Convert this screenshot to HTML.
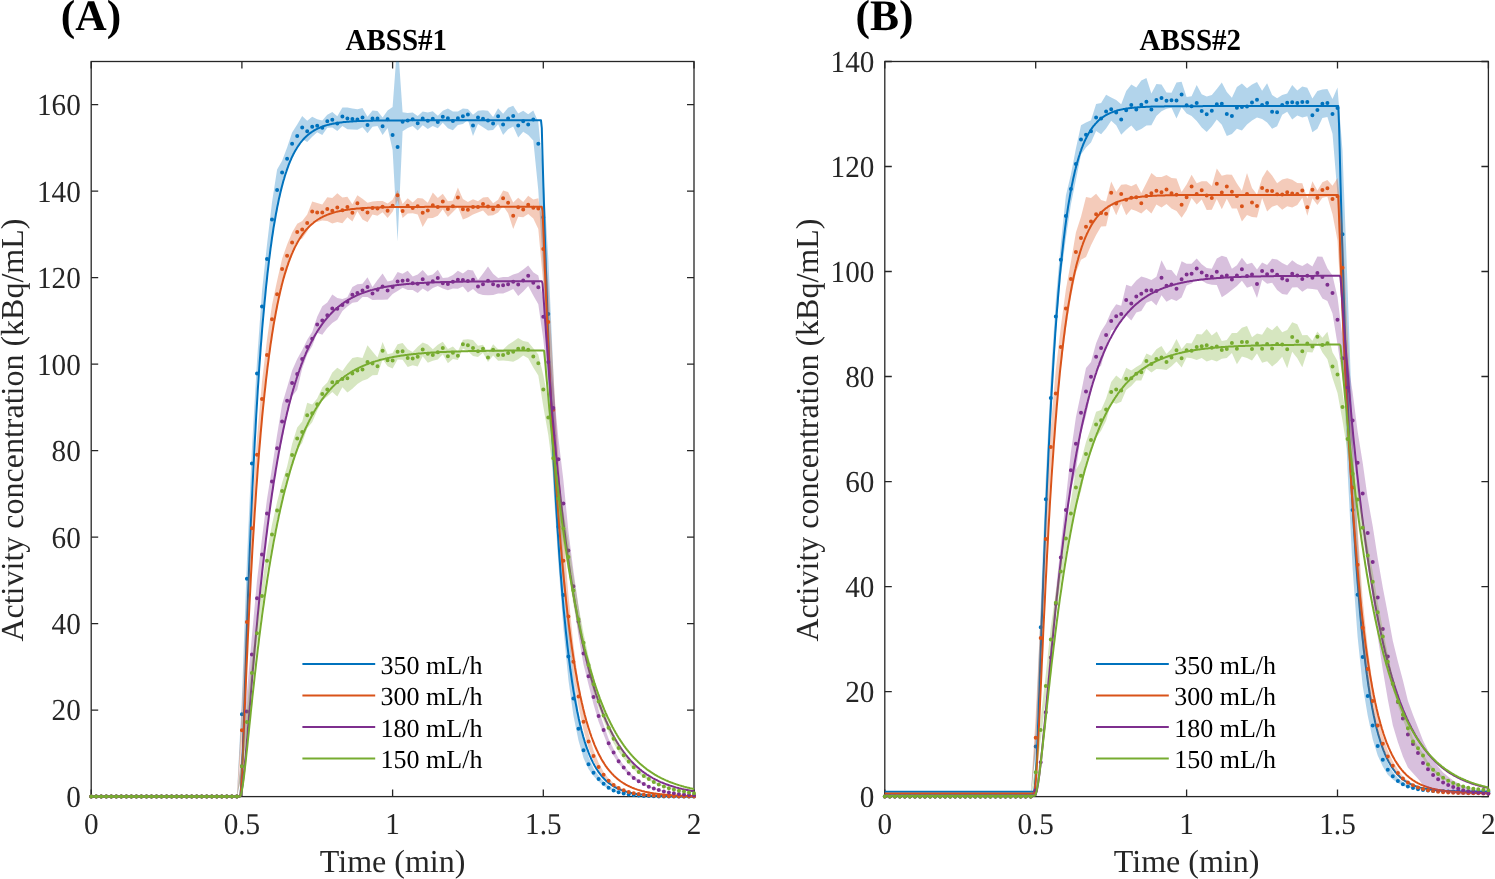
<!DOCTYPE html>
<html><head><meta charset="utf-8"><style>
html,body{margin:0;padding:0;background:#fff;overflow:hidden;width:1495px;height:879px;}
svg{display:block;}
text{font-family:"Liberation Serif","Times New Roman",serif;fill:#262626;text-rendering:geometricPrecision;}
.tk{font-size:29.2px;}
.lab{font-size:32px;}
.ttl{font-size:29px;font-weight:bold;fill:#000;}
.tag{font-size:43.5px;font-weight:bold;fill:#000;}
.lg{font-size:26px;fill:#000;}
</style></head><body>
<svg width="1495" height="879" viewBox="0 0 1495 879">
<rect width="1495" height="879" fill="#fff"/>
<clipPath id="clipA"><rect x="91.2" y="61.5" width="602.8" height="735.1"/></clipPath>
<rect x="91.2" y="61.5" width="602.8" height="735.1" fill="none" stroke="#262626" stroke-width="1.3"/>
<path d="M91.2 796.6v-7M91.2 61.5v7M241.9 796.6v-7M241.9 61.5v7M392.6 796.6v-7M392.6 61.5v7M543.3 796.6v-7M543.3 61.5v7M694.0 796.6v-7M694.0 61.5v7M91.2 796.6h7M694.0 796.6h-7M91.2 710.1h7M694.0 710.1h-7M91.2 623.6h7M694.0 623.6h-7M91.2 537.2h7M694.0 537.2h-7M91.2 450.7h7M694.0 450.7h-7M91.2 364.2h7M694.0 364.2h-7M91.2 277.7h7M694.0 277.7h-7M91.2 191.2h7M694.0 191.2h-7M91.2 104.7h7M694.0 104.7h-7" stroke="#262626" stroke-width="1.3" fill="none"/>
<path clip-path="url(#clipA)" d="M91.2 796.1 L96.2 796.1 L101.2 796.1 L106.3 796.1 L111.3 796.1 L116.3 796.1 L121.3 796.1 L126.4 796.1 L131.4 796.1 L136.4 796.1 L141.4 796.1 L146.5 796.1 L151.5 796.1 L156.5 796.1 L161.5 796.1 L166.6 796.1 L171.6 796.1 L176.6 796.1 L181.6 796.1 L186.6 796.1 L191.7 796.1 L196.7 796.1 L201.7 796.1 L206.7 796.1 L211.8 796.1 L216.8 796.1 L221.8 796.1 L226.8 796.1 L231.9 796.1 L236.9 796.1 L241.9 696.7 L246.9 561.3 L251.9 448.8 L257.0 361.1 L262.0 291.2 L267.0 244.6 L272.0 202.2 L277.1 169.6 L282.1 160.7 L287.1 147.4 L292.1 132.5 L297.2 124.4 L302.2 116.0 L307.2 120.7 L312.2 116.7 L317.2 119.3 L322.3 120.6 L327.3 114.7 L332.3 111.9 L337.3 116.3 L342.4 107.4 L347.4 107.5 L352.4 108.4 L357.4 109.3 L362.5 108.0 L367.5 116.8 L372.5 110.5 L377.5 111.1 L382.6 117.4 L387.6 110.6 L392.6 106.9 L397.6 39.9 L402.6 112.3 L407.7 112.9 L412.7 112.5 L417.7 115.9 L422.7 111.5 L427.8 112.4 L432.8 111.3 L437.8 115.8 L442.8 110.8 L447.9 108.5 L452.9 111.6 L457.9 111.5 L462.9 108.6 L467.9 108.9 L473.0 114.7 L478.0 110.8 L483.0 110.3 L488.0 110.8 L493.1 117.1 L498.1 108.2 L503.1 113.8 L508.1 107.7 L513.2 105.8 L518.2 113.6 L523.2 110.8 L528.2 114.2 L533.3 110.4 L538.3 122.0 L543.3 174.0 L548.3 258.6 L553.3 370.4 L558.4 478.6 L563.4 558.5 L568.4 623.2 L573.4 675.6 L578.5 712.6 L583.5 738.8 L588.5 756.8 L593.5 768.2 L598.6 775.6 L603.6 781.2 L608.6 785.6 L613.6 789.0 L618.6 791.3 L623.7 792.9 L628.7 794.0 L633.7 794.8 L638.7 795.4 L643.8 795.7 L648.8 796.0 L653.8 796.2 L658.8 796.3 L663.9 796.4 L668.9 796.5 L673.9 796.5 L678.9 796.5 L684.0 796.6 L689.0 796.6 L694.0 796.6 L694.0 796.6 L689.0 796.6 L684.0 796.6 L678.9 796.6 L673.9 796.5 L668.9 796.5 L663.9 796.5 L658.8 796.4 L653.8 796.3 L648.8 796.2 L643.8 796.0 L638.7 795.8 L633.7 795.4 L628.7 794.8 L623.7 794.1 L618.6 793.0 L613.6 791.4 L608.6 789.1 L603.6 785.8 L598.6 781.5 L593.5 776.1 L588.5 768.9 L583.5 758.0 L578.5 740.5 L573.4 715.5 L568.4 680.1 L563.4 628.2 L558.4 563.5 L553.3 485.5 L548.3 381.8 L543.3 272.1 L538.3 190.4 L533.3 140.4 L528.2 135.0 L523.2 131.8 L518.2 137.4 L513.2 126.4 L508.1 129.2 L503.1 135.0 L498.1 124.3 L493.1 130.0 L488.0 130.4 L483.0 127.3 L478.0 124.1 L473.0 136.1 L467.9 120.1 L462.9 123.9 L457.9 125.0 L452.9 130.2 L447.9 128.2 L442.8 122.7 L437.8 128.2 L432.8 126.1 L427.8 129.0 L422.7 125.3 L417.7 130.5 L412.7 126.0 L407.7 127.9 L402.6 131.3 L397.6 241.4 L392.6 150.1 L387.6 128.1 L382.6 135.0 L377.5 126.0 L372.5 126.7 L367.5 133.2 L362.5 127.3 L357.4 129.8 L352.4 129.4 L347.4 129.3 L342.4 125.9 L337.3 130.9 L332.3 127.5 L327.3 127.8 L322.3 135.0 L317.2 132.3 L312.2 136.8 L307.2 141.9 L302.2 139.1 L297.2 147.6 L292.1 155.5 L287.1 170.7 L282.1 185.0 L277.1 211.0 L272.0 237.8 L267.0 275.2 L262.0 323.6 L257.0 388.5 L251.9 481.6 L246.9 598.7 L241.9 724.7 L236.9 797.1 L231.9 797.1 L226.8 797.1 L221.8 797.1 L216.8 797.1 L211.8 797.1 L206.7 797.1 L201.7 797.1 L196.7 797.1 L191.7 797.1 L186.6 797.1 L181.6 797.1 L176.6 797.1 L171.6 797.1 L166.6 797.1 L161.5 797.1 L156.5 797.1 L151.5 797.1 L146.5 797.1 L141.4 797.1 L136.4 797.1 L131.4 797.1 L126.4 797.1 L121.3 797.1 L116.3 797.1 L111.3 797.1 L106.3 797.1 L101.2 797.1 L96.2 797.1 L91.2 797.1Z" fill="#0072bd" fill-opacity="0.3" stroke="none"/>
<path d="M91.2 796.6h0M96.2 796.6h0M101.2 796.6h0M106.3 796.6h0M111.3 796.6h0M116.3 796.6h0M121.3 796.6h0M126.4 796.6h0M131.4 796.6h0M136.4 796.6h0M141.4 796.6h0M146.5 796.6h0M151.5 796.6h0M156.5 796.6h0M161.5 796.6h0M166.6 796.6h0M171.6 796.6h0M176.6 796.6h0M181.6 796.6h0M186.6 796.6h0M191.7 796.6h0M196.7 796.6h0M201.7 796.6h0M206.7 796.6h0M211.8 796.6h0M216.8 796.6h0M221.8 796.6h0M226.8 796.6h0M231.9 796.6h0M236.9 796.6h0M241.9 714.3h0M246.9 578.8h0M251.9 463.5h0M257.0 373.5h0M262.0 306.4h0M267.0 259.1h0M272.0 219.5h0M277.1 189.9h0M282.1 172.5h0M287.1 158.8h0M292.1 143.8h0M297.2 135.9h0M302.2 127.4h0M307.2 131.2h0M312.2 126.7h0M317.2 125.8h0M322.3 127.8h0M327.3 121.2h0M332.3 119.7h0M337.3 123.6h0M342.4 116.6h0M347.4 118.4h0M352.4 118.9h0M357.4 119.5h0M362.5 117.6h0M367.5 125.0h0M372.5 118.6h0M377.5 118.6h0M382.6 126.2h0M387.6 119.3h0M392.6 135.0h0M397.6 147.1h0M402.6 121.8h0M407.7 120.4h0M412.7 119.2h0M417.7 123.2h0M422.7 118.4h0M427.8 120.7h0M432.8 118.7h0M437.8 122.0h0M442.8 116.8h0M447.9 118.3h0M452.9 120.9h0M457.9 118.3h0M462.9 116.2h0M467.9 114.5h0M473.0 125.4h0M478.0 117.4h0M483.0 118.8h0M488.0 120.6h0M493.1 123.6h0M498.1 116.2h0M503.1 124.4h0M508.1 118.5h0M513.2 116.1h0M518.2 125.5h0M523.2 121.3h0M528.2 124.6h0M533.3 119.6h0M538.3 143.7h0M543.3 217.2h0M548.3 314.0h0M553.3 435.5h0M558.4 526.8h0M563.4 595.1h0M568.4 656.5h0M573.4 698.4h0M578.5 728.7h0M583.5 750.3h0M588.5 764.2h0M593.5 772.8h0M598.6 778.9h0M603.6 783.7h0M608.6 787.7h0M613.6 790.4h0M618.6 792.3h0M623.7 793.6h0M628.7 794.5h0M633.7 795.1h0M638.7 795.6h0M643.8 795.9h0M648.8 796.1h0M653.8 796.3h0M658.8 796.4h0M663.9 796.4h0M668.9 796.5h0M673.9 796.5h0M678.9 796.5h0M684.0 796.6h0M689.0 796.6h0M694.0 796.6h0" stroke="#0072bd" stroke-width="4" stroke-linecap="round" fill="none"/>
<polyline points="91.2,796.6 92.0,796.6 92.7,796.6 93.5,796.6 94.2,796.6 95.0,796.6 95.7,796.6 96.5,796.6 97.2,796.6 98.0,796.6 98.7,796.6 99.5,796.6 100.2,796.6 101.0,796.6 101.7,796.6 102.5,796.6 103.3,796.6 104.0,796.6 104.8,796.6 105.5,796.6 106.3,796.6 107.0,796.6 107.8,796.6 108.5,796.6 109.3,796.6 110.0,796.6 110.8,796.6 111.5,796.6 112.3,796.6 113.1,796.6 113.8,796.6 114.6,796.6 115.3,796.6 116.1,796.6 116.8,796.6 117.6,796.6 118.3,796.6 119.1,796.6 119.8,796.6 120.6,796.6 121.3,796.6 122.1,796.6 122.8,796.6 123.6,796.6 124.4,796.6 125.1,796.6 125.9,796.6 126.6,796.6 127.4,796.6 128.1,796.6 128.9,796.6 129.6,796.6 130.4,796.6 131.1,796.6 131.9,796.6 132.6,796.6 133.4,796.6 134.1,796.6 134.9,796.6 135.7,796.6 136.4,796.6 137.2,796.6 137.9,796.6 138.7,796.6 139.4,796.6 140.2,796.6 140.9,796.6 141.7,796.6 142.4,796.6 143.2,796.6 143.9,796.6 144.7,796.6 145.5,796.6 146.2,796.6 147.0,796.6 147.7,796.6 148.5,796.6 149.2,796.6 150.0,796.6 150.7,796.6 151.5,796.6 152.2,796.6 153.0,796.6 153.7,796.6 154.5,796.6 155.2,796.6 156.0,796.6 156.8,796.6 157.5,796.6 158.3,796.6 159.0,796.6 159.8,796.6 160.5,796.6 161.3,796.6 162.0,796.6 162.8,796.6 163.5,796.6 164.3,796.6 165.0,796.6 165.8,796.6 166.6,796.6 167.3,796.6 168.1,796.6 168.8,796.6 169.6,796.6 170.3,796.6 171.1,796.6 171.8,796.6 172.6,796.6 173.3,796.6 174.1,796.6 174.8,796.6 175.6,796.6 176.3,796.6 177.1,796.6 177.9,796.6 178.6,796.6 179.4,796.6 180.1,796.6 180.9,796.6 181.6,796.6 182.4,796.6 183.1,796.6 183.9,796.6 184.6,796.6 185.4,796.6 186.1,796.6 186.9,796.6 187.6,796.6 188.4,796.6 189.2,796.6 189.9,796.6 190.7,796.6 191.4,796.6 192.2,796.6 192.9,796.6 193.7,796.6 194.4,796.6 195.2,796.6 195.9,796.6 196.7,796.6 197.4,796.6 198.2,796.6 199.0,796.6 199.7,796.6 200.5,796.6 201.2,796.6 202.0,796.6 202.7,796.6 203.5,796.6 204.2,796.6 205.0,796.6 205.7,796.6 206.5,796.6 207.2,796.6 208.0,796.6 208.7,796.6 209.5,796.6 210.3,796.6 211.0,796.6 211.8,796.6 212.5,796.6 213.3,796.6 214.0,796.6 214.8,796.6 215.5,796.6 216.3,796.6 217.0,796.6 217.8,796.6 218.5,796.6 219.3,796.6 220.0,796.6 220.8,796.6 221.6,796.6 222.3,796.6 223.1,796.6 223.8,796.6 224.6,796.6 225.3,796.6 226.1,796.6 226.8,796.6 227.6,796.6 228.3,796.6 229.1,796.6 229.8,796.6 230.6,796.6 231.4,796.6 232.1,796.6 232.9,796.6 233.6,796.6 234.4,796.6 235.1,796.6 235.9,796.6 236.6,796.6 237.4,796.6 238.1,796.6 238.9,796.6 239.6,796.6 240.4,795.7 241.1,786.7 241.9,771.4 242.7,752.2 243.4,730.8 244.2,708.4 244.9,685.6 245.7,663.0 246.4,640.8 247.2,619.2 247.9,598.3 248.7,578.1 249.4,558.6 250.2,540.0 250.9,522.0 251.7,504.9 252.4,488.4 253.2,472.6 254.0,457.5 254.7,443.1 255.5,429.2 256.2,416.0 257.0,403.3 257.7,391.1 258.5,379.5 259.2,368.4 260.0,357.8 260.7,347.6 261.5,337.8 262.2,328.5 263.0,319.5 263.8,311.0 264.5,302.8 265.3,295.0 266.0,287.5 266.8,280.3 267.5,273.4 268.3,266.9 269.0,260.6 269.8,254.6 270.5,248.8 271.3,243.3 272.0,238.0 272.8,233.0 273.5,228.1 274.3,223.5 275.1,219.1 275.8,214.8 276.6,210.8 277.3,206.9 278.1,203.2 278.8,199.6 279.6,196.2 280.3,193.0 281.1,189.8 281.8,186.9 282.6,184.0 283.3,181.3 284.1,178.7 284.8,176.2 285.6,173.8 286.4,171.5 287.1,169.3 287.9,167.2 288.6,165.2 289.4,163.2 290.1,161.4 290.9,159.6 291.6,157.9 292.4,156.3 293.1,154.8 293.9,153.3 294.6,151.9 295.4,150.5 296.2,149.2 296.9,148.0 297.7,146.8 298.4,145.7 299.2,144.6 299.9,143.5 300.7,142.5 301.4,141.6 302.2,140.7 302.9,139.8 303.7,139.0 304.4,138.2 305.2,137.4 305.9,136.7 306.7,136.0 307.5,135.3 308.2,134.6 309.0,134.0 309.7,133.4 310.5,132.9 311.2,132.3 312.0,131.8 312.7,131.3 313.5,130.9 314.2,130.4 315.0,130.0 315.7,129.6 316.5,129.2 317.2,128.8 318.0,128.4 318.8,128.1 319.5,127.7 320.3,127.4 321.0,127.1 321.8,126.8 322.5,126.5 323.3,126.3 324.0,126.0 324.8,125.8 325.5,125.5 326.3,125.3 327.0,125.1 327.8,124.9 328.6,124.7 329.3,124.5 330.1,124.3 330.8,124.2 331.6,124.0 332.3,123.8 333.1,123.7 333.8,123.5 334.6,123.4 335.3,123.3 336.1,123.1 336.8,123.0 337.6,122.9 338.3,122.8 339.1,122.7 339.9,122.6 340.6,122.5 341.4,122.4 342.1,122.3 342.9,122.2 343.6,122.1 344.4,122.1 345.1,122.0 345.9,121.9 346.6,121.8 347.4,121.8 348.1,121.7 348.9,121.7 349.7,121.6 350.4,121.5 351.2,121.5 351.9,121.4 352.7,121.4 353.4,121.3 354.2,121.3 354.9,121.3 355.7,121.2 356.4,121.2 357.2,121.1 357.9,121.1 358.7,121.1 359.4,121.0 360.2,121.0 361.0,121.0 361.7,120.9 362.5,120.9 363.2,120.9 364.0,120.9 364.7,120.8 365.5,120.8 366.2,120.8 367.0,120.8 367.7,120.8 368.5,120.7 369.2,120.7 370.0,120.7 370.7,120.7 371.5,120.7 372.3,120.7 373.0,120.6 373.8,120.6 374.5,120.6 375.3,120.6 376.0,120.6 376.8,120.6 377.5,120.6 378.3,120.6 379.0,120.5 379.8,120.5 380.5,120.5 381.3,120.5 382.1,120.5 382.8,120.5 383.6,120.5 384.3,120.5 385.1,120.5 385.8,120.5 386.6,120.5 387.3,120.5 388.1,120.4 388.8,120.4 389.6,120.4 390.3,120.4 391.1,120.4 391.8,120.4 392.6,120.4 393.4,120.4 394.1,120.4 394.9,120.4 395.6,120.4 396.4,120.4 397.1,120.4 397.9,120.4 398.6,120.4 399.4,120.4 400.1,120.4 400.9,120.4 401.6,120.4 402.4,120.4 403.1,120.4 403.9,120.4 404.7,120.4 405.4,120.4 406.2,120.4 406.9,120.4 407.7,120.4 408.4,120.3 409.2,120.3 409.9,120.3 410.7,120.3 411.4,120.3 412.2,120.3 412.9,120.3 413.7,120.3 414.5,120.3 415.2,120.3 416.0,120.3 416.7,120.3 417.5,120.3 418.2,120.3 419.0,120.3 419.7,120.3 420.5,120.3 421.2,120.3 422.0,120.3 422.7,120.3 423.5,120.3 424.2,120.3 425.0,120.3 425.8,120.3 426.5,120.3 427.3,120.3 428.0,120.3 428.8,120.3 429.5,120.3 430.3,120.3 431.0,120.3 431.8,120.3 432.5,120.3 433.3,120.3 434.0,120.3 434.8,120.3 435.5,120.3 436.3,120.3 437.1,120.3 437.8,120.3 438.6,120.3 439.3,120.3 440.1,120.3 440.8,120.3 441.6,120.3 442.3,120.3 443.1,120.3 443.8,120.3 444.6,120.3 445.3,120.3 446.1,120.3 446.9,120.3 447.6,120.3 448.4,120.3 449.1,120.3 449.9,120.3 450.6,120.3 451.4,120.3 452.1,120.3 452.9,120.3 453.6,120.3 454.4,120.3 455.1,120.3 455.9,120.3 456.6,120.3 457.4,120.3 458.2,120.3 458.9,120.3 459.7,120.3 460.4,120.3 461.2,120.3 461.9,120.3 462.7,120.3 463.4,120.3 464.2,120.3 464.9,120.3 465.7,120.3 466.4,120.3 467.2,120.3 467.9,120.3 468.7,120.3 469.5,120.3 470.2,120.3 471.0,120.3 471.7,120.3 472.5,120.3 473.2,120.3 474.0,120.3 474.7,120.3 475.5,120.3 476.2,120.3 477.0,120.3 477.7,120.3 478.5,120.3 479.3,120.3 480.0,120.3 480.8,120.3 481.5,120.3 482.3,120.3 483.0,120.3 483.8,120.3 484.5,120.3 485.3,120.3 486.0,120.3 486.8,120.3 487.5,120.3 488.3,120.3 489.0,120.3 489.8,120.3 490.6,120.3 491.3,120.3 492.1,120.3 492.8,120.3 493.6,120.3 494.3,120.3 495.1,120.3 495.8,120.3 496.6,120.3 497.3,120.3 498.1,120.3 498.8,120.3 499.6,120.3 500.4,120.3 501.1,120.3 501.9,120.3 502.6,120.3 503.4,120.3 504.1,120.3 504.9,120.3 505.6,120.3 506.4,120.3 507.1,120.3 507.9,120.3 508.6,120.3 509.4,120.3 510.1,120.3 510.9,120.3 511.7,120.3 512.4,120.3 513.2,120.3 513.9,120.3 514.7,120.3 515.4,120.3 516.2,120.3 516.9,120.3 517.7,120.3 518.4,120.3 519.2,120.3 519.9,120.3 520.7,120.3 521.4,120.3 522.2,120.3 523.0,120.3 523.7,120.3 524.5,120.3 525.2,120.3 526.0,120.3 526.7,120.3 527.5,120.3 528.2,120.3 529.0,120.3 529.7,120.3 530.5,120.3 531.2,120.3 532.0,120.3 532.8,120.3 533.5,120.3 534.3,120.3 535.0,120.3 535.8,120.3 536.5,120.3 537.3,120.3 538.0,120.3 538.8,120.3 539.5,120.3 540.3,120.3 541.0,120.3 541.8,128.0 542.5,155.0 543.3,182.5 544.1,208.8 544.8,234.0 545.6,258.2 546.3,281.3 547.1,303.4 547.8,324.6 548.6,344.8 549.3,364.2 550.1,382.8 550.8,400.5 551.6,417.5 552.3,433.8 553.1,449.3 553.8,464.2 554.6,478.5 555.4,492.2 556.1,505.2 556.9,517.7 557.6,529.7 558.4,541.1 559.1,552.1 559.9,562.6 560.6,572.6 561.4,582.3 562.1,591.4 562.9,600.3 563.6,608.7 564.4,616.7 565.2,624.5 565.9,631.8 566.7,638.9 567.4,645.7 568.2,652.2 568.9,658.4 569.7,664.3 570.4,670.0 571.2,675.4 571.9,680.6 572.7,685.6 573.4,690.3 574.2,694.9 574.9,699.3 575.7,703.4 576.5,707.4 577.2,711.3 578.0,714.9 578.7,718.4 579.5,721.8 580.2,725.0 581.0,728.1 581.7,731.0 582.5,733.8 583.2,736.5 584.0,739.1 584.7,741.6 585.5,743.9 586.2,746.2 587.0,748.4 587.8,750.4 588.5,752.4 589.3,754.3 590.0,756.1 590.8,757.9 591.5,759.5 592.3,761.1 593.0,762.6 593.8,764.1 594.5,765.5 595.3,766.8 596.0,768.1 596.8,769.3 597.6,770.5 598.3,771.6 599.1,772.7 599.8,773.7 600.6,774.7 601.3,775.6 602.1,776.5 602.8,777.4 603.6,778.2 604.3,779.0 605.1,779.8 605.8,780.5 606.6,781.2 607.3,781.8 608.1,782.5 608.9,783.1 609.6,783.7 610.4,784.2 611.1,784.7 611.9,785.3 612.6,785.7 613.4,786.2 614.1,786.7 614.9,787.1 615.6,787.5 616.4,787.9 617.1,788.3 617.9,788.6 618.6,789.0 619.4,789.3 620.2,789.6 620.9,789.9 621.7,790.2 622.4,790.5 623.2,790.7 623.9,791.0 624.7,791.2 625.4,791.4 626.2,791.7 626.9,791.9 627.7,792.1 628.4,792.3 629.2,792.5 630.0,792.6 630.7,792.8 631.5,793.0 632.2,793.1 633.0,793.3 633.7,793.4 634.5,793.6 635.2,793.7 636.0,793.8 636.7,793.9 637.5,794.0 638.2,794.2 639.0,794.3 639.7,794.4 640.5,794.5 641.3,794.5 642.0,794.6 642.8,794.7 643.5,794.8 644.3,794.9 645.0,795.0 645.8,795.0 646.5,795.1 647.3,795.2 648.0,795.2 648.8,795.3 649.5,795.3 650.3,795.4 651.1,795.4 651.8,795.5 652.6,795.5 653.3,795.6 654.1,795.6 654.8,795.7 655.6,795.7 656.3,795.7 657.1,795.8 657.8,795.8 658.6,795.9 659.3,795.9 660.1,795.9 660.8,795.9 661.6,796.0 662.4,796.0 663.1,796.0 663.9,796.0 664.6,796.1 665.4,796.1 666.1,796.1 666.9,796.1 667.6,796.2 668.4,796.2 669.1,796.2 669.9,796.2 670.6,796.2 671.4,796.2 672.1,796.3 672.9,796.3 673.7,796.3 674.4,796.3 675.2,796.3 675.9,796.3 676.7,796.3 677.4,796.4 678.2,796.4 678.9,796.4 679.7,796.4 680.4,796.4 681.2,796.4 681.9,796.4 682.7,796.4 683.5,796.4 684.2,796.4 685.0,796.4 685.7,796.4 686.5,796.5 687.2,796.5 688.0,796.5 688.7,796.5 689.5,796.5 690.2,796.5 691.0,796.5 691.7,796.5 692.5,796.5 693.2,796.5 694.0,796.5" fill="none" stroke="#0072bd" stroke-width="2" stroke-linejoin="round"/>
<path clip-path="url(#clipA)" d="M91.2 796.1 L96.2 796.1 L101.2 796.1 L106.3 796.1 L111.3 796.1 L116.3 796.1 L121.3 796.1 L126.4 796.1 L131.4 796.1 L136.4 796.1 L141.4 796.1 L146.5 796.1 L151.5 796.1 L156.5 796.1 L161.5 796.1 L166.6 796.1 L171.6 796.1 L176.6 796.1 L181.6 796.1 L186.6 796.1 L191.7 796.1 L196.7 796.1 L201.7 796.1 L206.7 796.1 L211.8 796.1 L216.8 796.1 L221.8 796.1 L226.8 796.1 L231.9 796.1 L236.9 796.1 L241.9 707.7 L246.9 600.9 L251.9 510.1 L257.0 438.2 L262.0 381.4 L267.0 339.4 L272.0 305.0 L277.1 280.8 L282.1 258.7 L287.1 244.4 L292.1 232.5 L297.2 223.7 L302.2 220.9 L307.2 214.5 L312.2 201.4 L317.2 203.1 L322.3 204.4 L327.3 197.2 L332.3 197.9 L337.3 193.3 L342.4 197.4 L347.4 196.7 L352.4 204.3 L357.4 195.3 L362.5 198.7 L367.5 202.7 L372.5 201.6 L377.5 201.0 L382.6 201.0 L387.6 203.5 L392.6 199.8 L397.6 190.0 L402.6 204.1 L407.7 198.2 L412.7 202.5 L417.7 198.0 L422.7 198.5 L427.8 202.8 L432.8 192.6 L437.8 198.1 L442.8 193.7 L447.9 201.2 L452.9 200.4 L457.9 187.6 L462.9 199.0 L467.9 201.9 L473.0 199.2 L478.0 201.3 L483.0 197.6 L488.0 197.0 L493.1 203.3 L498.1 199.7 L503.1 190.5 L508.1 192.1 L513.2 202.6 L518.2 197.7 L523.2 202.0 L528.2 195.7 L533.3 199.5 L538.3 198.2 L543.3 226.1 L548.3 284.9 L553.3 371.9 L558.4 458.1 L563.4 532.2 L568.4 594.9 L573.4 644.6 L578.5 683.5 L583.5 711.0 L588.5 733.6 L593.5 750.3 L598.6 762.8 L603.6 771.9 L608.6 778.4 L613.6 783.3 L618.6 786.8 L623.7 789.4 L628.7 791.3 L633.7 792.8 L638.7 793.8 L643.8 794.5 L648.8 795.1 L653.8 795.5 L658.8 795.8 L663.9 796.0 L668.9 796.2 L673.9 796.3 L678.9 796.4 L684.0 796.4 L689.0 796.5 L694.0 796.5 L694.0 796.5 L689.0 796.5 L684.0 796.5 L678.9 796.4 L673.9 796.4 L668.9 796.3 L663.9 796.1 L658.8 796.0 L653.8 795.8 L648.8 795.5 L643.8 795.0 L638.7 794.4 L633.7 793.6 L628.7 792.5 L623.7 791.0 L618.6 788.9 L613.6 786.4 L608.6 782.4 L603.6 777.1 L598.6 770.2 L593.5 760.6 L588.5 747.8 L583.5 730.1 L578.5 706.6 L573.4 675.4 L568.4 633.9 L563.4 584.8 L558.4 521.0 L553.3 446.1 L548.3 363.5 L543.3 284.1 L538.3 229.1 L533.3 218.4 L528.2 213.9 L523.2 217.2 L518.2 216.8 L513.2 229.1 L508.1 213.2 L503.1 206.0 L498.1 212.6 L493.1 215.2 L488.0 215.7 L483.0 210.5 L478.0 212.6 L473.0 214.6 L467.9 217.6 L462.9 219.6 L457.9 207.1 L452.9 212.0 L447.9 216.9 L442.8 209.3 L437.8 215.8 L432.8 218.1 L427.8 218.3 L422.7 227.0 L417.7 214.5 L412.7 213.3 L407.7 213.4 L402.6 218.1 L397.6 200.5 L392.6 211.7 L387.6 218.1 L382.6 212.3 L377.5 215.8 L372.5 214.5 L367.5 222.3 L362.5 219.6 L357.4 211.3 L352.4 221.4 L347.4 217.3 L342.4 223.3 L337.3 222.0 L332.3 223.6 L327.3 220.9 L322.3 220.6 L317.2 222.1 L312.2 222.1 L307.2 231.6 L302.2 238.5 L297.2 240.7 L292.1 253.1 L287.1 267.7 L282.1 280.5 L277.1 308.7 L272.0 335.1 L267.0 372.4 L262.0 418.9 L257.0 474.4 L251.9 550.2 L246.9 646.3 L241.9 743.3 L236.9 797.1 L231.9 797.1 L226.8 797.1 L221.8 797.1 L216.8 797.1 L211.8 797.1 L206.7 797.1 L201.7 797.1 L196.7 797.1 L191.7 797.1 L186.6 797.1 L181.6 797.1 L176.6 797.1 L171.6 797.1 L166.6 797.1 L161.5 797.1 L156.5 797.1 L151.5 797.1 L146.5 797.1 L141.4 797.1 L136.4 797.1 L131.4 797.1 L126.4 797.1 L121.3 797.1 L116.3 797.1 L111.3 797.1 L106.3 797.1 L101.2 797.1 L96.2 797.1 L91.2 797.1Z" fill="#d95319" fill-opacity="0.3" stroke="none"/>
<path d="M91.2 796.6h0M96.2 796.6h0M101.2 796.6h0M106.3 796.6h0M111.3 796.6h0M116.3 796.6h0M121.3 796.6h0M126.4 796.6h0M131.4 796.6h0M136.4 796.6h0M141.4 796.6h0M146.5 796.6h0M151.5 796.6h0M156.5 796.6h0M161.5 796.6h0M166.6 796.6h0M171.6 796.6h0M176.6 796.6h0M181.6 796.6h0M186.6 796.6h0M191.7 796.6h0M196.7 796.6h0M201.7 796.6h0M206.7 796.6h0M211.8 796.6h0M216.8 796.6h0M221.8 796.6h0M226.8 796.6h0M231.9 796.6h0M236.9 796.6h0M241.9 730.2h0M246.9 622.0h0M251.9 528.2h0M257.0 454.7h0M262.0 398.9h0M267.0 354.9h0M272.0 319.3h0M277.1 294.2h0M282.1 269.1h0M287.1 255.7h0M292.1 242.5h0M297.2 232.0h0M302.2 229.5h0M307.2 222.9h0M312.2 211.6h0M317.2 212.5h0M322.3 212.4h0M327.3 209.0h0M332.3 210.7h0M337.3 207.6h0M342.4 210.3h0M347.4 207.0h0M352.4 212.8h0M357.4 203.3h0M362.5 209.2h0M367.5 212.5h0M372.5 208.0h0M377.5 208.4h0M382.6 206.7h0M387.6 210.8h0M392.6 205.8h0M397.6 195.2h0M402.6 211.1h0M407.7 205.8h0M412.7 207.9h0M417.7 206.2h0M422.7 212.7h0M427.8 210.6h0M432.8 205.3h0M437.8 206.9h0M442.8 201.5h0M447.9 209.1h0M452.9 206.2h0M457.9 197.4h0M462.9 209.3h0M467.9 209.7h0M473.0 206.9h0M478.0 206.9h0M483.0 204.1h0M488.0 206.4h0M493.1 209.2h0M498.1 206.1h0M503.1 198.2h0M508.1 202.7h0M513.2 215.8h0M518.2 207.3h0M523.2 209.6h0M528.2 204.8h0M533.3 207.7h0M538.3 208.5h0M543.3 248.9h0M548.3 321.9h0M553.3 409.8h0M558.4 491.6h0M563.4 560.8h0M568.4 616.5h0M573.4 661.8h0M578.5 696.5h0M583.5 721.7h0M588.5 741.6h0M593.5 756.1h0M598.6 767.0h0M603.6 774.8h0M608.6 780.7h0M613.6 785.1h0M618.6 788.0h0M623.7 790.3h0M628.7 792.0h0M633.7 793.2h0M638.7 794.1h0M643.8 794.8h0M648.8 795.3h0M653.8 795.6h0M658.8 795.9h0M663.9 796.1h0M668.9 796.2h0M673.9 796.3h0M678.9 796.4h0M684.0 796.5h0M689.0 796.5h0M694.0 796.5h0" stroke="#d95319" stroke-width="4" stroke-linecap="round" fill="none"/>
<polyline points="91.2,796.6 92.0,796.6 92.7,796.6 93.5,796.6 94.2,796.6 95.0,796.6 95.7,796.6 96.5,796.6 97.2,796.6 98.0,796.6 98.7,796.6 99.5,796.6 100.2,796.6 101.0,796.6 101.7,796.6 102.5,796.6 103.3,796.6 104.0,796.6 104.8,796.6 105.5,796.6 106.3,796.6 107.0,796.6 107.8,796.6 108.5,796.6 109.3,796.6 110.0,796.6 110.8,796.6 111.5,796.6 112.3,796.6 113.1,796.6 113.8,796.6 114.6,796.6 115.3,796.6 116.1,796.6 116.8,796.6 117.6,796.6 118.3,796.6 119.1,796.6 119.8,796.6 120.6,796.6 121.3,796.6 122.1,796.6 122.8,796.6 123.6,796.6 124.4,796.6 125.1,796.6 125.9,796.6 126.6,796.6 127.4,796.6 128.1,796.6 128.9,796.6 129.6,796.6 130.4,796.6 131.1,796.6 131.9,796.6 132.6,796.6 133.4,796.6 134.1,796.6 134.9,796.6 135.7,796.6 136.4,796.6 137.2,796.6 137.9,796.6 138.7,796.6 139.4,796.6 140.2,796.6 140.9,796.6 141.7,796.6 142.4,796.6 143.2,796.6 143.9,796.6 144.7,796.6 145.5,796.6 146.2,796.6 147.0,796.6 147.7,796.6 148.5,796.6 149.2,796.6 150.0,796.6 150.7,796.6 151.5,796.6 152.2,796.6 153.0,796.6 153.7,796.6 154.5,796.6 155.2,796.6 156.0,796.6 156.8,796.6 157.5,796.6 158.3,796.6 159.0,796.6 159.8,796.6 160.5,796.6 161.3,796.6 162.0,796.6 162.8,796.6 163.5,796.6 164.3,796.6 165.0,796.6 165.8,796.6 166.6,796.6 167.3,796.6 168.1,796.6 168.8,796.6 169.6,796.6 170.3,796.6 171.1,796.6 171.8,796.6 172.6,796.6 173.3,796.6 174.1,796.6 174.8,796.6 175.6,796.6 176.3,796.6 177.1,796.6 177.9,796.6 178.6,796.6 179.4,796.6 180.1,796.6 180.9,796.6 181.6,796.6 182.4,796.6 183.1,796.6 183.9,796.6 184.6,796.6 185.4,796.6 186.1,796.6 186.9,796.6 187.6,796.6 188.4,796.6 189.2,796.6 189.9,796.6 190.7,796.6 191.4,796.6 192.2,796.6 192.9,796.6 193.7,796.6 194.4,796.6 195.2,796.6 195.9,796.6 196.7,796.6 197.4,796.6 198.2,796.6 199.0,796.6 199.7,796.6 200.5,796.6 201.2,796.6 202.0,796.6 202.7,796.6 203.5,796.6 204.2,796.6 205.0,796.6 205.7,796.6 206.5,796.6 207.2,796.6 208.0,796.6 208.7,796.6 209.5,796.6 210.3,796.6 211.0,796.6 211.8,796.6 212.5,796.6 213.3,796.6 214.0,796.6 214.8,796.6 215.5,796.6 216.3,796.6 217.0,796.6 217.8,796.6 218.5,796.6 219.3,796.6 220.0,796.6 220.8,796.6 221.6,796.6 222.3,796.6 223.1,796.6 223.8,796.6 224.6,796.6 225.3,796.6 226.1,796.6 226.8,796.6 227.6,796.6 228.3,796.6 229.1,796.6 229.8,796.6 230.6,796.6 231.4,796.6 232.1,796.6 232.9,796.6 233.6,796.6 234.4,796.6 235.1,796.6 235.9,796.6 236.6,796.6 237.4,796.6 238.1,796.6 238.9,796.6 239.6,796.6 240.4,795.8 241.1,788.0 241.9,774.9 242.7,759.0 243.4,741.6 244.2,723.6 244.9,705.6 245.7,687.8 246.4,670.3 247.2,653.3 247.9,636.9 248.7,621.0 249.4,605.7 250.2,590.9 250.9,576.6 251.7,562.9 252.4,549.7 253.2,536.9 254.0,524.6 254.7,512.8 255.5,501.5 256.2,490.5 257.0,480.0 257.7,469.8 258.5,460.0 259.2,450.6 260.0,441.6 260.7,432.8 261.5,424.4 262.2,416.3 263.0,408.5 263.8,401.0 264.5,393.8 265.3,386.9 266.0,380.2 266.8,373.7 267.5,367.5 268.3,361.6 269.0,355.8 269.8,350.3 270.5,344.9 271.3,339.8 272.0,334.9 272.8,330.1 273.5,325.5 274.3,321.1 275.1,316.8 275.8,312.8 276.6,308.8 277.3,305.0 278.1,301.4 278.8,297.9 279.6,294.5 280.3,291.2 281.1,288.1 281.8,285.1 282.6,282.1 283.3,279.3 284.1,276.6 284.8,274.1 285.6,271.6 286.4,269.1 287.1,266.8 287.9,264.6 288.6,262.4 289.4,260.4 290.1,258.4 290.9,256.5 291.6,254.6 292.4,252.8 293.1,251.1 293.9,249.5 294.6,247.9 295.4,246.4 296.2,244.9 296.9,243.5 297.7,242.1 298.4,240.8 299.2,239.5 299.9,238.3 300.7,237.2 301.4,236.0 302.2,234.9 302.9,233.9 303.7,232.9 304.4,231.9 305.2,231.0 305.9,230.1 306.7,229.2 307.5,228.4 308.2,227.6 309.0,226.8 309.7,226.1 310.5,225.3 311.2,224.7 312.0,224.0 312.7,223.4 313.5,222.7 314.2,222.1 315.0,221.6 315.7,221.0 316.5,220.5 317.2,220.0 318.0,219.5 318.8,219.0 319.5,218.6 320.3,218.1 321.0,217.7 321.8,217.3 322.5,216.9 323.3,216.5 324.0,216.2 324.8,215.8 325.5,215.5 326.3,215.2 327.0,214.9 327.8,214.6 328.6,214.3 329.3,214.0 330.1,213.7 330.8,213.5 331.6,213.2 332.3,213.0 333.1,212.7 333.8,212.5 334.6,212.3 335.3,212.1 336.1,211.9 336.8,211.7 337.6,211.5 338.3,211.4 339.1,211.2 339.9,211.0 340.6,210.9 341.4,210.7 342.1,210.6 342.9,210.4 343.6,210.3 344.4,210.2 345.1,210.0 345.9,209.9 346.6,209.8 347.4,209.7 348.1,209.6 348.9,209.5 349.7,209.4 350.4,209.3 351.2,209.2 351.9,209.1 352.7,209.0 353.4,208.9 354.2,208.9 354.9,208.8 355.7,208.7 356.4,208.6 357.2,208.6 357.9,208.5 358.7,208.4 359.4,208.4 360.2,208.3 361.0,208.3 361.7,208.2 362.5,208.1 363.2,208.1 364.0,208.1 364.7,208.0 365.5,208.0 366.2,207.9 367.0,207.9 367.7,207.8 368.5,207.8 369.2,207.8 370.0,207.7 370.7,207.7 371.5,207.7 372.3,207.6 373.0,207.6 373.8,207.6 374.5,207.5 375.3,207.5 376.0,207.5 376.8,207.5 377.5,207.4 378.3,207.4 379.0,207.4 379.8,207.4 380.5,207.3 381.3,207.3 382.1,207.3 382.8,207.3 383.6,207.3 384.3,207.2 385.1,207.2 385.8,207.2 386.6,207.2 387.3,207.2 388.1,207.2 388.8,207.2 389.6,207.1 390.3,207.1 391.1,207.1 391.8,207.1 392.6,207.1 393.4,207.1 394.1,207.1 394.9,207.1 395.6,207.0 396.4,207.0 397.1,207.0 397.9,207.0 398.6,207.0 399.4,207.0 400.1,207.0 400.9,207.0 401.6,207.0 402.4,207.0 403.1,207.0 403.9,207.0 404.7,207.0 405.4,206.9 406.2,206.9 406.9,206.9 407.7,206.9 408.4,206.9 409.2,206.9 409.9,206.9 410.7,206.9 411.4,206.9 412.2,206.9 412.9,206.9 413.7,206.9 414.5,206.9 415.2,206.9 416.0,206.9 416.7,206.9 417.5,206.9 418.2,206.9 419.0,206.9 419.7,206.9 420.5,206.9 421.2,206.9 422.0,206.9 422.7,206.9 423.5,206.9 424.2,206.9 425.0,206.8 425.8,206.8 426.5,206.8 427.3,206.8 428.0,206.8 428.8,206.8 429.5,206.8 430.3,206.8 431.0,206.8 431.8,206.8 432.5,206.8 433.3,206.8 434.0,206.8 434.8,206.8 435.5,206.8 436.3,206.8 437.1,206.8 437.8,206.8 438.6,206.8 439.3,206.8 440.1,206.8 440.8,206.8 441.6,206.8 442.3,206.8 443.1,206.8 443.8,206.8 444.6,206.8 445.3,206.8 446.1,206.8 446.9,206.8 447.6,206.8 448.4,206.8 449.1,206.8 449.9,206.8 450.6,206.8 451.4,206.8 452.1,206.8 452.9,206.8 453.6,206.8 454.4,206.8 455.1,206.8 455.9,206.8 456.6,206.8 457.4,206.8 458.2,206.8 458.9,206.8 459.7,206.8 460.4,206.8 461.2,206.8 461.9,206.8 462.7,206.8 463.4,206.8 464.2,206.8 464.9,206.8 465.7,206.8 466.4,206.8 467.2,206.8 467.9,206.8 468.7,206.8 469.5,206.8 470.2,206.8 471.0,206.8 471.7,206.8 472.5,206.8 473.2,206.8 474.0,206.8 474.7,206.8 475.5,206.8 476.2,206.8 477.0,206.8 477.7,206.8 478.5,206.8 479.3,206.8 480.0,206.8 480.8,206.8 481.5,206.8 482.3,206.8 483.0,206.8 483.8,206.8 484.5,206.8 485.3,206.8 486.0,206.8 486.8,206.8 487.5,206.8 488.3,206.8 489.0,206.8 489.8,206.8 490.6,206.8 491.3,206.8 492.1,206.8 492.8,206.8 493.6,206.8 494.3,206.8 495.1,206.8 495.8,206.8 496.6,206.8 497.3,206.8 498.1,206.8 498.8,206.8 499.6,206.8 500.4,206.8 501.1,206.8 501.9,206.8 502.6,206.8 503.4,206.8 504.1,206.8 504.9,206.8 505.6,206.8 506.4,206.8 507.1,206.8 507.9,206.8 508.6,206.8 509.4,206.8 510.1,206.8 510.9,206.8 511.7,206.8 512.4,206.8 513.2,206.8 513.9,206.8 514.7,206.8 515.4,206.8 516.2,206.8 516.9,206.8 517.7,206.8 518.4,206.8 519.2,206.8 519.9,206.8 520.7,206.8 521.4,206.8 522.2,206.8 523.0,206.8 523.7,206.8 524.5,206.8 525.2,206.8 526.0,206.8 526.7,206.8 527.5,206.8 528.2,206.8 529.0,206.8 529.7,206.8 530.5,206.8 531.2,206.8 532.0,206.8 532.8,206.8 533.5,206.8 534.3,206.8 535.0,206.8 535.8,206.8 536.5,206.8 537.3,206.8 538.0,206.8 538.8,206.8 539.5,206.8 540.3,206.8 541.0,206.8 541.8,206.8 542.5,210.9 543.3,229.0 544.1,248.4 544.8,267.4 545.6,285.7 546.3,303.3 547.1,320.4 547.8,336.9 548.6,352.8 549.3,368.1 550.1,383.0 550.8,397.3 551.6,411.1 552.3,424.4 553.1,437.3 553.8,449.7 554.6,461.7 555.4,473.3 556.1,484.5 556.9,495.3 557.6,505.7 558.4,515.8 559.1,525.5 559.9,534.9 560.6,543.9 561.4,552.7 562.1,561.1 562.9,569.3 563.6,577.1 564.4,584.7 565.2,592.1 565.9,599.1 566.7,606.0 567.4,612.6 568.2,618.9 568.9,625.1 569.7,631.0 570.4,636.7 571.2,642.3 571.9,647.6 572.7,652.8 573.4,657.7 574.2,662.6 574.9,667.2 575.7,671.7 576.5,676.0 577.2,680.2 578.0,684.2 578.7,688.1 579.5,691.8 580.2,695.5 581.0,699.0 581.7,702.3 582.5,705.6 583.2,708.7 584.0,711.8 584.7,714.7 585.5,717.6 586.2,720.3 587.0,722.9 587.8,725.5 588.5,727.9 589.3,730.3 590.0,732.6 590.8,734.8 591.5,737.0 592.3,739.0 593.0,741.0 593.8,742.9 594.5,744.8 595.3,746.6 596.0,748.3 596.8,750.0 597.6,751.6 598.3,753.2 599.1,754.7 599.8,756.1 600.6,757.5 601.3,758.9 602.1,760.2 602.8,761.4 603.6,762.6 604.3,763.8 605.1,765.0 605.8,766.1 606.6,767.1 607.3,768.1 608.1,769.1 608.9,770.1 609.6,771.0 610.4,771.9 611.1,772.7 611.9,773.6 612.6,774.3 613.4,775.1 614.1,775.9 614.9,776.6 615.6,777.3 616.4,777.9 617.1,778.6 617.9,779.2 618.6,779.8 619.4,780.4 620.2,781.0 620.9,781.5 621.7,782.0 622.4,782.5 623.2,783.0 623.9,783.5 624.7,783.9 625.4,784.4 626.2,784.8 626.9,785.2 627.7,785.6 628.4,786.0 629.2,786.3 630.0,786.7 630.7,787.0 631.5,787.4 632.2,787.7 633.0,788.0 633.7,788.3 634.5,788.6 635.2,788.9 636.0,789.1 636.7,789.4 637.5,789.6 638.2,789.9 639.0,790.1 639.7,790.3 640.5,790.6 641.3,790.8 642.0,791.0 642.8,791.2 643.5,791.3 644.3,791.5 645.0,791.7 645.8,791.9 646.5,792.0 647.3,792.2 648.0,792.3 648.8,792.5 649.5,792.6 650.3,792.8 651.1,792.9 651.8,793.0 652.6,793.2 653.3,793.3 654.1,793.4 654.8,793.5 655.6,793.6 656.3,793.7 657.1,793.8 657.8,793.9 658.6,794.0 659.3,794.1 660.1,794.2 660.8,794.3 661.6,794.3 662.4,794.4 663.1,794.5 663.9,794.6 664.6,794.6 665.4,794.7 666.1,794.8 666.9,794.8 667.6,794.9 668.4,795.0 669.1,795.0 669.9,795.1 670.6,795.1 671.4,795.2 672.1,795.2 672.9,795.3 673.7,795.3 674.4,795.4 675.2,795.4 675.9,795.4 676.7,795.5 677.4,795.5 678.2,795.6 678.9,795.6 679.7,795.6 680.4,795.7 681.2,795.7 681.9,795.7 682.7,795.8 683.5,795.8 684.2,795.8 685.0,795.8 685.7,795.9 686.5,795.9 687.2,795.9 688.0,795.9 688.7,796.0 689.5,796.0 690.2,796.0 691.0,796.0 691.7,796.0 692.5,796.1 693.2,796.1 694.0,796.1" fill="none" stroke="#d95319" stroke-width="2" stroke-linejoin="round"/>
<path clip-path="url(#clipA)" d="M91.2 796.1 L96.2 796.1 L101.2 796.1 L106.3 796.1 L111.3 796.1 L116.3 796.1 L121.3 796.1 L126.4 796.1 L131.4 796.1 L136.4 796.1 L141.4 796.1 L146.5 796.1 L151.5 796.1 L156.5 796.1 L161.5 796.1 L166.6 796.1 L171.6 796.1 L176.6 796.1 L181.6 796.1 L186.6 796.1 L191.7 796.1 L196.7 796.1 L201.7 796.1 L206.7 796.1 L211.8 796.1 L216.8 796.1 L221.8 796.1 L226.8 796.1 L231.9 796.1 L236.9 796.1 L241.9 749.5 L246.9 692.5 L251.9 636.3 L257.0 580.6 L262.0 538.3 L267.0 499.0 L272.0 467.9 L277.1 434.7 L282.1 404.2 L287.1 387.5 L292.1 370.4 L297.2 359.1 L302.2 350.0 L307.2 339.7 L312.2 331.9 L317.2 316.8 L322.3 306.3 L327.3 302.6 L332.3 294.5 L337.3 297.9 L342.4 299.1 L347.4 297.3 L352.4 287.0 L357.4 284.3 L362.5 283.8 L367.5 277.3 L372.5 287.0 L377.5 279.9 L382.6 273.4 L387.6 281.5 L392.6 280.3 L397.6 272.1 L402.6 273.7 L407.7 270.7 L412.7 276.4 L417.7 274.4 L422.7 270.1 L427.8 275.7 L432.8 274.5 L437.8 269.8 L442.8 277.9 L447.9 277.5 L452.9 275.1 L457.9 270.8 L462.9 273.5 L467.9 269.7 L473.0 270.5 L478.0 279.9 L483.0 273.5 L488.0 266.4 L493.1 273.7 L498.1 277.9 L503.1 277.0 L508.1 277.1 L513.2 274.6 L518.2 273.0 L523.2 269.5 L528.2 265.6 L533.3 272.3 L538.3 275.4 L543.3 298.7 L548.3 339.4 L553.3 386.5 L558.4 438.3 L563.4 480.2 L568.4 531.2 L573.4 570.4 L578.5 606.1 L583.5 641.5 L588.5 666.9 L593.5 688.9 L598.6 709.7 L603.6 724.7 L608.6 738.7 L613.6 748.9 L618.6 758.3 L623.7 765.2 L628.7 771.5 L633.7 776.3 L638.7 779.9 L643.8 783.0 L648.8 785.7 L653.8 787.8 L658.8 789.5 L663.9 790.9 L668.9 792.0 L673.9 792.9 L678.9 793.7 L684.0 794.2 L689.0 794.7 L694.0 795.1 L694.0 795.2 L689.0 795.0 L684.0 794.6 L678.9 794.1 L673.9 793.4 L668.9 792.7 L663.9 791.9 L658.8 790.7 L653.8 789.1 L648.8 787.5 L643.8 785.0 L638.7 782.4 L633.7 779.4 L628.7 775.1 L623.7 769.6 L618.6 763.8 L613.6 755.8 L608.6 747.2 L603.6 734.6 L598.6 721.7 L593.5 704.2 L588.5 684.4 L583.5 664.4 L578.5 635.7 L573.4 600.6 L568.4 568.6 L563.4 525.8 L558.4 479.7 L553.3 430.0 L548.3 386.8 L543.3 339.3 L538.3 304.2 L533.3 295.6 L528.2 286.1 L523.2 291.5 L518.2 296.1 L513.2 289.1 L508.1 291.4 L503.1 293.4 L498.1 293.4 L493.1 295.0 L488.0 295.2 L483.0 294.9 L478.0 293.4 L473.0 288.9 L467.9 292.4 L462.9 286.6 L457.9 288.8 L452.9 288.6 L447.9 290.2 L442.8 288.5 L437.8 286.0 L432.8 288.0 L427.8 291.8 L422.7 288.5 L417.7 293.1 L412.7 290.1 L407.7 289.9 L402.6 287.7 L397.6 291.0 L392.6 293.9 L387.6 299.4 L382.6 299.7 L377.5 299.7 L372.5 300.1 L367.5 297.1 L362.5 297.0 L357.4 301.9 L352.4 302.8 L347.4 306.4 L342.4 311.0 L337.3 319.8 L332.3 322.9 L327.3 328.0 L322.3 334.8 L317.2 332.8 L312.2 345.9 L307.2 354.5 L302.2 368.4 L297.2 389.7 L292.1 396.6 L287.1 414.9 L282.1 440.2 L277.1 463.1 L272.0 496.8 L267.0 529.5 L262.0 572.6 L257.0 617.8 L251.9 674.4 L246.9 729.3 L241.9 775.0 L236.9 797.1 L231.9 797.1 L226.8 797.1 L221.8 797.1 L216.8 797.1 L211.8 797.1 L206.7 797.1 L201.7 797.1 L196.7 797.1 L191.7 797.1 L186.6 797.1 L181.6 797.1 L176.6 797.1 L171.6 797.1 L166.6 797.1 L161.5 797.1 L156.5 797.1 L151.5 797.1 L146.5 797.1 L141.4 797.1 L136.4 797.1 L131.4 797.1 L126.4 797.1 L121.3 797.1 L116.3 797.1 L111.3 797.1 L106.3 797.1 L101.2 797.1 L96.2 797.1 L91.2 797.1Z" fill="#7e2f8e" fill-opacity="0.3" stroke="none"/>
<path d="M91.2 796.6h0M96.2 796.6h0M101.2 796.6h0M106.3 796.6h0M111.3 796.6h0M116.3 796.6h0M121.3 796.6h0M126.4 796.6h0M131.4 796.6h0M136.4 796.6h0M141.4 796.6h0M146.5 796.6h0M151.5 796.6h0M156.5 796.6h0M161.5 796.6h0M166.6 796.6h0M171.6 796.6h0M176.6 796.6h0M181.6 796.6h0M186.6 796.6h0M191.7 796.6h0M196.7 796.6h0M201.7 796.6h0M206.7 796.6h0M211.8 796.6h0M216.8 796.6h0M221.8 796.6h0M226.8 796.6h0M231.9 796.6h0M236.9 796.6h0M241.9 766.3h0M246.9 711.5h0M251.9 654.6h0M257.0 598.2h0M262.0 554.4h0M267.0 513.4h0M272.0 481.6h0M277.1 448.2h0M282.1 421.6h0M287.1 400.7h0M292.1 383.1h0M297.2 374.0h0M302.2 358.9h0M307.2 346.9h0M312.2 338.7h0M317.2 324.6h0M322.3 320.4h0M327.3 315.2h0M332.3 308.6h0M337.3 308.7h0M342.4 305.0h0M347.4 301.8h0M352.4 294.8h0M357.4 293.0h0M362.5 290.4h0M367.5 287.1h0M372.5 293.5h0M377.5 289.8h0M382.6 286.5h0M387.6 290.5h0M392.6 287.1h0M397.6 281.5h0M402.6 280.7h0M407.7 280.3h0M412.7 283.3h0M417.7 283.8h0M422.7 279.3h0M427.8 283.8h0M432.8 281.2h0M437.8 277.9h0M442.8 283.2h0M447.9 283.9h0M452.9 281.8h0M457.9 279.8h0M462.9 280.1h0M467.9 281.0h0M473.0 279.7h0M478.0 286.6h0M483.0 284.2h0M488.0 280.8h0M493.1 284.3h0M498.1 285.7h0M503.1 285.2h0M508.1 284.2h0M513.2 281.8h0M518.2 284.6h0M523.2 280.5h0M528.2 275.7h0M533.3 282.7h0M538.3 287.2h0M543.3 316.7h0M548.3 362.1h0M553.3 408.1h0M558.4 459.3h0M563.4 503.5h0M568.4 550.6h0M573.4 586.2h0M578.5 621.6h0M583.5 653.6h0M588.5 676.2h0M593.5 697.0h0M598.6 716.1h0M603.6 730.0h0M608.6 743.3h0M613.6 752.6h0M618.6 761.3h0M623.7 767.6h0M628.7 773.4h0M633.7 778.0h0M638.7 781.3h0M643.8 784.1h0M648.8 786.7h0M653.8 788.5h0M658.8 790.1h0M663.9 791.4h0M668.9 792.4h0M673.9 793.2h0M678.9 793.9h0M684.0 794.4h0M689.0 794.9h0M694.0 795.2h0" stroke="#7e2f8e" stroke-width="4" stroke-linecap="round" fill="none"/>
<polyline points="91.2,796.6 92.0,796.6 92.7,796.6 93.5,796.6 94.2,796.6 95.0,796.6 95.7,796.6 96.5,796.6 97.2,796.6 98.0,796.6 98.7,796.6 99.5,796.6 100.2,796.6 101.0,796.6 101.7,796.6 102.5,796.6 103.3,796.6 104.0,796.6 104.8,796.6 105.5,796.6 106.3,796.6 107.0,796.6 107.8,796.6 108.5,796.6 109.3,796.6 110.0,796.6 110.8,796.6 111.5,796.6 112.3,796.6 113.1,796.6 113.8,796.6 114.6,796.6 115.3,796.6 116.1,796.6 116.8,796.6 117.6,796.6 118.3,796.6 119.1,796.6 119.8,796.6 120.6,796.6 121.3,796.6 122.1,796.6 122.8,796.6 123.6,796.6 124.4,796.6 125.1,796.6 125.9,796.6 126.6,796.6 127.4,796.6 128.1,796.6 128.9,796.6 129.6,796.6 130.4,796.6 131.1,796.6 131.9,796.6 132.6,796.6 133.4,796.6 134.1,796.6 134.9,796.6 135.7,796.6 136.4,796.6 137.2,796.6 137.9,796.6 138.7,796.6 139.4,796.6 140.2,796.6 140.9,796.6 141.7,796.6 142.4,796.6 143.2,796.6 143.9,796.6 144.7,796.6 145.5,796.6 146.2,796.6 147.0,796.6 147.7,796.6 148.5,796.6 149.2,796.6 150.0,796.6 150.7,796.6 151.5,796.6 152.2,796.6 153.0,796.6 153.7,796.6 154.5,796.6 155.2,796.6 156.0,796.6 156.8,796.6 157.5,796.6 158.3,796.6 159.0,796.6 159.8,796.6 160.5,796.6 161.3,796.6 162.0,796.6 162.8,796.6 163.5,796.6 164.3,796.6 165.0,796.6 165.8,796.6 166.6,796.6 167.3,796.6 168.1,796.6 168.8,796.6 169.6,796.6 170.3,796.6 171.1,796.6 171.8,796.6 172.6,796.6 173.3,796.6 174.1,796.6 174.8,796.6 175.6,796.6 176.3,796.6 177.1,796.6 177.9,796.6 178.6,796.6 179.4,796.6 180.1,796.6 180.9,796.6 181.6,796.6 182.4,796.6 183.1,796.6 183.9,796.6 184.6,796.6 185.4,796.6 186.1,796.6 186.9,796.6 187.6,796.6 188.4,796.6 189.2,796.6 189.9,796.6 190.7,796.6 191.4,796.6 192.2,796.6 192.9,796.6 193.7,796.6 194.4,796.6 195.2,796.6 195.9,796.6 196.7,796.6 197.4,796.6 198.2,796.6 199.0,796.6 199.7,796.6 200.5,796.6 201.2,796.6 202.0,796.6 202.7,796.6 203.5,796.6 204.2,796.6 205.0,796.6 205.7,796.6 206.5,796.6 207.2,796.6 208.0,796.6 208.7,796.6 209.5,796.6 210.3,796.6 211.0,796.6 211.8,796.6 212.5,796.6 213.3,796.6 214.0,796.6 214.8,796.6 215.5,796.6 216.3,796.6 217.0,796.6 217.8,796.6 218.5,796.6 219.3,796.6 220.0,796.6 220.8,796.6 221.6,796.6 222.3,796.6 223.1,796.6 223.8,796.6 224.6,796.6 225.3,796.6 226.1,796.6 226.8,796.6 227.6,796.6 228.3,796.6 229.1,796.6 229.8,796.6 230.6,796.6 231.4,796.6 232.1,796.6 232.9,796.6 233.6,796.6 234.4,796.6 235.1,796.6 235.9,796.6 236.6,796.6 237.4,796.6 238.1,796.6 238.9,796.6 239.6,796.6 240.4,795.9 241.1,793.4 241.9,789.4 242.7,784.1 243.4,777.8 244.2,770.8 244.9,763.2 245.7,755.0 246.4,746.6 247.2,737.8 247.9,728.9 248.7,719.9 249.4,710.9 250.2,701.8 250.9,692.8 251.7,683.8 252.4,674.9 253.2,666.1 254.0,657.4 254.7,648.9 255.5,640.5 256.2,632.2 257.0,624.1 257.7,616.1 258.5,608.3 259.2,600.7 260.0,593.2 260.7,585.9 261.5,578.8 262.2,571.8 263.0,564.9 263.8,558.2 264.5,551.7 265.3,545.3 266.0,539.0 266.8,532.9 267.5,527.0 268.3,521.1 269.0,515.5 269.8,509.9 270.5,504.5 271.3,499.2 272.0,494.0 272.8,489.0 273.5,484.0 274.3,479.2 275.1,474.5 275.8,469.9 276.6,465.4 277.3,461.1 278.1,456.8 278.8,452.6 279.6,448.6 280.3,444.6 281.1,440.7 281.8,436.9 282.6,433.2 283.3,429.6 284.1,426.1 284.8,422.6 285.6,419.3 286.4,416.0 287.1,412.8 287.9,409.7 288.6,406.6 289.4,403.6 290.1,400.7 290.9,397.9 291.6,395.1 292.4,392.4 293.1,389.8 293.9,387.2 294.6,384.7 295.4,382.2 296.2,379.8 296.9,377.5 297.7,375.2 298.4,372.9 299.2,370.8 299.9,368.6 300.7,366.6 301.4,364.5 302.2,362.6 302.9,360.6 303.7,358.7 304.4,356.9 305.2,355.1 305.9,353.3 306.7,351.6 307.5,349.9 308.2,348.3 309.0,346.7 309.7,345.2 310.5,343.6 311.2,342.2 312.0,340.7 312.7,339.3 313.5,337.9 314.2,336.6 315.0,335.2 315.7,334.0 316.5,332.7 317.2,331.5 318.0,330.3 318.8,329.1 319.5,328.0 320.3,326.9 321.0,325.8 321.8,324.7 322.5,323.7 323.3,322.7 324.0,321.7 324.8,320.7 325.5,319.8 326.3,318.9 327.0,318.0 327.8,317.1 328.6,316.3 329.3,315.4 330.1,314.6 330.8,313.8 331.6,313.0 332.3,312.3 333.1,311.5 333.8,310.8 334.6,310.1 335.3,309.4 336.1,308.8 336.8,308.1 337.6,307.5 338.3,306.8 339.1,306.2 339.9,305.6 340.6,305.1 341.4,304.5 342.1,303.9 342.9,303.4 343.6,302.9 344.4,302.3 345.1,301.8 345.9,301.4 346.6,300.9 347.4,300.4 348.1,299.9 348.9,299.5 349.7,299.1 350.4,298.6 351.2,298.2 351.9,297.8 352.7,297.4 353.4,297.0 354.2,296.7 354.9,296.3 355.7,295.9 356.4,295.6 357.2,295.2 357.9,294.9 358.7,294.6 359.4,294.3 360.2,293.9 361.0,293.6 361.7,293.3 362.5,293.1 363.2,292.8 364.0,292.5 364.7,292.2 365.5,292.0 366.2,291.7 367.0,291.5 367.7,291.2 368.5,291.0 369.2,290.7 370.0,290.5 370.7,290.3 371.5,290.1 372.3,289.9 373.0,289.7 373.8,289.5 374.5,289.3 375.3,289.1 376.0,288.9 376.8,288.7 377.5,288.5 378.3,288.3 379.0,288.2 379.8,288.0 380.5,287.8 381.3,287.7 382.1,287.5 382.8,287.4 383.6,287.2 384.3,287.1 385.1,286.9 385.8,286.8 386.6,286.7 387.3,286.5 388.1,286.4 388.8,286.3 389.6,286.2 390.3,286.1 391.1,285.9 391.8,285.8 392.6,285.7 393.4,285.6 394.1,285.5 394.9,285.4 395.6,285.3 396.4,285.2 397.1,285.1 397.9,285.0 398.6,284.9 399.4,284.8 400.1,284.7 400.9,284.7 401.6,284.6 402.4,284.5 403.1,284.4 403.9,284.3 404.7,284.3 405.4,284.2 406.2,284.1 406.9,284.0 407.7,284.0 408.4,283.9 409.2,283.8 409.9,283.8 410.7,283.7 411.4,283.7 412.2,283.6 412.9,283.5 413.7,283.5 414.5,283.4 415.2,283.4 416.0,283.3 416.7,283.3 417.5,283.2 418.2,283.2 419.0,283.1 419.7,283.1 420.5,283.0 421.2,283.0 422.0,282.9 422.7,282.9 423.5,282.9 424.2,282.8 425.0,282.8 425.8,282.7 426.5,282.7 427.3,282.7 428.0,282.6 428.8,282.6 429.5,282.6 430.3,282.5 431.0,282.5 431.8,282.5 432.5,282.4 433.3,282.4 434.0,282.4 434.8,282.3 435.5,282.3 436.3,282.3 437.1,282.3 437.8,282.2 438.6,282.2 439.3,282.2 440.1,282.2 440.8,282.1 441.6,282.1 442.3,282.1 443.1,282.1 443.8,282.1 444.6,282.0 445.3,282.0 446.1,282.0 446.9,282.0 447.6,282.0 448.4,281.9 449.1,281.9 449.9,281.9 450.6,281.9 451.4,281.9 452.1,281.8 452.9,281.8 453.6,281.8 454.4,281.8 455.1,281.8 455.9,281.8 456.6,281.8 457.4,281.7 458.2,281.7 458.9,281.7 459.7,281.7 460.4,281.7 461.2,281.7 461.9,281.7 462.7,281.7 463.4,281.6 464.2,281.6 464.9,281.6 465.7,281.6 466.4,281.6 467.2,281.6 467.9,281.6 468.7,281.6 469.5,281.6 470.2,281.5 471.0,281.5 471.7,281.5 472.5,281.5 473.2,281.5 474.0,281.5 474.7,281.5 475.5,281.5 476.2,281.5 477.0,281.5 477.7,281.5 478.5,281.5 479.3,281.5 480.0,281.4 480.8,281.4 481.5,281.4 482.3,281.4 483.0,281.4 483.8,281.4 484.5,281.4 485.3,281.4 486.0,281.4 486.8,281.4 487.5,281.4 488.3,281.4 489.0,281.4 489.8,281.4 490.6,281.4 491.3,281.4 492.1,281.4 492.8,281.4 493.6,281.3 494.3,281.3 495.1,281.3 495.8,281.3 496.6,281.3 497.3,281.3 498.1,281.3 498.8,281.3 499.6,281.3 500.4,281.3 501.1,281.3 501.9,281.3 502.6,281.3 503.4,281.3 504.1,281.3 504.9,281.3 505.6,281.3 506.4,281.3 507.1,281.3 507.9,281.3 508.6,281.3 509.4,281.3 510.1,281.3 510.9,281.3 511.7,281.3 512.4,281.3 513.2,281.3 513.9,281.3 514.7,281.3 515.4,281.3 516.2,281.3 516.9,281.3 517.7,281.2 518.4,281.2 519.2,281.2 519.9,281.2 520.7,281.2 521.4,281.2 522.2,281.2 523.0,281.2 523.7,281.2 524.5,281.2 525.2,281.2 526.0,281.2 526.7,281.2 527.5,281.2 528.2,281.2 529.0,281.2 529.7,281.2 530.5,281.2 531.2,281.2 532.0,281.2 532.8,281.2 533.5,281.2 534.3,281.2 535.0,281.2 535.8,281.2 536.5,281.2 537.3,281.2 538.0,281.2 538.8,281.2 539.5,281.2 540.3,281.2 541.0,281.2 541.8,281.2 542.5,283.5 543.3,293.8 544.1,305.0 544.8,316.0 545.6,326.8 546.3,337.4 547.1,347.7 547.8,357.8 548.6,367.6 549.3,377.3 550.1,386.7 550.8,395.9 551.6,404.9 552.3,413.7 553.1,422.3 553.8,430.7 554.6,439.0 555.4,447.0 556.1,454.9 556.9,462.5 557.6,470.0 558.4,477.4 559.1,484.6 559.9,491.6 560.6,498.4 561.4,505.1 562.1,511.7 562.9,518.1 563.6,524.3 564.4,530.4 565.2,536.4 565.9,542.3 566.7,548.0 567.4,553.6 568.2,559.0 568.9,564.4 569.7,569.6 570.4,574.7 571.2,579.7 571.9,584.6 572.7,589.3 573.4,594.0 574.2,598.5 574.9,603.0 575.7,607.3 576.5,611.6 577.2,615.7 578.0,619.8 578.7,623.8 579.5,627.7 580.2,631.5 581.0,635.2 581.7,638.8 582.5,642.3 583.2,645.8 584.0,649.2 584.7,652.5 585.5,655.7 586.2,658.9 587.0,662.0 587.8,665.0 588.5,668.0 589.3,670.9 590.0,673.7 590.8,676.5 591.5,679.2 592.3,681.8 593.0,684.4 593.8,686.9 594.5,689.4 595.3,691.8 596.0,694.1 596.8,696.4 597.6,698.7 598.3,700.9 599.1,703.0 599.8,705.1 600.6,707.2 601.3,709.2 602.1,711.2 602.8,713.1 603.6,715.0 604.3,716.8 605.1,718.6 605.8,720.3 606.6,722.1 607.3,723.7 608.1,725.4 608.9,727.0 609.6,728.5 610.4,730.1 611.1,731.6 611.9,733.0 612.6,734.5 613.4,735.8 614.1,737.2 614.9,738.5 615.6,739.9 616.4,741.1 617.1,742.4 617.9,743.6 618.6,744.8 619.4,745.9 620.2,747.1 620.9,748.2 621.7,749.3 622.4,750.3 623.2,751.4 623.9,752.4 624.7,753.4 625.4,754.4 626.2,755.3 626.9,756.2 627.7,757.2 628.4,758.0 629.2,758.9 630.0,759.8 630.7,760.6 631.5,761.4 632.2,762.2 633.0,763.0 633.7,763.7 634.5,764.4 635.2,765.2 636.0,765.9 636.7,766.6 637.5,767.2 638.2,767.9 639.0,768.5 639.7,769.2 640.5,769.8 641.3,770.4 642.0,771.0 642.8,771.6 643.5,772.1 644.3,772.7 645.0,773.2 645.8,773.7 646.5,774.3 647.3,774.8 648.0,775.2 648.8,775.7 649.5,776.2 650.3,776.7 651.1,777.1 651.8,777.5 652.6,778.0 653.3,778.4 654.1,778.8 654.8,779.2 655.6,779.6 656.3,780.0 657.1,780.3 657.8,780.7 658.6,781.1 659.3,781.4 660.1,781.8 660.8,782.1 661.6,782.4 662.4,782.7 663.1,783.0 663.9,783.3 664.6,783.6 665.4,783.9 666.1,784.2 666.9,784.5 667.6,784.8 668.4,785.0 669.1,785.3 669.9,785.6 670.6,785.8 671.4,786.0 672.1,786.3 672.9,786.5 673.7,786.7 674.4,787.0 675.2,787.2 675.9,787.4 676.7,787.6 677.4,787.8 678.2,788.0 678.9,788.2 679.7,788.4 680.4,788.6 681.2,788.7 681.9,788.9 682.7,789.1 683.5,789.3 684.2,789.4 685.0,789.6 685.7,789.7 686.5,789.9 687.2,790.0 688.0,790.2 688.7,790.3 689.5,790.5 690.2,790.6 691.0,790.8 691.7,790.9 692.5,791.0 693.2,791.1 694.0,791.3" fill="none" stroke="#7e2f8e" stroke-width="2" stroke-linejoin="round"/>
<path clip-path="url(#clipA)" d="M91.2 796.1 L96.2 796.1 L101.2 796.1 L106.3 796.1 L111.3 796.1 L116.3 796.1 L121.3 796.1 L126.4 796.1 L131.4 796.1 L136.4 796.1 L141.4 796.1 L146.5 796.1 L151.5 796.1 L156.5 796.1 L161.5 796.1 L166.6 796.1 L171.6 796.1 L176.6 796.1 L181.6 796.1 L186.6 796.1 L191.7 796.1 L196.7 796.1 L201.7 796.1 L206.7 796.1 L211.8 796.1 L216.8 796.1 L221.8 796.1 L226.8 796.1 L231.9 796.1 L236.9 796.1 L241.9 754.3 L246.9 708.6 L251.9 659.4 L257.0 621.6 L262.0 584.8 L267.0 550.9 L272.0 524.5 L277.1 501.8 L282.1 482.7 L287.1 466.4 L292.1 443.9 L297.2 427.4 L302.2 421.4 L307.2 402.8 L312.2 404.5 L317.2 398.4 L322.3 387.5 L327.3 382.5 L332.3 372.4 L337.3 367.7 L342.4 371.0 L347.4 364.1 L352.4 358.0 L357.4 356.9 L362.5 358.0 L367.5 345.2 L372.5 351.6 L377.5 357.5 L382.6 342.1 L387.6 354.2 L392.6 352.9 L397.6 344.2 L402.6 342.9 L407.7 349.3 L412.7 352.1 L417.7 346.8 L422.7 342.5 L427.8 344.6 L432.8 349.2 L437.8 344.8 L442.8 341.7 L447.9 349.1 L452.9 346.4 L457.9 351.6 L462.9 339.8 L467.9 339.3 L473.0 340.0 L478.0 345.8 L483.0 344.8 L488.0 353.1 L493.1 344.2 L498.1 349.3 L503.1 349.4 L508.1 344.8 L513.2 341.6 L518.2 338.0 L523.2 341.0 L528.2 342.1 L533.3 348.3 L538.3 354.5 L543.3 375.0 L548.3 401.2 L553.3 442.3 L558.4 480.3 L563.4 511.3 L568.4 541.0 L573.4 575.6 L578.5 606.2 L583.5 632.8 L588.5 656.5 L593.5 676.1 L598.6 695.1 L603.6 709.8 L608.6 722.8 L613.6 734.1 L618.6 743.8 L623.7 751.8 L628.7 758.9 L633.7 764.9 L638.7 770.0 L643.8 774.4 L648.8 777.6 L653.8 781.0 L658.8 783.5 L663.9 785.5 L668.9 787.5 L673.9 789.0 L678.9 790.2 L684.0 791.3 L689.0 792.2 L694.0 792.9 L694.0 793.2 L689.0 792.8 L684.0 791.9 L678.9 791.0 L673.9 790.0 L668.9 788.7 L663.9 787.1 L658.8 785.2 L653.8 783.2 L648.8 780.3 L643.8 777.4 L638.7 773.7 L633.7 769.4 L628.7 764.0 L623.7 758.4 L618.6 751.7 L613.6 743.0 L608.6 732.3 L603.6 720.6 L598.6 707.4 L593.5 691.5 L588.5 672.7 L583.5 651.7 L578.5 631.3 L573.4 604.7 L568.4 572.2 L563.4 545.0 L558.4 516.1 L553.3 474.6 L548.3 435.0 L543.3 406.4 L538.3 375.6 L533.3 367.4 L528.2 358.3 L523.2 355.6 L518.2 359.3 L513.2 361.8 L508.1 361.0 L503.1 360.4 L498.1 360.7 L493.1 355.5 L488.0 362.1 L483.0 352.7 L478.0 356.9 L473.0 355.9 L467.9 351.2 L462.9 348.6 L457.9 360.0 L452.9 359.1 L447.9 363.3 L442.8 354.2 L437.8 359.6 L432.8 360.8 L427.8 362.8 L422.7 356.3 L417.7 366.5 L412.7 365.2 L407.7 367.1 L402.6 359.8 L397.6 359.5 L392.6 368.4 L387.6 366.2 L382.6 359.3 L377.5 374.9 L372.5 375.3 L367.5 378.9 L362.5 380.8 L357.4 384.0 L352.4 388.8 L347.4 392.6 L342.4 387.3 L337.3 396.6 L332.3 392.1 L327.3 396.5 L322.3 400.5 L317.2 410.4 L312.2 422.2 L307.2 428.2 L302.2 442.8 L297.2 449.9 L292.1 466.4 L287.1 484.1 L282.1 499.8 L277.1 520.3 L272.0 545.7 L267.0 571.7 L262.0 608.6 L257.0 646.1 L251.9 687.6 L246.9 734.9 L241.9 773.6 L236.9 797.1 L231.9 797.1 L226.8 797.1 L221.8 797.1 L216.8 797.1 L211.8 797.1 L206.7 797.1 L201.7 797.1 L196.7 797.1 L191.7 797.1 L186.6 797.1 L181.6 797.1 L176.6 797.1 L171.6 797.1 L166.6 797.1 L161.5 797.1 L156.5 797.1 L151.5 797.1 L146.5 797.1 L141.4 797.1 L136.4 797.1 L131.4 797.1 L126.4 797.1 L121.3 797.1 L116.3 797.1 L111.3 797.1 L106.3 797.1 L101.2 797.1 L96.2 797.1 L91.2 797.1Z" fill="#77ac30" fill-opacity="0.3" stroke="none"/>
<path d="M91.2 796.6h0M96.2 796.6h0M101.2 796.6h0M106.3 796.6h0M111.3 796.6h0M116.3 796.6h0M121.3 796.6h0M126.4 796.6h0M131.4 796.6h0M136.4 796.6h0M141.4 796.6h0M146.5 796.6h0M151.5 796.6h0M156.5 796.6h0M161.5 796.6h0M166.6 796.6h0M171.6 796.6h0M176.6 796.6h0M181.6 796.6h0M186.6 796.6h0M191.7 796.6h0M196.7 796.6h0M201.7 796.6h0M206.7 796.6h0M211.8 796.6h0M216.8 796.6h0M221.8 796.6h0M226.8 796.6h0M231.9 796.6h0M236.9 796.6h0M241.9 766.3h0M246.9 721.9h0M251.9 672.9h0M257.0 633.2h0M262.0 596.1h0M267.0 560.8h0M272.0 534.6h0M277.1 510.6h0M282.1 490.9h0M287.1 474.9h0M292.1 454.9h0M297.2 438.4h0M302.2 431.9h0M307.2 415.3h0M312.2 413.2h0M317.2 404.3h0M322.3 393.9h0M327.3 389.4h0M332.3 382.2h0M337.3 382.0h0M342.4 379.1h0M347.4 378.3h0M352.4 373.4h0M357.4 370.4h0M362.5 369.4h0M367.5 362.0h0M372.5 363.4h0M377.5 366.2h0M382.6 350.7h0M387.6 360.2h0M392.6 360.6h0M397.6 351.8h0M402.6 351.3h0M407.7 358.1h0M412.7 358.6h0M417.7 356.7h0M422.7 349.4h0M427.8 353.7h0M432.8 355.0h0M437.8 352.2h0M442.8 348.0h0M447.9 356.2h0M452.9 352.7h0M457.9 355.8h0M462.9 344.2h0M467.9 345.2h0M473.0 347.9h0M478.0 351.3h0M483.0 348.7h0M488.0 357.6h0M493.1 349.8h0M498.1 355.0h0M503.1 354.9h0M508.1 352.9h0M513.2 351.7h0M518.2 348.7h0M523.2 348.2h0M528.2 349.8h0M533.3 356.5h0M538.3 363.3h0M543.3 389.5h0M548.3 417.5h0M553.3 458.3h0M558.4 498.4h0M563.4 528.4h0M568.4 557.0h0M573.4 590.6h0M578.5 619.2h0M583.5 642.7h0M588.5 665.0h0M593.5 684.2h0M598.6 701.6h0M603.6 715.5h0M608.6 727.8h0M613.6 738.8h0M618.6 748.0h0M623.7 755.3h0M628.7 761.6h0M633.7 767.2h0M638.7 772.0h0M643.8 776.0h0M648.8 779.0h0M653.8 782.1h0M658.8 784.4h0M663.9 786.4h0M668.9 788.2h0M673.9 789.5h0M678.9 790.7h0M684.0 791.6h0M689.0 792.5h0M694.0 793.2h0" stroke="#77ac30" stroke-width="4" stroke-linecap="round" fill="none"/>
<polyline points="91.2,796.6 92.0,796.6 92.7,796.6 93.5,796.6 94.2,796.6 95.0,796.6 95.7,796.6 96.5,796.6 97.2,796.6 98.0,796.6 98.7,796.6 99.5,796.6 100.2,796.6 101.0,796.6 101.7,796.6 102.5,796.6 103.3,796.6 104.0,796.6 104.8,796.6 105.5,796.6 106.3,796.6 107.0,796.6 107.8,796.6 108.5,796.6 109.3,796.6 110.0,796.6 110.8,796.6 111.5,796.6 112.3,796.6 113.1,796.6 113.8,796.6 114.6,796.6 115.3,796.6 116.1,796.6 116.8,796.6 117.6,796.6 118.3,796.6 119.1,796.6 119.8,796.6 120.6,796.6 121.3,796.6 122.1,796.6 122.8,796.6 123.6,796.6 124.4,796.6 125.1,796.6 125.9,796.6 126.6,796.6 127.4,796.6 128.1,796.6 128.9,796.6 129.6,796.6 130.4,796.6 131.1,796.6 131.9,796.6 132.6,796.6 133.4,796.6 134.1,796.6 134.9,796.6 135.7,796.6 136.4,796.6 137.2,796.6 137.9,796.6 138.7,796.6 139.4,796.6 140.2,796.6 140.9,796.6 141.7,796.6 142.4,796.6 143.2,796.6 143.9,796.6 144.7,796.6 145.5,796.6 146.2,796.6 147.0,796.6 147.7,796.6 148.5,796.6 149.2,796.6 150.0,796.6 150.7,796.6 151.5,796.6 152.2,796.6 153.0,796.6 153.7,796.6 154.5,796.6 155.2,796.6 156.0,796.6 156.8,796.6 157.5,796.6 158.3,796.6 159.0,796.6 159.8,796.6 160.5,796.6 161.3,796.6 162.0,796.6 162.8,796.6 163.5,796.6 164.3,796.6 165.0,796.6 165.8,796.6 166.6,796.6 167.3,796.6 168.1,796.6 168.8,796.6 169.6,796.6 170.3,796.6 171.1,796.6 171.8,796.6 172.6,796.6 173.3,796.6 174.1,796.6 174.8,796.6 175.6,796.6 176.3,796.6 177.1,796.6 177.9,796.6 178.6,796.6 179.4,796.6 180.1,796.6 180.9,796.6 181.6,796.6 182.4,796.6 183.1,796.6 183.9,796.6 184.6,796.6 185.4,796.6 186.1,796.6 186.9,796.6 187.6,796.6 188.4,796.6 189.2,796.6 189.9,796.6 190.7,796.6 191.4,796.6 192.2,796.6 192.9,796.6 193.7,796.6 194.4,796.6 195.2,796.6 195.9,796.6 196.7,796.6 197.4,796.6 198.2,796.6 199.0,796.6 199.7,796.6 200.5,796.6 201.2,796.6 202.0,796.6 202.7,796.6 203.5,796.6 204.2,796.6 205.0,796.6 205.7,796.6 206.5,796.6 207.2,796.6 208.0,796.6 208.7,796.6 209.5,796.6 210.3,796.6 211.0,796.6 211.8,796.6 212.5,796.6 213.3,796.6 214.0,796.6 214.8,796.6 215.5,796.6 216.3,796.6 217.0,796.6 217.8,796.6 218.5,796.6 219.3,796.6 220.0,796.6 220.8,796.6 221.6,796.6 222.3,796.6 223.1,796.6 223.8,796.6 224.6,796.6 225.3,796.6 226.1,796.6 226.8,796.6 227.6,796.6 228.3,796.6 229.1,796.6 229.8,796.6 230.6,796.6 231.4,796.6 232.1,796.6 232.9,796.6 233.6,796.6 234.4,796.6 235.1,796.6 235.9,796.6 236.6,796.6 237.4,796.6 238.1,796.6 238.9,796.6 239.6,796.6 240.4,796.0 241.1,793.8 241.9,790.3 242.7,785.8 243.4,780.5 244.2,774.6 244.9,768.2 245.7,761.5 246.4,754.5 247.2,747.4 247.9,740.2 248.7,732.9 249.4,725.6 250.2,718.3 250.9,711.1 251.7,703.9 252.4,696.8 253.2,689.8 254.0,682.9 254.7,676.1 255.5,669.4 256.2,662.8 257.0,656.4 257.7,650.0 258.5,643.8 259.2,637.7 260.0,631.7 260.7,625.8 261.5,620.1 262.2,614.5 263.0,608.9 263.8,603.5 264.5,598.2 265.3,593.1 266.0,588.0 266.8,583.0 267.5,578.1 268.3,573.4 269.0,568.7 269.8,564.1 270.5,559.6 271.3,555.2 272.0,551.0 272.8,546.7 273.5,542.6 274.3,538.6 275.1,534.7 275.8,530.8 276.6,527.0 277.3,523.3 278.1,519.7 278.8,516.1 279.6,512.7 280.3,509.3 281.1,505.9 281.8,502.7 282.6,499.5 283.3,496.3 284.1,493.3 284.8,490.3 285.6,487.4 286.4,484.5 287.1,481.7 287.9,478.9 288.6,476.2 289.4,473.6 290.1,471.0 290.9,468.5 291.6,466.0 292.4,463.6 293.1,461.2 293.9,458.9 294.6,456.6 295.4,454.4 296.2,452.2 296.9,450.1 297.7,448.0 298.4,445.9 299.2,443.9 299.9,442.0 300.7,440.0 301.4,438.2 302.2,436.3 302.9,434.5 303.7,432.7 304.4,431.0 305.2,429.3 305.9,427.7 306.7,426.1 307.5,424.5 308.2,422.9 309.0,421.4 309.7,419.9 310.5,418.4 311.2,417.0 312.0,415.6 312.7,414.2 313.5,412.9 314.2,411.6 315.0,410.3 315.7,409.1 316.5,407.8 317.2,406.6 318.0,405.4 318.8,404.3 319.5,403.2 320.3,402.0 321.0,401.0 321.8,399.9 322.5,398.9 323.3,397.8 324.0,396.9 324.8,395.9 325.5,394.9 326.3,394.0 327.0,393.1 327.8,392.2 328.6,391.3 329.3,390.4 330.1,389.6 330.8,388.8 331.6,388.0 332.3,387.2 333.1,386.4 333.8,385.7 334.6,384.9 335.3,384.2 336.1,383.5 336.8,382.8 337.6,382.1 338.3,381.4 339.1,380.8 339.9,380.2 340.6,379.5 341.4,378.9 342.1,378.3 342.9,377.7 343.6,377.2 344.4,376.6 345.1,376.0 345.9,375.5 346.6,375.0 347.4,374.5 348.1,374.0 348.9,373.5 349.7,373.0 350.4,372.5 351.2,372.0 351.9,371.6 352.7,371.1 353.4,370.7 354.2,370.3 354.9,369.9 355.7,369.5 356.4,369.0 357.2,368.7 357.9,368.3 358.7,367.9 359.4,367.5 360.2,367.2 361.0,366.8 361.7,366.5 362.5,366.1 363.2,365.8 364.0,365.5 364.7,365.2 365.5,364.9 366.2,364.5 367.0,364.3 367.7,364.0 368.5,363.7 369.2,363.4 370.0,363.1 370.7,362.9 371.5,362.6 372.3,362.3 373.0,362.1 373.8,361.8 374.5,361.6 375.3,361.4 376.0,361.1 376.8,360.9 377.5,360.7 378.3,360.5 379.0,360.3 379.8,360.0 380.5,359.8 381.3,359.6 382.1,359.4 382.8,359.3 383.6,359.1 384.3,358.9 385.1,358.7 385.8,358.5 386.6,358.4 387.3,358.2 388.1,358.0 388.8,357.9 389.6,357.7 390.3,357.6 391.1,357.4 391.8,357.3 392.6,357.1 393.4,357.0 394.1,356.8 394.9,356.7 395.6,356.6 396.4,356.4 397.1,356.3 397.9,356.2 398.6,356.1 399.4,355.9 400.1,355.8 400.9,355.7 401.6,355.6 402.4,355.5 403.1,355.4 403.9,355.3 404.7,355.2 405.4,355.1 406.2,355.0 406.9,354.9 407.7,354.8 408.4,354.7 409.2,354.6 409.9,354.5 410.7,354.4 411.4,354.3 412.2,354.2 412.9,354.2 413.7,354.1 414.5,354.0 415.2,353.9 416.0,353.9 416.7,353.8 417.5,353.7 418.2,353.6 419.0,353.6 419.7,353.5 420.5,353.4 421.2,353.4 422.0,353.3 422.7,353.2 423.5,353.2 424.2,353.1 425.0,353.1 425.8,353.0 426.5,353.0 427.3,352.9 428.0,352.8 428.8,352.8 429.5,352.7 430.3,352.7 431.0,352.6 431.8,352.6 432.5,352.6 433.3,352.5 434.0,352.5 434.8,352.4 435.5,352.4 436.3,352.3 437.1,352.3 437.8,352.2 438.6,352.2 439.3,352.2 440.1,352.1 440.8,352.1 441.6,352.1 442.3,352.0 443.1,352.0 443.8,352.0 444.6,351.9 445.3,351.9 446.1,351.9 446.9,351.8 447.6,351.8 448.4,351.8 449.1,351.7 449.9,351.7 450.6,351.7 451.4,351.6 452.1,351.6 452.9,351.6 453.6,351.6 454.4,351.5 455.1,351.5 455.9,351.5 456.6,351.5 457.4,351.4 458.2,351.4 458.9,351.4 459.7,351.4 460.4,351.4 461.2,351.3 461.9,351.3 462.7,351.3 463.4,351.3 464.2,351.3 464.9,351.2 465.7,351.2 466.4,351.2 467.2,351.2 467.9,351.2 468.7,351.1 469.5,351.1 470.2,351.1 471.0,351.1 471.7,351.1 472.5,351.1 473.2,351.1 474.0,351.0 474.7,351.0 475.5,351.0 476.2,351.0 477.0,351.0 477.7,351.0 478.5,351.0 479.3,350.9 480.0,350.9 480.8,350.9 481.5,350.9 482.3,350.9 483.0,350.9 483.8,350.9 484.5,350.9 485.3,350.9 486.0,350.8 486.8,350.8 487.5,350.8 488.3,350.8 489.0,350.8 489.8,350.8 490.6,350.8 491.3,350.8 492.1,350.8 492.8,350.8 493.6,350.7 494.3,350.7 495.1,350.7 495.8,350.7 496.6,350.7 497.3,350.7 498.1,350.7 498.8,350.7 499.6,350.7 500.4,350.7 501.1,350.7 501.9,350.7 502.6,350.7 503.4,350.7 504.1,350.6 504.9,350.6 505.6,350.6 506.4,350.6 507.1,350.6 507.9,350.6 508.6,350.6 509.4,350.6 510.1,350.6 510.9,350.6 511.7,350.6 512.4,350.6 513.2,350.6 513.9,350.6 514.7,350.6 515.4,350.6 516.2,350.6 516.9,350.6 517.7,350.6 518.4,350.5 519.2,350.5 519.9,350.5 520.7,350.5 521.4,350.5 522.2,350.5 523.0,350.5 523.7,350.5 524.5,350.5 525.2,350.5 526.0,350.5 526.7,350.5 527.5,350.5 528.2,350.5 529.0,350.5 529.7,350.5 530.5,350.5 531.2,350.5 532.0,350.5 532.8,350.5 533.5,350.5 534.3,350.5 535.0,350.5 535.8,350.5 536.5,350.5 537.3,350.5 538.0,350.5 538.8,350.5 539.5,350.5 540.3,350.5 541.0,350.5 541.8,350.5 542.5,350.5 543.3,350.4 544.1,350.8 544.8,357.9 545.6,366.6 546.3,375.3 547.1,383.9 547.8,392.2 548.6,400.4 549.3,408.5 550.1,416.3 550.8,424.1 551.6,431.6 552.3,439.0 553.1,446.3 553.8,453.4 554.6,460.3 555.4,467.2 556.1,473.8 556.9,480.4 557.6,486.8 558.4,493.1 559.1,499.2 559.9,505.3 560.6,511.2 561.4,517.0 562.1,522.6 562.9,528.2 563.6,533.6 564.4,539.0 565.2,544.2 565.9,549.3 566.7,554.3 567.4,559.2 568.2,564.1 568.9,568.8 569.7,573.4 570.4,577.9 571.2,582.4 571.9,586.7 572.7,591.0 573.4,595.1 574.2,599.2 574.9,603.2 575.7,607.1 576.5,611.0 577.2,614.8 578.0,618.4 578.7,622.1 579.5,625.6 580.2,629.1 581.0,632.5 581.7,635.8 582.5,639.1 583.2,642.3 584.0,645.4 584.7,648.4 585.5,651.5 586.2,654.4 587.0,657.3 587.8,660.1 588.5,662.9 589.3,665.6 590.0,668.2 590.8,670.8 591.5,673.4 592.3,675.9 593.0,678.3 593.8,680.7 594.5,683.1 595.3,685.4 596.0,687.7 596.8,689.9 597.6,692.0 598.3,694.1 599.1,696.2 599.8,698.3 600.6,700.3 601.3,702.2 602.1,704.1 602.8,706.0 603.6,707.8 604.3,709.6 605.1,711.4 605.8,713.1 606.6,714.8 607.3,716.5 608.1,718.1 608.9,719.7 609.6,721.3 610.4,722.8 611.1,724.3 611.9,725.8 612.6,727.2 613.4,728.6 614.1,730.0 614.9,731.3 615.6,732.7 616.4,733.9 617.1,735.2 617.9,736.5 618.6,737.7 619.4,738.9 620.2,740.1 620.9,741.2 621.7,742.3 622.4,743.4 623.2,744.5 623.9,745.6 624.7,746.6 625.4,747.6 626.2,748.6 626.9,749.6 627.7,750.5 628.4,751.5 629.2,752.4 630.0,753.3 630.7,754.2 631.5,755.0 632.2,755.9 633.0,756.7 633.7,757.5 634.5,758.3 635.2,759.1 636.0,759.8 636.7,760.6 637.5,761.3 638.2,762.0 639.0,762.7 639.7,763.4 640.5,764.1 641.3,764.7 642.0,765.4 642.8,766.0 643.5,766.6 644.3,767.2 645.0,767.8 645.8,768.4 646.5,769.0 647.3,769.6 648.0,770.1 648.8,770.6 649.5,771.2 650.3,771.7 651.1,772.2 651.8,772.7 652.6,773.2 653.3,773.6 654.1,774.1 654.8,774.6 655.6,775.0 656.3,775.5 657.1,775.9 657.8,776.3 658.6,776.7 659.3,777.1 660.1,777.5 660.8,777.9 661.6,778.3 662.4,778.7 663.1,779.0 663.9,779.4 664.6,779.7 665.4,780.1 666.1,780.4 666.9,780.7 667.6,781.0 668.4,781.4 669.1,781.7 669.9,782.0 670.6,782.3 671.4,782.6 672.1,782.8 672.9,783.1 673.7,783.4 674.4,783.7 675.2,783.9 675.9,784.2 676.7,784.4 677.4,784.7 678.2,784.9 678.9,785.2 679.7,785.4 680.4,785.6 681.2,785.8 681.9,786.1 682.7,786.3 683.5,786.5 684.2,786.7 685.0,786.9 685.7,787.1 686.5,787.3 687.2,787.5 688.0,787.7 688.7,787.8 689.5,788.0 690.2,788.2 691.0,788.4 691.7,788.5 692.5,788.7 693.2,788.9 694.0,789.0" fill="none" stroke="#77ac30" stroke-width="2" stroke-linejoin="round"/>
<text transform="translate(91.2,834) scale(1,1.035)" text-anchor="middle" class="tk">0</text>
<text transform="translate(241.9,834) scale(1,1.035)" text-anchor="middle" class="tk">0.5</text>
<text transform="translate(392.6,834) scale(1,1.035)" text-anchor="middle" class="tk">1</text>
<text transform="translate(543.3,834) scale(1,1.035)" text-anchor="middle" class="tk">1.5</text>
<text transform="translate(694.0,834) scale(1,1.035)" text-anchor="middle" class="tk">2</text>
<text transform="translate(80.8,806.9) scale(1,1.045)" text-anchor="end" class="tk">0</text>
<text transform="translate(80.8,720.4) scale(1,1.045)" text-anchor="end" class="tk">20</text>
<text transform="translate(80.8,633.9) scale(1,1.045)" text-anchor="end" class="tk">40</text>
<text transform="translate(80.8,547.5) scale(1,1.045)" text-anchor="end" class="tk">60</text>
<text transform="translate(80.8,461.0) scale(1,1.045)" text-anchor="end" class="tk">80</text>
<text transform="translate(80.8,374.5) scale(1,1.045)" text-anchor="end" class="tk">100</text>
<text transform="translate(80.8,288.0) scale(1,1.045)" text-anchor="end" class="tk">120</text>
<text transform="translate(80.8,201.5) scale(1,1.045)" text-anchor="end" class="tk">140</text>
<text transform="translate(80.8,115.0) scale(1,1.045)" text-anchor="end" class="tk">160</text>
<text x="392.6" y="871.8" text-anchor="middle" class="lab">Time (min)</text>
<text transform="translate(22.9,430.1) rotate(-90)" text-anchor="middle" class="lab">Activity concentration (kBq/mL)</text>
<text transform="translate(396.3,49.8) scale(1,1.05)" text-anchor="middle" class="ttl">ABSS#1</text>
<text x="60.8" y="30.3" class="tag">(A)</text>
<line x1="302.4" y1="663.9" x2="375.2" y2="663.9" stroke="#0072bd" stroke-width="2"/>
<text x="380.6" y="673.5" class="lg">350 mL/h</text>
<line x1="302.4" y1="695.4" x2="375.2" y2="695.4" stroke="#d95319" stroke-width="2"/>
<text x="380.6" y="705.0" class="lg">300 mL/h</text>
<line x1="302.4" y1="726.9" x2="375.2" y2="726.9" stroke="#7e2f8e" stroke-width="2"/>
<text x="380.6" y="736.5" class="lg">180 mL/h</text>
<line x1="302.4" y1="758.4" x2="375.2" y2="758.4" stroke="#77ac30" stroke-width="2"/>
<text x="380.6" y="768.0" class="lg">150 mL/h</text>
<clipPath id="clipB"><rect x="884.8" y="61.5" width="603.6" height="735.1"/></clipPath>
<rect x="884.8" y="61.5" width="603.6" height="735.1" fill="none" stroke="#262626" stroke-width="1.3"/>
<path d="M884.8 796.6v-7M884.8 61.5v7M1035.7 796.6v-7M1035.7 61.5v7M1186.6 796.6v-7M1186.6 61.5v7M1337.5 796.6v-7M1337.5 61.5v7M1488.4 796.6v-7M1488.4 61.5v7M884.8 796.6h7M1488.4 796.6h-7M884.8 691.6h7M1488.4 691.6h-7M884.8 586.6h7M1488.4 586.6h-7M884.8 481.6h7M1488.4 481.6h-7M884.8 376.5h7M1488.4 376.5h-7M884.8 271.5h7M1488.4 271.5h-7M884.8 166.5h7M1488.4 166.5h-7M884.8 61.5h7M1488.4 61.5h-7" stroke="#262626" stroke-width="1.3" fill="none"/>
<path clip-path="url(#clipB)" d="M884.8 796.0 L889.8 796.0 L894.9 796.0 L899.9 796.0 L904.9 796.0 L909.9 796.0 L915.0 796.0 L920.0 796.0 L925.0 796.0 L930.1 796.0 L935.1 796.0 L940.1 796.0 L945.2 796.0 L950.2 796.0 L955.2 796.0 L960.2 796.0 L965.3 796.0 L970.3 796.0 L975.3 796.0 L980.4 796.0 L985.4 796.0 L990.4 796.0 L995.5 796.0 L1000.5 796.0 L1005.5 796.0 L1010.5 796.0 L1015.6 796.0 L1020.6 796.0 L1025.6 796.0 L1030.7 796.0 L1035.7 730.8 L1040.7 607.4 L1045.8 477.8 L1050.8 377.2 L1055.8 300.3 L1060.8 243.9 L1065.9 195.6 L1070.9 174.5 L1075.9 148.6 L1081.0 125.2 L1086.0 122.5 L1091.0 120.3 L1096.1 104.0 L1101.1 102.9 L1106.1 94.7 L1111.2 97.6 L1116.2 100.1 L1121.2 104.2 L1126.2 90.9 L1131.3 84.5 L1136.3 87.4 L1141.3 80.6 L1146.4 78.0 L1151.4 93.6 L1156.4 84.1 L1161.5 84.6 L1166.5 92.6 L1171.5 92.7 L1176.5 82.6 L1181.6 81.7 L1186.6 97.0 L1191.6 96.3 L1196.7 85.1 L1201.7 94.3 L1206.7 96.5 L1211.8 95.1 L1216.8 88.9 L1221.8 82.6 L1226.8 92.1 L1231.9 97.8 L1236.9 86.9 L1241.9 83.6 L1247.0 88.2 L1252.0 84.6 L1257.0 81.9 L1262.1 90.7 L1267.1 83.2 L1272.1 95.0 L1277.1 98.3 L1282.2 95.1 L1287.2 93.5 L1292.2 85.0 L1297.3 90.6 L1302.3 86.5 L1307.3 87.7 L1312.4 98.4 L1317.4 91.1 L1322.4 89.5 L1327.4 89.1 L1332.5 98.9 L1337.5 87.6 L1342.5 150.4 L1347.6 287.7 L1352.6 430.5 L1357.6 537.1 L1362.7 616.9 L1367.7 669.1 L1372.7 706.7 L1377.7 732.8 L1382.8 750.5 L1387.8 763.1 L1392.8 771.8 L1397.9 777.8 L1402.9 782.1 L1407.9 785.0 L1413.0 787.1 L1418.0 788.4 L1423.0 789.4 L1428.0 790.1 L1433.1 790.6 L1438.1 791.0 L1443.1 791.2 L1448.2 791.3 L1453.2 791.5 L1458.2 791.5 L1463.2 791.6 L1468.3 791.6 L1473.3 791.7 L1478.3 791.7 L1483.4 791.7 L1488.4 791.7 L1488.4 791.7 L1483.4 791.7 L1478.3 791.7 L1473.3 791.7 L1468.3 791.7 L1463.2 791.6 L1458.2 791.6 L1453.2 791.6 L1448.2 791.5 L1443.1 791.4 L1438.1 791.2 L1433.1 791.1 L1428.0 790.7 L1423.0 790.3 L1418.0 789.7 L1413.0 788.8 L1407.9 787.6 L1402.9 785.8 L1397.9 783.1 L1392.8 779.5 L1387.8 774.7 L1382.8 766.5 L1377.7 755.5 L1372.7 739.3 L1367.7 715.5 L1362.7 686.0 L1357.6 637.0 L1352.6 568.4 L1347.6 471.6 L1342.5 341.6 L1337.5 194.6 L1332.5 133.8 L1327.4 116.9 L1322.4 118.0 L1317.4 128.8 L1312.4 132.2 L1307.3 116.2 L1302.3 117.5 L1297.3 115.5 L1292.2 119.6 L1287.2 111.8 L1282.2 114.7 L1277.1 126.2 L1272.1 128.7 L1267.1 122.6 L1262.1 119.1 L1257.0 117.6 L1252.0 120.6 L1247.0 124.6 L1241.9 130.6 L1236.9 128.7 L1231.9 134.1 L1226.8 136.1 L1221.8 124.7 L1216.8 119.5 L1211.8 126.4 L1206.7 132.0 L1201.7 127.5 L1196.7 120.9 L1191.6 116.0 L1186.6 113.4 L1181.6 107.2 L1176.5 118.5 L1171.5 107.7 L1166.5 108.8 L1161.5 111.2 L1156.4 116.0 L1151.4 125.3 L1146.4 125.4 L1141.3 128.9 L1136.3 131.3 L1131.3 125.5 L1126.2 129.7 L1121.2 134.7 L1116.2 125.2 L1111.2 120.7 L1106.1 128.6 L1101.1 134.3 L1096.1 131.1 L1091.0 142.6 L1086.0 147.5 L1081.0 154.5 L1075.9 180.1 L1070.9 204.5 L1065.9 237.9 L1060.8 277.2 L1055.8 335.1 L1050.8 422.1 L1045.8 523.5 L1040.7 646.1 L1035.7 752.9 L1030.7 797.2 L1025.6 797.2 L1020.6 797.2 L1015.6 797.2 L1010.5 797.2 L1005.5 797.2 L1000.5 797.2 L995.5 797.2 L990.4 797.2 L985.4 797.2 L980.4 797.2 L975.3 797.2 L970.3 797.2 L965.3 797.2 L960.2 797.2 L955.2 797.2 L950.2 797.2 L945.2 797.2 L940.1 797.2 L935.1 797.2 L930.1 797.2 L925.0 797.2 L920.0 797.2 L915.0 797.2 L909.9 797.2 L904.9 797.2 L899.9 797.2 L894.9 797.2 L889.8 797.2 L884.8 797.2Z" fill="#0072bd" fill-opacity="0.3" stroke="none"/>
<path d="M884.8 796.6h0M889.8 796.6h0M894.9 796.6h0M899.9 796.6h0M904.9 796.6h0M909.9 796.6h0M915.0 796.6h0M920.0 796.6h0M925.0 796.6h0M930.1 796.6h0M935.1 796.6h0M940.1 796.6h0M945.2 796.6h0M950.2 796.6h0M955.2 796.6h0M960.2 796.6h0M965.3 796.6h0M970.3 796.6h0M975.3 796.6h0M980.4 796.6h0M985.4 796.6h0M990.4 796.6h0M995.5 796.6h0M1000.5 796.6h0M1005.5 796.6h0M1010.5 796.6h0M1015.6 796.6h0M1020.6 796.6h0M1025.6 796.6h0M1030.7 796.6h0M1035.7 746.5h0M1040.7 627.3h0M1045.8 499.2h0M1050.8 398.1h0M1055.8 316.5h0M1060.8 259.7h0M1065.9 216.0h0M1070.9 189.0h0M1075.9 164.0h0M1081.0 139.6h0M1086.0 134.8h0M1091.0 131.3h0M1096.1 117.5h0M1101.1 118.5h0M1106.1 111.6h0M1111.2 109.2h0M1116.2 112.6h0M1121.2 119.4h0M1126.2 110.3h0M1131.3 105.0h0M1136.3 109.4h0M1141.3 104.8h0M1146.4 101.7h0M1151.4 109.4h0M1156.4 100.1h0M1161.5 97.9h0M1166.5 100.7h0M1171.5 100.2h0M1176.5 100.5h0M1181.6 94.4h0M1186.6 105.2h0M1191.6 106.2h0M1196.7 103.0h0M1201.7 110.9h0M1206.7 114.2h0M1211.8 110.7h0M1216.8 104.2h0M1221.8 103.7h0M1226.8 114.1h0M1231.9 116.0h0M1236.9 107.8h0M1241.9 107.1h0M1247.0 106.4h0M1252.0 102.6h0M1257.0 99.7h0M1262.1 104.9h0M1267.1 102.9h0M1272.1 111.8h0M1277.1 112.3h0M1282.2 104.9h0M1287.2 102.7h0M1292.2 102.3h0M1297.3 103.0h0M1302.3 102.0h0M1307.3 101.9h0M1312.4 115.3h0M1317.4 110.0h0M1322.4 103.8h0M1327.4 103.0h0M1332.5 114.0h0M1337.5 107.9h0M1342.5 234.2h0M1347.6 390.8h0M1352.6 510.0h0M1357.6 594.7h0M1362.7 656.9h0M1367.7 696.1h0M1372.7 725.6h0M1377.7 746.0h0M1382.8 759.8h0M1387.8 769.8h0M1392.8 776.3h0M1397.9 780.9h0M1402.9 784.2h0M1407.9 786.5h0M1413.0 788.1h0M1418.0 789.2h0M1423.0 789.9h0M1428.0 790.5h0M1433.1 790.9h0M1438.1 791.1h0M1443.1 791.3h0M1448.2 791.4h0M1453.2 791.5h0M1458.2 791.6h0M1463.2 791.6h0M1468.3 791.6h0M1473.3 791.7h0M1478.3 791.7h0M1483.4 791.7h0M1488.4 791.7h0" stroke="#0072bd" stroke-width="4" stroke-linecap="round" fill="none"/>
<polyline points="884.8,791.7 885.6,791.7 886.3,791.7 887.1,791.7 887.8,791.7 888.6,791.7 889.3,791.7 890.1,791.7 890.8,791.7 891.6,791.7 892.3,791.7 893.1,791.7 893.9,791.7 894.6,791.7 895.4,791.7 896.1,791.7 896.9,791.7 897.6,791.7 898.4,791.7 899.1,791.7 899.9,791.7 900.6,791.7 901.4,791.7 902.2,791.7 902.9,791.7 903.7,791.7 904.4,791.7 905.2,791.7 905.9,791.7 906.7,791.7 907.4,791.7 908.2,791.7 908.9,791.7 909.7,791.7 910.5,791.7 911.2,791.7 912.0,791.7 912.7,791.7 913.5,791.7 914.2,791.7 915.0,791.7 915.7,791.7 916.5,791.7 917.2,791.7 918.0,791.7 918.8,791.7 919.5,791.7 920.3,791.7 921.0,791.7 921.8,791.7 922.5,791.7 923.3,791.7 924.0,791.7 924.8,791.7 925.5,791.7 926.3,791.7 927.1,791.7 927.8,791.7 928.6,791.7 929.3,791.7 930.1,791.7 930.8,791.7 931.6,791.7 932.3,791.7 933.1,791.7 933.8,791.7 934.6,791.7 935.4,791.7 936.1,791.7 936.9,791.7 937.6,791.7 938.4,791.7 939.1,791.7 939.9,791.7 940.6,791.7 941.4,791.7 942.1,791.7 942.9,791.7 943.7,791.7 944.4,791.7 945.2,791.7 945.9,791.7 946.7,791.7 947.4,791.7 948.2,791.7 948.9,791.7 949.7,791.7 950.4,791.7 951.2,791.7 952.0,791.7 952.7,791.7 953.5,791.7 954.2,791.7 955.0,791.7 955.7,791.7 956.5,791.7 957.2,791.7 958.0,791.7 958.7,791.7 959.5,791.7 960.2,791.7 961.0,791.7 961.8,791.7 962.5,791.7 963.3,791.7 964.0,791.7 964.8,791.7 965.5,791.7 966.3,791.7 967.0,791.7 967.8,791.7 968.5,791.7 969.3,791.7 970.1,791.7 970.8,791.7 971.6,791.7 972.3,791.7 973.1,791.7 973.8,791.7 974.6,791.7 975.3,791.7 976.1,791.7 976.8,791.7 977.6,791.7 978.4,791.7 979.1,791.7 979.9,791.7 980.6,791.7 981.4,791.7 982.1,791.7 982.9,791.7 983.6,791.7 984.4,791.7 985.1,791.7 985.9,791.7 986.7,791.7 987.4,791.7 988.2,791.7 988.9,791.7 989.7,791.7 990.4,791.7 991.2,791.7 991.9,791.7 992.7,791.7 993.4,791.7 994.2,791.7 995.0,791.7 995.7,791.7 996.5,791.7 997.2,791.7 998.0,791.7 998.7,791.7 999.5,791.7 1000.2,791.7 1001.0,791.7 1001.7,791.7 1002.5,791.7 1003.3,791.7 1004.0,791.7 1004.8,791.7 1005.5,791.7 1006.3,791.7 1007.0,791.7 1007.8,791.7 1008.5,791.7 1009.3,791.7 1010.0,791.7 1010.8,791.7 1011.6,791.7 1012.3,791.7 1013.1,791.7 1013.8,791.7 1014.6,791.7 1015.3,791.7 1016.1,791.7 1016.8,791.7 1017.6,791.7 1018.3,791.7 1019.1,791.7 1019.9,791.7 1020.6,791.7 1021.4,791.7 1022.1,791.7 1022.9,791.7 1023.6,791.7 1024.4,791.7 1025.1,791.7 1025.9,791.7 1026.6,791.7 1027.4,791.7 1028.2,791.7 1028.9,791.7 1029.7,791.7 1030.4,791.7 1031.2,791.7 1031.9,791.7 1032.7,791.7 1033.4,791.7 1034.2,791.2 1034.9,785.7 1035.7,775.5 1036.5,761.7 1037.2,745.2 1038.0,726.8 1038.7,707.1 1039.5,686.6 1040.2,665.5 1041.0,644.3 1041.7,623.1 1042.5,602.2 1043.2,581.6 1044.0,561.5 1044.8,541.9 1045.5,522.9 1046.3,504.5 1047.0,486.8 1047.8,469.7 1048.5,453.2 1049.3,437.4 1050.0,422.3 1050.8,407.8 1051.5,393.9 1052.3,380.6 1053.1,367.9 1053.8,355.8 1054.6,344.2 1055.3,333.1 1056.1,322.5 1056.8,312.4 1057.6,302.8 1058.3,293.6 1059.1,284.8 1059.8,276.5 1060.6,268.5 1061.4,260.9 1062.1,253.7 1062.9,246.7 1063.6,240.2 1064.4,233.9 1065.1,227.9 1065.9,222.2 1066.6,216.7 1067.4,211.5 1068.1,206.6 1068.9,201.9 1069.7,197.4 1070.4,193.1 1071.2,189.0 1071.9,185.1 1072.7,181.4 1073.4,177.9 1074.2,174.5 1074.9,171.3 1075.7,168.3 1076.4,165.3 1077.2,162.6 1078.0,159.9 1078.7,157.4 1079.5,155.0 1080.2,152.7 1081.0,150.5 1081.7,148.4 1082.5,146.4 1083.2,144.5 1084.0,142.7 1084.7,141.0 1085.5,139.4 1086.3,137.8 1087.0,136.3 1087.8,134.9 1088.5,133.6 1089.3,132.3 1090.0,131.1 1090.8,129.9 1091.5,128.8 1092.3,127.7 1093.0,126.7 1093.8,125.7 1094.6,124.8 1095.3,123.9 1096.1,123.1 1096.8,122.3 1097.6,121.5 1098.3,120.8 1099.1,120.1 1099.8,119.5 1100.6,118.8 1101.3,118.2 1102.1,117.7 1102.9,117.1 1103.6,116.6 1104.4,116.1 1105.1,115.7 1105.9,115.2 1106.6,114.8 1107.4,114.4 1108.1,114.0 1108.9,113.6 1109.6,113.3 1110.4,112.9 1111.2,112.6 1111.9,112.3 1112.7,112.0 1113.4,111.7 1114.2,111.5 1114.9,111.2 1115.7,111.0 1116.4,110.8 1117.2,110.5 1117.9,110.3 1118.7,110.1 1119.4,110.0 1120.2,109.8 1121.0,109.6 1121.7,109.4 1122.5,109.3 1123.2,109.1 1124.0,109.0 1124.7,108.9 1125.5,108.7 1126.2,108.6 1127.0,108.5 1127.7,108.4 1128.5,108.3 1129.3,108.2 1130.0,108.1 1130.8,108.0 1131.5,107.9 1132.3,107.8 1133.0,107.7 1133.8,107.7 1134.5,107.6 1135.3,107.5 1136.0,107.5 1136.8,107.4 1137.6,107.3 1138.3,107.3 1139.1,107.2 1139.8,107.2 1140.6,107.1 1141.3,107.1 1142.1,107.0 1142.8,107.0 1143.6,107.0 1144.3,106.9 1145.1,106.9 1145.9,106.8 1146.6,106.8 1147.4,106.8 1148.1,106.7 1148.9,106.7 1149.6,106.7 1150.4,106.7 1151.1,106.6 1151.9,106.6 1152.6,106.6 1153.4,106.6 1154.2,106.5 1154.9,106.5 1155.7,106.5 1156.4,106.5 1157.2,106.5 1157.9,106.5 1158.7,106.4 1159.4,106.4 1160.2,106.4 1160.9,106.4 1161.7,106.4 1162.5,106.4 1163.2,106.4 1164.0,106.4 1164.7,106.3 1165.5,106.3 1166.2,106.3 1167.0,106.3 1167.7,106.3 1168.5,106.3 1169.2,106.3 1170.0,106.3 1170.8,106.3 1171.5,106.3 1172.3,106.3 1173.0,106.3 1173.8,106.3 1174.5,106.2 1175.3,106.2 1176.0,106.2 1176.8,106.2 1177.5,106.2 1178.3,106.2 1179.1,106.2 1179.8,106.2 1180.6,106.2 1181.3,106.2 1182.1,106.2 1182.8,106.2 1183.6,106.2 1184.3,106.2 1185.1,106.2 1185.8,106.2 1186.6,106.2 1187.4,106.2 1188.1,106.2 1188.9,106.2 1189.6,106.2 1190.4,106.2 1191.1,106.2 1191.9,106.2 1192.6,106.2 1193.4,106.2 1194.1,106.2 1194.9,106.2 1195.7,106.2 1196.4,106.2 1197.2,106.2 1197.9,106.2 1198.7,106.2 1199.4,106.2 1200.2,106.2 1200.9,106.2 1201.7,106.2 1202.4,106.2 1203.2,106.1 1204.0,106.1 1204.7,106.1 1205.5,106.1 1206.2,106.1 1207.0,106.1 1207.7,106.1 1208.5,106.1 1209.2,106.1 1210.0,106.1 1210.7,106.1 1211.5,106.1 1212.3,106.1 1213.0,106.1 1213.8,106.1 1214.5,106.1 1215.3,106.1 1216.0,106.1 1216.8,106.1 1217.5,106.1 1218.3,106.1 1219.0,106.1 1219.8,106.1 1220.6,106.1 1221.3,106.1 1222.1,106.1 1222.8,106.1 1223.6,106.1 1224.3,106.1 1225.1,106.1 1225.8,106.1 1226.6,106.1 1227.3,106.1 1228.1,106.1 1228.9,106.1 1229.6,106.1 1230.4,106.1 1231.1,106.1 1231.9,106.1 1232.6,106.1 1233.4,106.1 1234.1,106.1 1234.9,106.1 1235.6,106.1 1236.4,106.1 1237.2,106.1 1237.9,106.1 1238.7,106.1 1239.4,106.1 1240.2,106.1 1240.9,106.1 1241.7,106.1 1242.4,106.1 1243.2,106.1 1243.9,106.1 1244.7,106.1 1245.5,106.1 1246.2,106.1 1247.0,106.1 1247.7,106.1 1248.5,106.1 1249.2,106.1 1250.0,106.1 1250.7,106.1 1251.5,106.1 1252.2,106.1 1253.0,106.1 1253.8,106.1 1254.5,106.1 1255.3,106.1 1256.0,106.1 1256.8,106.1 1257.5,106.1 1258.3,106.1 1259.0,106.1 1259.8,106.1 1260.5,106.1 1261.3,106.1 1262.1,106.1 1262.8,106.1 1263.6,106.1 1264.3,106.1 1265.1,106.1 1265.8,106.1 1266.6,106.1 1267.3,106.1 1268.1,106.1 1268.8,106.1 1269.6,106.1 1270.3,106.1 1271.1,106.1 1271.9,106.1 1272.6,106.1 1273.4,106.1 1274.1,106.1 1274.9,106.1 1275.6,106.1 1276.4,106.1 1277.1,106.1 1277.9,106.1 1278.6,106.1 1279.4,106.1 1280.2,106.1 1280.9,106.1 1281.7,106.1 1282.4,106.1 1283.2,106.1 1283.9,106.1 1284.7,106.1 1285.4,106.1 1286.2,106.1 1286.9,106.1 1287.7,106.1 1288.5,106.1 1289.2,106.1 1290.0,106.1 1290.7,106.1 1291.5,106.1 1292.2,106.1 1293.0,106.1 1293.7,106.1 1294.5,106.1 1295.2,106.1 1296.0,106.1 1296.8,106.1 1297.5,106.1 1298.3,106.1 1299.0,106.1 1299.8,106.1 1300.5,106.1 1301.3,106.1 1302.0,106.1 1302.8,106.1 1303.5,106.1 1304.3,106.1 1305.1,106.1 1305.8,106.1 1306.6,106.1 1307.3,106.1 1308.1,106.1 1308.8,106.1 1309.6,106.1 1310.3,106.1 1311.1,106.1 1311.8,106.1 1312.6,106.1 1313.4,106.1 1314.1,106.1 1314.9,106.1 1315.6,106.1 1316.4,106.1 1317.1,106.1 1317.9,106.1 1318.6,106.1 1319.4,106.1 1320.1,106.1 1320.9,106.1 1321.7,106.1 1322.4,106.1 1323.2,106.1 1323.9,106.1 1324.7,106.1 1325.4,106.1 1326.2,106.1 1326.9,106.1 1327.7,106.1 1328.4,106.1 1329.2,106.1 1330.0,106.1 1330.7,106.1 1331.5,106.1 1332.2,106.1 1333.0,106.1 1333.7,106.1 1334.5,106.1 1335.2,106.1 1336.0,106.1 1336.7,106.1 1337.5,106.1 1338.3,106.1 1339.0,123.9 1339.8,153.6 1340.5,182.9 1341.3,210.9 1342.0,237.7 1342.8,263.2 1343.5,287.6 1344.3,310.8 1345.0,332.9 1345.8,354.1 1346.6,374.2 1347.3,393.5 1348.1,411.8 1348.8,429.3 1349.6,446.0 1350.3,462.0 1351.1,477.1 1351.8,491.6 1352.6,505.5 1353.3,518.7 1354.1,531.2 1354.9,543.2 1355.6,554.7 1356.4,565.6 1357.1,576.0 1357.9,586.0 1358.6,595.4 1359.4,604.5 1360.1,613.1 1360.9,621.3 1361.6,629.2 1362.4,636.7 1363.2,643.8 1363.9,650.6 1364.7,657.1 1365.4,663.3 1366.2,669.3 1366.9,674.9 1367.7,680.3 1368.4,685.4 1369.2,690.3 1369.9,695.0 1370.7,699.4 1371.5,703.7 1372.2,707.7 1373.0,711.6 1373.7,715.3 1374.5,718.8 1375.2,722.2 1376.0,725.4 1376.7,728.4 1377.5,731.4 1378.2,734.1 1379.0,736.8 1379.8,739.3 1380.5,741.7 1381.3,744.0 1382.0,746.2 1382.8,748.3 1383.5,750.3 1384.3,752.2 1385.0,754.1 1385.8,755.8 1386.5,757.4 1387.3,759.0 1388.1,760.5 1388.8,762.0 1389.6,763.3 1390.3,764.6 1391.1,765.9 1391.8,767.1 1392.6,768.2 1393.3,769.3 1394.1,770.3 1394.8,771.3 1395.6,772.3 1396.4,773.2 1397.1,774.0 1397.9,774.8 1398.6,775.6 1399.4,776.3 1400.1,777.1 1400.9,777.7 1401.6,778.4 1402.4,779.0 1403.1,779.6 1403.9,780.1 1404.7,780.7 1405.4,781.2 1406.2,781.7 1406.9,782.1 1407.7,782.6 1408.4,783.0 1409.2,783.4 1409.9,783.8 1410.7,784.1 1411.4,784.5 1412.2,784.8 1413.0,785.1 1413.7,785.4 1414.5,785.7 1415.2,786.0 1416.0,786.3 1416.7,786.5 1417.5,786.8 1418.2,787.0 1419.0,787.2 1419.7,787.4 1420.5,787.6 1421.2,787.8 1422.0,788.0 1422.8,788.2 1423.5,788.3 1424.3,788.5 1425.0,788.6 1425.8,788.8 1426.5,788.9 1427.3,789.0 1428.0,789.2 1428.8,789.3 1429.5,789.4 1430.3,789.5 1431.1,789.6 1431.8,789.7 1432.6,789.8 1433.3,789.9 1434.1,790.0 1434.8,790.0 1435.6,790.1 1436.3,790.2 1437.1,790.3 1437.8,790.3 1438.6,790.4 1439.4,790.5 1440.1,790.5 1440.9,790.6 1441.6,790.6 1442.4,790.7 1443.1,790.7 1443.9,790.8 1444.6,790.8 1445.4,790.9 1446.1,790.9 1446.9,790.9 1447.7,791.0 1448.4,791.0 1449.2,791.0 1449.9,791.1 1450.7,791.1 1451.4,791.1 1452.2,791.2 1452.9,791.2 1453.7,791.2 1454.4,791.2 1455.2,791.2 1456.0,791.3 1456.7,791.3 1457.5,791.3 1458.2,791.3 1459.0,791.3 1459.7,791.4 1460.5,791.4 1461.2,791.4 1462.0,791.4 1462.7,791.4 1463.5,791.4 1464.3,791.5 1465.0,791.5 1465.8,791.5 1466.5,791.5 1467.3,791.5 1468.0,791.5 1468.8,791.5 1469.5,791.5 1470.3,791.5 1471.0,791.5 1471.8,791.6 1472.6,791.6 1473.3,791.6 1474.1,791.6 1474.8,791.6 1475.6,791.6 1476.3,791.6 1477.1,791.6 1477.8,791.6 1478.6,791.6 1479.3,791.6 1480.1,791.6 1480.9,791.6 1481.6,791.6 1482.4,791.6 1483.1,791.6 1483.9,791.6 1484.6,791.6 1485.4,791.6 1486.1,791.6 1486.9,791.7 1487.6,791.7 1488.4,791.7" fill="none" stroke="#0072bd" stroke-width="2" stroke-linejoin="round"/>
<path clip-path="url(#clipB)" d="M884.8 796.0 L889.8 796.0 L894.9 796.0 L899.9 796.0 L904.9 796.0 L909.9 796.0 L915.0 796.0 L920.0 796.0 L925.0 796.0 L930.1 796.0 L935.1 796.0 L940.1 796.0 L945.2 796.0 L950.2 796.0 L955.2 796.0 L960.2 796.0 L965.3 796.0 L970.3 796.0 L975.3 796.0 L980.4 796.0 L985.4 796.0 L990.4 796.0 L995.5 796.0 L1000.5 796.0 L1005.5 796.0 L1010.5 796.0 L1015.6 796.0 L1020.6 796.0 L1025.6 796.0 L1030.7 796.0 L1035.7 716.0 L1040.7 612.9 L1045.8 517.1 L1050.8 427.2 L1055.8 369.7 L1060.8 327.1 L1065.9 289.3 L1070.9 262.0 L1075.9 232.5 L1081.0 216.7 L1086.0 196.9 L1091.0 198.0 L1096.1 193.7 L1101.1 200.1 L1106.1 201.4 L1111.2 181.4 L1116.2 191.7 L1121.2 184.7 L1126.2 184.3 L1131.3 186.2 L1136.3 183.7 L1141.3 192.9 L1146.4 182.9 L1151.4 173.0 L1156.4 176.9 L1161.5 177.0 L1166.5 175.0 L1171.5 177.9 L1176.5 178.4 L1181.6 191.9 L1186.6 184.4 L1191.6 174.7 L1196.7 183.3 L1201.7 181.3 L1206.7 181.3 L1211.8 186.1 L1216.8 168.6 L1221.8 175.8 L1226.8 174.6 L1231.9 174.8 L1236.9 183.5 L1241.9 190.7 L1247.0 172.9 L1252.0 188.1 L1257.0 194.6 L1262.1 177.9 L1267.1 169.8 L1272.1 175.4 L1277.1 183.3 L1282.2 179.5 L1287.2 178.3 L1292.2 179.7 L1297.3 183.1 L1302.3 183.3 L1307.3 198.8 L1312.4 181.3 L1317.4 190.4 L1322.4 182.2 L1327.4 180.0 L1332.5 185.8 L1337.5 177.9 L1342.5 224.5 L1347.6 332.8 L1352.6 441.9 L1357.6 528.4 L1362.7 599.7 L1367.7 647.5 L1372.7 685.5 L1377.7 714.3 L1382.8 735.4 L1387.8 750.4 L1392.8 761.3 L1397.9 769.6 L1402.9 776.2 L1407.9 780.7 L1413.0 784.0 L1418.0 786.5 L1423.0 788.3 L1428.0 789.7 L1433.1 790.7 L1438.1 791.4 L1443.1 792.0 L1448.2 792.3 L1453.2 792.7 L1458.2 792.9 L1463.2 793.0 L1468.3 793.2 L1473.3 793.2 L1478.3 793.3 L1483.4 793.4 L1488.4 793.4 L1488.4 793.4 L1483.4 793.4 L1478.3 793.4 L1473.3 793.3 L1468.3 793.2 L1463.2 793.2 L1458.2 793.0 L1453.2 792.9 L1448.2 792.6 L1443.1 792.4 L1438.1 791.9 L1433.1 791.4 L1428.0 790.6 L1423.0 789.7 L1418.0 788.3 L1413.0 786.4 L1407.9 783.9 L1402.9 780.4 L1397.9 775.6 L1392.8 769.0 L1387.8 761.1 L1382.8 750.4 L1377.7 734.4 L1372.7 713.2 L1367.7 685.9 L1362.7 649.6 L1357.6 593.5 L1352.6 524.3 L1347.6 437.2 L1342.5 328.0 L1337.5 240.5 L1332.5 214.3 L1327.4 196.7 L1322.4 197.8 L1317.4 205.1 L1312.4 198.3 L1307.3 215.8 L1302.3 197.8 L1297.3 205.1 L1292.2 207.6 L1287.2 206.2 L1282.2 209.8 L1277.1 205.1 L1272.1 206.7 L1267.1 211.5 L1262.1 198.1 L1257.0 217.5 L1252.0 217.1 L1247.0 215.0 L1241.9 221.6 L1236.9 208.5 L1231.9 208.5 L1226.8 198.7 L1221.8 209.3 L1216.8 199.0 L1211.8 209.8 L1206.7 209.9 L1201.7 199.4 L1196.7 204.4 L1191.6 198.1 L1186.6 210.3 L1181.6 217.8 L1176.5 210.9 L1171.5 208.5 L1166.5 203.9 L1161.5 207.6 L1156.4 204.6 L1151.4 213.6 L1146.4 209.1 L1141.3 213.4 L1136.3 211.0 L1131.3 209.2 L1126.2 215.3 L1121.2 203.6 L1116.2 215.2 L1111.2 204.1 L1106.1 226.3 L1101.1 226.4 L1096.1 235.0 L1091.0 245.3 L1086.0 257.1 L1081.0 259.8 L1075.9 272.7 L1070.9 297.2 L1065.9 329.3 L1060.8 369.3 L1055.8 420.4 L1050.8 470.7 L1045.8 564.3 L1040.7 663.4 L1035.7 749.5 L1030.7 797.2 L1025.6 797.2 L1020.6 797.2 L1015.6 797.2 L1010.5 797.2 L1005.5 797.2 L1000.5 797.2 L995.5 797.2 L990.4 797.2 L985.4 797.2 L980.4 797.2 L975.3 797.2 L970.3 797.2 L965.3 797.2 L960.2 797.2 L955.2 797.2 L950.2 797.2 L945.2 797.2 L940.1 797.2 L935.1 797.2 L930.1 797.2 L925.0 797.2 L920.0 797.2 L915.0 797.2 L909.9 797.2 L904.9 797.2 L899.9 797.2 L894.9 797.2 L889.8 797.2 L884.8 797.2Z" fill="#d95319" fill-opacity="0.3" stroke="none"/>
<path d="M884.8 796.6h0M889.8 796.6h0M894.9 796.6h0M899.9 796.6h0M904.9 796.6h0M909.9 796.6h0M915.0 796.6h0M920.0 796.6h0M925.0 796.6h0M930.1 796.6h0M935.1 796.6h0M940.1 796.6h0M945.2 796.6h0M950.2 796.6h0M955.2 796.6h0M960.2 796.6h0M965.3 796.6h0M970.3 796.6h0M975.3 796.6h0M980.4 796.6h0M985.4 796.6h0M990.4 796.6h0M995.5 796.6h0M1000.5 796.6h0M1005.5 796.6h0M1010.5 796.6h0M1015.6 796.6h0M1020.6 796.6h0M1025.6 796.6h0M1030.7 796.6h0M1035.7 737.7h0M1040.7 638.0h0M1045.8 538.9h0M1050.8 447.1h0M1055.8 393.5h0M1060.8 347.0h0M1065.9 308.4h0M1070.9 278.9h0M1075.9 252.1h0M1081.0 237.9h0M1086.0 226.7h0M1091.0 221.5h0M1096.1 214.2h0M1101.1 213.1h0M1106.1 213.8h0M1111.2 192.7h0M1116.2 203.4h0M1121.2 194.1h0M1126.2 199.8h0M1131.3 197.7h0M1136.3 197.3h0M1141.3 203.2h0M1146.4 196.0h0M1151.4 193.3h0M1156.4 190.7h0M1161.5 192.3h0M1166.5 189.5h0M1171.5 193.2h0M1176.5 194.7h0M1181.6 204.8h0M1186.6 197.3h0M1191.6 186.4h0M1196.7 193.9h0M1201.7 190.3h0M1206.7 195.6h0M1211.8 198.0h0M1216.8 183.8h0M1221.8 192.6h0M1226.8 186.6h0M1231.9 191.7h0M1236.9 196.0h0M1241.9 206.2h0M1247.0 194.0h0M1252.0 202.6h0M1257.0 206.0h0M1262.1 188.0h0M1267.1 190.7h0M1272.1 191.1h0M1277.1 194.2h0M1282.2 194.6h0M1287.2 192.2h0M1292.2 193.6h0M1297.3 194.1h0M1302.3 190.6h0M1307.3 207.3h0M1312.4 189.8h0M1317.4 197.8h0M1322.4 190.0h0M1327.4 188.3h0M1332.5 198.9h0M1337.5 196.2h0M1342.5 267.8h0M1347.6 387.5h0M1352.6 487.5h0M1357.6 564.8h0M1362.7 627.7h0M1367.7 669.0h0M1372.7 701.0h0M1377.7 725.6h0M1382.8 743.8h0M1387.8 756.4h0M1392.8 765.7h0M1397.9 773.0h0M1402.9 778.5h0M1407.9 782.5h0M1413.0 785.3h0M1418.0 787.5h0M1423.0 789.1h0M1428.0 790.2h0M1433.1 791.1h0M1438.1 791.7h0M1443.1 792.2h0M1448.2 792.5h0M1453.2 792.8h0M1458.2 793.0h0M1463.2 793.1h0M1468.3 793.2h0M1473.3 793.3h0M1478.3 793.3h0M1483.4 793.4h0M1488.4 793.4h0" stroke="#d95319" stroke-width="4" stroke-linecap="round" fill="none"/>
<polyline points="884.8,793.5 885.6,793.5 886.3,793.5 887.1,793.5 887.8,793.5 888.6,793.5 889.3,793.5 890.1,793.5 890.8,793.5 891.6,793.5 892.3,793.5 893.1,793.5 893.9,793.5 894.6,793.5 895.4,793.5 896.1,793.5 896.9,793.5 897.6,793.5 898.4,793.5 899.1,793.5 899.9,793.5 900.6,793.5 901.4,793.5 902.2,793.5 902.9,793.5 903.7,793.5 904.4,793.5 905.2,793.5 905.9,793.5 906.7,793.5 907.4,793.5 908.2,793.5 908.9,793.5 909.7,793.5 910.5,793.5 911.2,793.5 912.0,793.5 912.7,793.5 913.5,793.5 914.2,793.5 915.0,793.5 915.7,793.5 916.5,793.5 917.2,793.5 918.0,793.5 918.8,793.5 919.5,793.5 920.3,793.5 921.0,793.5 921.8,793.5 922.5,793.5 923.3,793.5 924.0,793.5 924.8,793.5 925.5,793.5 926.3,793.5 927.1,793.5 927.8,793.5 928.6,793.5 929.3,793.5 930.1,793.5 930.8,793.5 931.6,793.5 932.3,793.5 933.1,793.5 933.8,793.5 934.6,793.5 935.4,793.5 936.1,793.5 936.9,793.5 937.6,793.5 938.4,793.5 939.1,793.5 939.9,793.5 940.6,793.5 941.4,793.5 942.1,793.5 942.9,793.5 943.7,793.5 944.4,793.5 945.2,793.5 945.9,793.5 946.7,793.5 947.4,793.5 948.2,793.5 948.9,793.5 949.7,793.5 950.4,793.5 951.2,793.5 952.0,793.5 952.7,793.5 953.5,793.5 954.2,793.5 955.0,793.5 955.7,793.5 956.5,793.5 957.2,793.5 958.0,793.5 958.7,793.5 959.5,793.5 960.2,793.5 961.0,793.5 961.8,793.5 962.5,793.5 963.3,793.5 964.0,793.5 964.8,793.5 965.5,793.5 966.3,793.5 967.0,793.5 967.8,793.5 968.5,793.5 969.3,793.5 970.1,793.5 970.8,793.5 971.6,793.5 972.3,793.5 973.1,793.5 973.8,793.5 974.6,793.5 975.3,793.5 976.1,793.5 976.8,793.5 977.6,793.5 978.4,793.5 979.1,793.5 979.9,793.5 980.6,793.5 981.4,793.5 982.1,793.5 982.9,793.5 983.6,793.5 984.4,793.5 985.1,793.5 985.9,793.5 986.7,793.5 987.4,793.5 988.2,793.5 988.9,793.5 989.7,793.5 990.4,793.5 991.2,793.5 991.9,793.5 992.7,793.5 993.4,793.5 994.2,793.5 995.0,793.5 995.7,793.5 996.5,793.5 997.2,793.5 998.0,793.5 998.7,793.5 999.5,793.5 1000.2,793.5 1001.0,793.5 1001.7,793.5 1002.5,793.5 1003.3,793.5 1004.0,793.5 1004.8,793.5 1005.5,793.5 1006.3,793.5 1007.0,793.5 1007.8,793.5 1008.5,793.5 1009.3,793.5 1010.0,793.5 1010.8,793.5 1011.6,793.5 1012.3,793.5 1013.1,793.5 1013.8,793.5 1014.6,793.5 1015.3,793.5 1016.1,793.5 1016.8,793.5 1017.6,793.5 1018.3,793.5 1019.1,793.5 1019.9,793.5 1020.6,793.5 1021.4,793.5 1022.1,793.5 1022.9,793.5 1023.6,793.5 1024.4,793.5 1025.1,793.5 1025.9,793.5 1026.6,793.5 1027.4,793.5 1028.2,793.5 1028.9,793.5 1029.7,793.5 1030.4,793.5 1031.2,793.5 1031.9,793.5 1032.7,793.5 1033.4,793.5 1034.2,793.1 1034.9,789.2 1035.7,781.8 1036.5,771.7 1037.2,759.5 1038.0,745.8 1038.7,730.9 1039.5,715.3 1040.2,699.1 1041.0,682.7 1041.7,666.1 1042.5,649.6 1043.2,633.3 1044.0,617.2 1044.8,601.4 1045.5,585.9 1046.3,570.9 1047.0,556.2 1047.8,542.0 1048.5,528.3 1049.3,515.0 1050.0,502.2 1050.8,489.8 1051.5,477.9 1052.3,466.4 1053.1,455.3 1053.8,444.7 1054.6,434.5 1055.3,424.6 1056.1,415.2 1056.8,406.1 1057.6,397.4 1058.3,389.1 1059.1,381.1 1059.8,373.4 1060.6,366.0 1061.4,358.9 1062.1,352.1 1062.9,345.6 1063.6,339.4 1064.4,333.4 1065.1,327.7 1065.9,322.2 1066.6,316.9 1067.4,311.8 1068.1,307.0 1068.9,302.3 1069.7,297.9 1070.4,293.6 1071.2,289.5 1071.9,285.6 1072.7,281.8 1073.4,278.2 1074.2,274.8 1074.9,271.5 1075.7,268.3 1076.4,265.2 1077.2,262.3 1078.0,259.5 1078.7,256.8 1079.5,254.3 1080.2,251.8 1081.0,249.4 1081.7,247.2 1082.5,245.0 1083.2,242.9 1084.0,240.9 1084.7,239.0 1085.5,237.2 1086.3,235.4 1087.0,233.7 1087.8,232.1 1088.5,230.6 1089.3,229.1 1090.0,227.7 1090.8,226.3 1091.5,225.0 1092.3,223.8 1093.0,222.6 1093.8,221.4 1094.6,220.3 1095.3,219.3 1096.1,218.3 1096.8,217.3 1097.6,216.4 1098.3,215.5 1099.1,214.6 1099.8,213.8 1100.6,213.0 1101.3,212.2 1102.1,211.5 1102.9,210.8 1103.6,210.2 1104.4,209.5 1105.1,208.9 1105.9,208.3 1106.6,207.8 1107.4,207.3 1108.1,206.7 1108.9,206.2 1109.6,205.8 1110.4,205.3 1111.2,204.9 1111.9,204.5 1112.7,204.1 1113.4,203.7 1114.2,203.3 1114.9,203.0 1115.7,202.6 1116.4,202.3 1117.2,202.0 1117.9,201.7 1118.7,201.4 1119.4,201.2 1120.2,200.9 1121.0,200.6 1121.7,200.4 1122.5,200.2 1123.2,200.0 1124.0,199.7 1124.7,199.5 1125.5,199.3 1126.2,199.2 1127.0,199.0 1127.7,198.8 1128.5,198.6 1129.3,198.5 1130.0,198.3 1130.8,198.2 1131.5,198.1 1132.3,197.9 1133.0,197.8 1133.8,197.7 1134.5,197.6 1135.3,197.5 1136.0,197.3 1136.8,197.2 1137.6,197.1 1138.3,197.0 1139.1,197.0 1139.8,196.9 1140.6,196.8 1141.3,196.7 1142.1,196.6 1142.8,196.6 1143.6,196.5 1144.3,196.4 1145.1,196.4 1145.9,196.3 1146.6,196.2 1147.4,196.2 1148.1,196.1 1148.9,196.1 1149.6,196.0 1150.4,196.0 1151.1,195.9 1151.9,195.9 1152.6,195.8 1153.4,195.8 1154.2,195.8 1154.9,195.7 1155.7,195.7 1156.4,195.7 1157.2,195.6 1157.9,195.6 1158.7,195.6 1159.4,195.5 1160.2,195.5 1160.9,195.5 1161.7,195.5 1162.5,195.4 1163.2,195.4 1164.0,195.4 1164.7,195.4 1165.5,195.3 1166.2,195.3 1167.0,195.3 1167.7,195.3 1168.5,195.3 1169.2,195.3 1170.0,195.2 1170.8,195.2 1171.5,195.2 1172.3,195.2 1173.0,195.2 1173.8,195.2 1174.5,195.2 1175.3,195.1 1176.0,195.1 1176.8,195.1 1177.5,195.1 1178.3,195.1 1179.1,195.1 1179.8,195.1 1180.6,195.1 1181.3,195.1 1182.1,195.1 1182.8,195.0 1183.6,195.0 1184.3,195.0 1185.1,195.0 1185.8,195.0 1186.6,195.0 1187.4,195.0 1188.1,195.0 1188.9,195.0 1189.6,195.0 1190.4,195.0 1191.1,195.0 1191.9,195.0 1192.6,195.0 1193.4,195.0 1194.1,195.0 1194.9,195.0 1195.7,195.0 1196.4,195.0 1197.2,194.9 1197.9,194.9 1198.7,194.9 1199.4,194.9 1200.2,194.9 1200.9,194.9 1201.7,194.9 1202.4,194.9 1203.2,194.9 1204.0,194.9 1204.7,194.9 1205.5,194.9 1206.2,194.9 1207.0,194.9 1207.7,194.9 1208.5,194.9 1209.2,194.9 1210.0,194.9 1210.7,194.9 1211.5,194.9 1212.3,194.9 1213.0,194.9 1213.8,194.9 1214.5,194.9 1215.3,194.9 1216.0,194.9 1216.8,194.9 1217.5,194.9 1218.3,194.9 1219.0,194.9 1219.8,194.9 1220.6,194.9 1221.3,194.9 1222.1,194.9 1222.8,194.9 1223.6,194.9 1224.3,194.9 1225.1,194.9 1225.8,194.9 1226.6,194.9 1227.3,194.9 1228.1,194.9 1228.9,194.9 1229.6,194.9 1230.4,194.9 1231.1,194.9 1231.9,194.9 1232.6,194.9 1233.4,194.9 1234.1,194.9 1234.9,194.9 1235.6,194.9 1236.4,194.9 1237.2,194.9 1237.9,194.9 1238.7,194.9 1239.4,194.9 1240.2,194.9 1240.9,194.9 1241.7,194.9 1242.4,194.9 1243.2,194.9 1243.9,194.9 1244.7,194.9 1245.5,194.9 1246.2,194.9 1247.0,194.9 1247.7,194.9 1248.5,194.9 1249.2,194.9 1250.0,194.9 1250.7,194.9 1251.5,194.9 1252.2,194.9 1253.0,194.9 1253.8,194.9 1254.5,194.9 1255.3,194.9 1256.0,194.9 1256.8,194.9 1257.5,194.9 1258.3,194.9 1259.0,194.9 1259.8,194.9 1260.5,194.9 1261.3,194.9 1262.1,194.9 1262.8,194.9 1263.6,194.9 1264.3,194.9 1265.1,194.9 1265.8,194.9 1266.6,194.9 1267.3,194.9 1268.1,194.9 1268.8,194.9 1269.6,194.9 1270.3,194.9 1271.1,194.9 1271.9,194.9 1272.6,194.9 1273.4,194.9 1274.1,194.9 1274.9,194.9 1275.6,194.9 1276.4,194.9 1277.1,194.9 1277.9,194.9 1278.6,194.9 1279.4,194.9 1280.2,194.9 1280.9,194.9 1281.7,194.9 1282.4,194.9 1283.2,194.9 1283.9,194.9 1284.7,194.9 1285.4,194.9 1286.2,194.9 1286.9,194.9 1287.7,194.9 1288.5,194.9 1289.2,194.9 1290.0,194.9 1290.7,194.9 1291.5,194.9 1292.2,194.9 1293.0,194.9 1293.7,194.9 1294.5,194.9 1295.2,194.9 1296.0,194.9 1296.8,194.9 1297.5,194.9 1298.3,194.9 1299.0,194.9 1299.8,194.9 1300.5,194.9 1301.3,194.9 1302.0,194.9 1302.8,194.9 1303.5,194.9 1304.3,194.9 1305.1,194.9 1305.8,194.9 1306.6,194.9 1307.3,194.9 1308.1,194.9 1308.8,194.9 1309.6,194.9 1310.3,194.9 1311.1,194.9 1311.8,194.9 1312.6,194.9 1313.4,194.9 1314.1,194.9 1314.9,194.9 1315.6,194.9 1316.4,194.9 1317.1,194.9 1317.9,194.9 1318.6,194.9 1319.4,194.9 1320.1,194.9 1320.9,194.9 1321.7,194.9 1322.4,194.9 1323.2,194.9 1323.9,194.9 1324.7,194.9 1325.4,194.9 1326.2,194.9 1326.9,194.9 1327.7,194.9 1328.4,194.9 1329.2,194.9 1330.0,194.9 1330.7,194.9 1331.5,194.9 1332.2,194.9 1333.0,194.9 1333.7,194.9 1334.5,194.9 1335.2,194.9 1336.0,194.9 1336.7,194.9 1337.5,194.9 1338.3,197.2 1339.0,216.0 1339.8,237.4 1340.5,258.4 1341.3,278.6 1342.0,298.0 1342.8,316.7 1343.5,334.7 1344.3,352.0 1345.0,368.7 1345.8,384.7 1346.6,400.1 1347.3,415.0 1348.1,429.2 1348.8,443.0 1349.6,456.2 1350.3,468.9 1351.1,481.2 1351.8,493.0 1352.6,504.3 1353.3,515.2 1354.1,525.7 1354.9,535.8 1355.6,545.6 1356.4,554.9 1357.1,563.9 1357.9,572.6 1358.6,580.9 1359.4,588.9 1360.1,596.6 1360.9,604.1 1361.6,611.2 1362.4,618.1 1363.2,624.7 1363.9,631.1 1364.7,637.2 1365.4,643.1 1366.2,648.8 1366.9,654.2 1367.7,659.5 1368.4,664.6 1369.2,669.4 1369.9,674.1 1370.7,678.6 1371.5,682.9 1372.2,687.1 1373.0,691.1 1373.7,695.0 1374.5,698.7 1375.2,702.3 1376.0,705.7 1376.7,709.0 1377.5,712.2 1378.2,715.3 1379.0,718.2 1379.8,721.1 1380.5,723.8 1381.3,726.4 1382.0,729.0 1382.8,731.4 1383.5,733.8 1384.3,736.0 1385.0,738.2 1385.8,740.3 1386.5,742.3 1387.3,744.2 1388.1,746.1 1388.8,747.9 1389.6,749.6 1390.3,751.2 1391.1,752.8 1391.8,754.4 1392.6,755.8 1393.3,757.3 1394.1,758.6 1394.8,759.9 1395.6,761.2 1396.4,762.4 1397.1,763.6 1397.9,764.7 1398.6,765.8 1399.4,766.9 1400.1,767.9 1400.9,768.8 1401.6,769.8 1402.4,770.7 1403.1,771.5 1403.9,772.4 1404.7,773.1 1405.4,773.9 1406.2,774.7 1406.9,775.4 1407.7,776.1 1408.4,776.7 1409.2,777.3 1409.9,778.0 1410.7,778.5 1411.4,779.1 1412.2,779.6 1413.0,780.2 1413.7,780.7 1414.5,781.2 1415.2,781.6 1416.0,782.1 1416.7,782.5 1417.5,782.9 1418.2,783.3 1419.0,783.7 1419.7,784.1 1420.5,784.4 1421.2,784.8 1422.0,785.1 1422.8,785.4 1423.5,785.7 1424.3,786.0 1425.0,786.3 1425.8,786.6 1426.5,786.8 1427.3,787.1 1428.0,787.3 1428.8,787.6 1429.5,787.8 1430.3,788.0 1431.1,788.2 1431.8,788.4 1432.6,788.6 1433.3,788.8 1434.1,789.0 1434.8,789.1 1435.6,789.3 1436.3,789.5 1437.1,789.6 1437.8,789.8 1438.6,789.9 1439.4,790.0 1440.1,790.2 1440.9,790.3 1441.6,790.4 1442.4,790.5 1443.1,790.6 1443.9,790.7 1444.6,790.9 1445.4,791.0 1446.1,791.0 1446.9,791.1 1447.7,791.2 1448.4,791.3 1449.2,791.4 1449.9,791.5 1450.7,791.6 1451.4,791.6 1452.2,791.7 1452.9,791.8 1453.7,791.8 1454.4,791.9 1455.2,792.0 1456.0,792.0 1456.7,792.1 1457.5,792.1 1458.2,792.2 1459.0,792.2 1459.7,792.3 1460.5,792.3 1461.2,792.4 1462.0,792.4 1462.7,792.4 1463.5,792.5 1464.3,792.5 1465.0,792.6 1465.8,792.6 1466.5,792.6 1467.3,792.7 1468.0,792.7 1468.8,792.7 1469.5,792.8 1470.3,792.8 1471.0,792.8 1471.8,792.8 1472.6,792.9 1473.3,792.9 1474.1,792.9 1474.8,792.9 1475.6,793.0 1476.3,793.0 1477.1,793.0 1477.8,793.0 1478.6,793.0 1479.3,793.1 1480.1,793.1 1480.9,793.1 1481.6,793.1 1482.4,793.1 1483.1,793.1 1483.9,793.1 1484.6,793.2 1485.4,793.2 1486.1,793.2 1486.9,793.2 1487.6,793.2 1488.4,793.2" fill="none" stroke="#d95319" stroke-width="2" stroke-linejoin="round"/>
<path clip-path="url(#clipB)" d="M884.8 796.0 L889.8 796.0 L894.9 796.0 L899.9 796.0 L904.9 796.0 L909.9 796.0 L915.0 796.0 L920.0 796.0 L925.0 796.0 L930.1 796.0 L935.1 796.0 L940.1 796.0 L945.2 796.0 L950.2 796.0 L955.2 796.0 L960.2 796.0 L965.3 796.0 L970.3 796.0 L975.3 796.0 L980.4 796.0 L985.4 796.0 L990.4 796.0 L995.5 796.0 L1000.5 796.0 L1005.5 796.0 L1010.5 796.0 L1015.6 796.0 L1020.6 796.0 L1025.6 796.0 L1030.7 796.0 L1035.7 786.2 L1040.7 753.9 L1045.8 701.5 L1050.8 645.7 L1055.8 591.4 L1060.8 544.7 L1065.9 498.5 L1070.9 451.9 L1075.9 417.2 L1081.0 393.0 L1086.0 368.1 L1091.0 361.9 L1096.1 343.3 L1101.1 331.2 L1106.1 323.4 L1111.2 311.6 L1116.2 304.3 L1121.2 305.8 L1126.2 284.7 L1131.3 286.4 L1136.3 280.5 L1141.3 276.6 L1146.4 278.1 L1151.4 280.1 L1156.4 276.7 L1161.5 260.3 L1166.5 269.8 L1171.5 269.9 L1176.5 276.3 L1181.6 261.3 L1186.6 263.7 L1191.6 263.7 L1196.7 258.4 L1201.7 264.3 L1206.7 268.1 L1211.8 268.8 L1216.8 258.5 L1221.8 255.7 L1226.8 257.3 L1231.9 268.7 L1236.9 265.2 L1241.9 257.7 L1247.0 264.3 L1252.0 262.8 L1257.0 269.6 L1262.1 262.4 L1267.1 264.9 L1272.1 258.8 L1277.1 259.5 L1282.2 263.0 L1287.2 265.6 L1292.2 260.2 L1297.3 264.0 L1302.3 265.9 L1307.3 263.1 L1312.4 266.6 L1317.4 256.6 L1322.4 256.8 L1327.4 268.3 L1332.5 275.5 L1337.5 297.1 L1342.5 337.3 L1347.6 359.5 L1352.6 392.1 L1357.6 431.2 L1362.7 462.7 L1367.7 498.2 L1372.7 526.1 L1377.7 558.1 L1382.8 587.6 L1387.8 613.5 L1392.8 640.8 L1397.9 661.5 L1402.9 680.2 L1407.9 700.7 L1413.0 714.8 L1418.0 727.5 L1423.0 740.5 L1428.0 750.5 L1433.1 759.5 L1438.1 766.6 L1443.1 772.5 L1448.2 776.8 L1453.2 780.5 L1458.2 783.2 L1463.2 785.9 L1468.3 788.0 L1473.3 789.2 L1478.3 790.2 L1483.4 791.3 L1488.4 791.8 L1488.4 795.0 L1483.4 794.6 L1478.3 794.6 L1473.3 794.6 L1468.3 794.6 L1463.2 794.7 L1458.2 794.2 L1453.2 793.7 L1448.2 793.2 L1443.1 792.3 L1438.1 791.8 L1433.1 790.4 L1428.0 788.0 L1423.0 784.9 L1418.0 778.7 L1413.0 773.3 L1407.9 767.6 L1402.9 756.5 L1397.9 742.3 L1392.8 725.3 L1387.8 699.4 L1382.8 670.0 L1377.7 636.5 L1372.7 598.8 L1367.7 566.2 L1362.7 525.8 L1357.6 492.5 L1352.6 450.6 L1347.6 416.2 L1342.5 377.7 L1337.5 344.3 L1332.5 313.4 L1327.4 300.9 L1322.4 298.5 L1317.4 289.7 L1312.4 288.9 L1307.3 288.4 L1302.3 291.8 L1297.3 287.3 L1292.2 287.5 L1287.2 294.8 L1282.2 293.9 L1277.1 289.9 L1272.1 282.7 L1267.1 283.8 L1262.1 279.7 L1257.0 298.1 L1252.0 285.9 L1247.0 287.8 L1241.9 280.7 L1236.9 286.0 L1231.9 290.0 L1226.8 293.9 L1221.8 297.3 L1216.8 285.0 L1211.8 284.7 L1206.7 283.4 L1201.7 280.6 L1196.7 278.7 L1191.6 283.6 L1186.6 285.6 L1181.6 297.4 L1176.5 301.0 L1171.5 298.9 L1166.5 301.7 L1161.5 295.2 L1156.4 305.4 L1151.4 300.7 L1146.4 302.7 L1141.3 311.0 L1136.3 312.5 L1131.3 320.5 L1126.2 315.5 L1121.2 322.1 L1116.2 328.5 L1111.2 330.6 L1106.1 347.1 L1101.1 365.4 L1096.1 370.5 L1091.0 392.1 L1086.0 415.6 L1081.0 433.3 L1075.9 470.9 L1070.9 489.6 L1065.9 522.6 L1060.8 571.4 L1055.8 617.1 L1050.8 669.6 L1045.8 722.2 L1040.7 767.4 L1035.7 791.4 L1030.7 797.2 L1025.6 797.2 L1020.6 797.2 L1015.6 797.2 L1010.5 797.2 L1005.5 797.2 L1000.5 797.2 L995.5 797.2 L990.4 797.2 L985.4 797.2 L980.4 797.2 L975.3 797.2 L970.3 797.2 L965.3 797.2 L960.2 797.2 L955.2 797.2 L950.2 797.2 L945.2 797.2 L940.1 797.2 L935.1 797.2 L930.1 797.2 L925.0 797.2 L920.0 797.2 L915.0 797.2 L909.9 797.2 L904.9 797.2 L899.9 797.2 L894.9 797.2 L889.8 797.2 L884.8 797.2Z" fill="#7e2f8e" fill-opacity="0.3" stroke="none"/>
<path d="M884.8 796.6h0M889.8 796.6h0M894.9 796.6h0M899.9 796.6h0M904.9 796.6h0M909.9 796.6h0M915.0 796.6h0M920.0 796.6h0M925.0 796.6h0M930.1 796.6h0M935.1 796.6h0M940.1 796.6h0M945.2 796.6h0M950.2 796.6h0M955.2 796.6h0M960.2 796.6h0M965.3 796.6h0M970.3 796.6h0M975.3 796.6h0M980.4 796.6h0M985.4 796.6h0M990.4 796.6h0M995.5 796.6h0M1000.5 796.6h0M1005.5 796.6h0M1010.5 796.6h0M1015.6 796.6h0M1020.6 796.6h0M1025.6 796.6h0M1030.7 796.6h0M1035.7 790.5h0M1040.7 762.2h0M1045.8 712.3h0M1050.8 657.5h0M1055.8 603.9h0M1060.8 557.6h0M1065.9 510.1h0M1070.9 470.3h0M1075.9 443.7h0M1081.0 412.8h0M1086.0 391.6h0M1091.0 376.8h0M1096.1 356.7h0M1101.1 348.1h0M1106.1 335.1h0M1111.2 321.0h0M1116.2 316.3h0M1121.2 313.9h0M1126.2 300.0h0M1131.3 303.4h0M1136.3 296.4h0M1141.3 293.8h0M1146.4 290.4h0M1151.4 290.3h0M1156.4 291.0h0M1161.5 277.7h0M1166.5 285.7h0M1171.5 284.4h0M1176.5 288.7h0M1181.6 279.3h0M1186.6 274.6h0M1191.6 273.7h0M1196.7 268.5h0M1201.7 272.4h0M1206.7 275.8h0M1211.8 276.8h0M1216.8 271.8h0M1221.8 276.5h0M1226.8 275.6h0M1231.9 279.4h0M1236.9 275.6h0M1241.9 269.2h0M1247.0 276.0h0M1252.0 274.4h0M1257.0 283.9h0M1262.1 271.1h0M1267.1 274.3h0M1272.1 270.8h0M1277.1 274.7h0M1282.2 278.4h0M1287.2 280.2h0M1292.2 273.8h0M1297.3 275.6h0M1302.3 278.9h0M1307.3 275.8h0M1312.4 277.7h0M1317.4 273.1h0M1322.4 277.0h0M1327.4 284.7h0M1332.5 293.1h0M1337.5 319.8h0M1342.5 358.2h0M1347.6 387.6h0M1352.6 420.6h0M1357.6 462.7h0M1362.7 493.6h0M1367.7 533.0h0M1372.7 561.9h0M1377.7 597.6h0M1382.8 629.1h0M1387.8 656.4h0M1392.8 683.7h0M1397.9 702.1h0M1402.9 718.4h0M1407.9 734.6h0M1413.0 744.1h0M1418.0 753.0h0M1423.0 763.0h0M1428.0 769.3h0M1433.1 775.1h0M1438.1 779.3h0M1443.1 782.4h0M1448.2 785.0h0M1453.2 787.1h0M1458.2 788.7h0M1463.2 790.3h0M1468.3 791.3h0M1473.3 791.9h0M1478.3 792.4h0M1483.4 792.9h0M1488.4 793.4h0" stroke="#7e2f8e" stroke-width="4" stroke-linecap="round" fill="none"/>
<polyline points="884.8,795.3 885.6,795.3 886.3,795.3 887.1,795.3 887.8,795.3 888.6,795.3 889.3,795.3 890.1,795.3 890.8,795.3 891.6,795.3 892.3,795.3 893.1,795.3 893.9,795.3 894.6,795.3 895.4,795.3 896.1,795.3 896.9,795.3 897.6,795.3 898.4,795.3 899.1,795.3 899.9,795.3 900.6,795.3 901.4,795.3 902.2,795.3 902.9,795.3 903.7,795.3 904.4,795.3 905.2,795.3 905.9,795.3 906.7,795.3 907.4,795.3 908.2,795.3 908.9,795.3 909.7,795.3 910.5,795.3 911.2,795.3 912.0,795.3 912.7,795.3 913.5,795.3 914.2,795.3 915.0,795.3 915.7,795.3 916.5,795.3 917.2,795.3 918.0,795.3 918.8,795.3 919.5,795.3 920.3,795.3 921.0,795.3 921.8,795.3 922.5,795.3 923.3,795.3 924.0,795.3 924.8,795.3 925.5,795.3 926.3,795.3 927.1,795.3 927.8,795.3 928.6,795.3 929.3,795.3 930.1,795.3 930.8,795.3 931.6,795.3 932.3,795.3 933.1,795.3 933.8,795.3 934.6,795.3 935.4,795.3 936.1,795.3 936.9,795.3 937.6,795.3 938.4,795.3 939.1,795.3 939.9,795.3 940.6,795.3 941.4,795.3 942.1,795.3 942.9,795.3 943.7,795.3 944.4,795.3 945.2,795.3 945.9,795.3 946.7,795.3 947.4,795.3 948.2,795.3 948.9,795.3 949.7,795.3 950.4,795.3 951.2,795.3 952.0,795.3 952.7,795.3 953.5,795.3 954.2,795.3 955.0,795.3 955.7,795.3 956.5,795.3 957.2,795.3 958.0,795.3 958.7,795.3 959.5,795.3 960.2,795.3 961.0,795.3 961.8,795.3 962.5,795.3 963.3,795.3 964.0,795.3 964.8,795.3 965.5,795.3 966.3,795.3 967.0,795.3 967.8,795.3 968.5,795.3 969.3,795.3 970.1,795.3 970.8,795.3 971.6,795.3 972.3,795.3 973.1,795.3 973.8,795.3 974.6,795.3 975.3,795.3 976.1,795.3 976.8,795.3 977.6,795.3 978.4,795.3 979.1,795.3 979.9,795.3 980.6,795.3 981.4,795.3 982.1,795.3 982.9,795.3 983.6,795.3 984.4,795.3 985.1,795.3 985.9,795.3 986.7,795.3 987.4,795.3 988.2,795.3 988.9,795.3 989.7,795.3 990.4,795.3 991.2,795.3 991.9,795.3 992.7,795.3 993.4,795.3 994.2,795.3 995.0,795.3 995.7,795.3 996.5,795.3 997.2,795.3 998.0,795.3 998.7,795.3 999.5,795.3 1000.2,795.3 1001.0,795.3 1001.7,795.3 1002.5,795.3 1003.3,795.3 1004.0,795.3 1004.8,795.3 1005.5,795.3 1006.3,795.3 1007.0,795.3 1007.8,795.3 1008.5,795.3 1009.3,795.3 1010.0,795.3 1010.8,795.3 1011.6,795.3 1012.3,795.3 1013.1,795.3 1013.8,795.3 1014.6,795.3 1015.3,795.3 1016.1,795.3 1016.8,795.3 1017.6,795.3 1018.3,795.3 1019.1,795.3 1019.9,795.3 1020.6,795.3 1021.4,795.3 1022.1,795.3 1022.9,795.3 1023.6,795.3 1024.4,795.3 1025.1,795.3 1025.9,795.3 1026.6,795.3 1027.4,795.3 1028.2,795.3 1028.9,795.3 1029.7,795.3 1030.4,795.3 1031.2,795.3 1031.9,795.3 1032.7,795.3 1033.4,795.3 1034.2,795.3 1034.9,795.3 1035.7,794.3 1036.5,792.0 1037.2,788.7 1038.0,784.4 1038.7,779.4 1039.5,773.7 1040.2,767.5 1041.0,760.8 1041.7,753.7 1042.5,746.3 1043.2,738.6 1044.0,730.8 1044.8,722.8 1045.5,714.7 1046.3,706.6 1047.0,698.4 1047.8,690.2 1048.5,682.0 1049.3,673.9 1050.0,665.8 1050.8,657.7 1051.5,649.8 1052.3,641.9 1053.1,634.2 1053.8,626.5 1054.6,618.9 1055.3,611.5 1056.1,604.2 1056.8,597.0 1057.6,590.0 1058.3,583.0 1059.1,576.2 1059.8,569.5 1060.6,563.0 1061.4,556.6 1062.1,550.3 1062.9,544.1 1063.6,538.1 1064.4,532.2 1065.1,526.4 1065.9,520.7 1066.6,515.2 1067.4,509.8 1068.1,504.5 1068.9,499.3 1069.7,494.2 1070.4,489.2 1071.2,484.4 1071.9,479.6 1072.7,475.0 1073.4,470.5 1074.2,466.0 1074.9,461.7 1075.7,457.4 1076.4,453.3 1077.2,449.2 1078.0,445.3 1078.7,441.4 1079.5,437.6 1080.2,433.9 1081.0,430.3 1081.7,426.8 1082.5,423.3 1083.2,420.0 1084.0,416.7 1084.7,413.4 1085.5,410.3 1086.3,407.2 1087.0,404.2 1087.8,401.3 1088.5,398.4 1089.3,395.6 1090.0,392.9 1090.8,390.2 1091.5,387.6 1092.3,385.0 1093.0,382.5 1093.8,380.1 1094.6,377.7 1095.3,375.3 1096.1,373.1 1096.8,370.8 1097.6,368.7 1098.3,366.5 1099.1,364.5 1099.8,362.4 1100.6,360.4 1101.3,358.5 1102.1,356.6 1102.9,354.8 1103.6,352.9 1104.4,351.2 1105.1,349.5 1105.9,347.8 1106.6,346.1 1107.4,344.5 1108.1,342.9 1108.9,341.4 1109.6,339.9 1110.4,338.4 1111.2,337.0 1111.9,335.6 1112.7,334.2 1113.4,332.9 1114.2,331.6 1114.9,330.3 1115.7,329.0 1116.4,327.8 1117.2,326.6 1117.9,325.5 1118.7,324.3 1119.4,323.2 1120.2,322.1 1121.0,321.1 1121.7,320.0 1122.5,319.0 1123.2,318.0 1124.0,317.1 1124.7,316.1 1125.5,315.2 1126.2,314.3 1127.0,313.4 1127.7,312.5 1128.5,311.7 1129.3,310.9 1130.0,310.1 1130.8,309.3 1131.5,308.5 1132.3,307.8 1133.0,307.0 1133.8,306.3 1134.5,305.6 1135.3,304.9 1136.0,304.3 1136.8,303.6 1137.6,303.0 1138.3,302.4 1139.1,301.7 1139.8,301.1 1140.6,300.6 1141.3,300.0 1142.1,299.4 1142.8,298.9 1143.6,298.4 1144.3,297.9 1145.1,297.3 1145.9,296.9 1146.6,296.4 1147.4,295.9 1148.1,295.4 1148.9,295.0 1149.6,294.5 1150.4,294.1 1151.1,293.7 1151.9,293.3 1152.6,292.9 1153.4,292.5 1154.2,292.1 1154.9,291.7 1155.7,291.4 1156.4,291.0 1157.2,290.7 1157.9,290.3 1158.7,290.0 1159.4,289.7 1160.2,289.3 1160.9,289.0 1161.7,288.7 1162.5,288.4 1163.2,288.1 1164.0,287.8 1164.7,287.6 1165.5,287.3 1166.2,287.0 1167.0,286.8 1167.7,286.5 1168.5,286.3 1169.2,286.0 1170.0,285.8 1170.8,285.6 1171.5,285.3 1172.3,285.1 1173.0,284.9 1173.8,284.7 1174.5,284.5 1175.3,284.3 1176.0,284.1 1176.8,283.9 1177.5,283.7 1178.3,283.5 1179.1,283.4 1179.8,283.2 1180.6,283.0 1181.3,282.8 1182.1,282.7 1182.8,282.5 1183.6,282.4 1184.3,282.2 1185.1,282.1 1185.8,281.9 1186.6,281.8 1187.4,281.6 1188.1,281.5 1188.9,281.4 1189.6,281.2 1190.4,281.1 1191.1,281.0 1191.9,280.9 1192.6,280.8 1193.4,280.6 1194.1,280.5 1194.9,280.4 1195.7,280.3 1196.4,280.2 1197.2,280.1 1197.9,280.0 1198.7,279.9 1199.4,279.8 1200.2,279.7 1200.9,279.6 1201.7,279.5 1202.4,279.5 1203.2,279.4 1204.0,279.3 1204.7,279.2 1205.5,279.1 1206.2,279.0 1207.0,279.0 1207.7,278.9 1208.5,278.8 1209.2,278.8 1210.0,278.7 1210.7,278.6 1211.5,278.5 1212.3,278.5 1213.0,278.4 1213.8,278.4 1214.5,278.3 1215.3,278.2 1216.0,278.2 1216.8,278.1 1217.5,278.1 1218.3,278.0 1219.0,278.0 1219.8,277.9 1220.6,277.9 1221.3,277.8 1222.1,277.8 1222.8,277.7 1223.6,277.7 1224.3,277.6 1225.1,277.6 1225.8,277.5 1226.6,277.5 1227.3,277.5 1228.1,277.4 1228.9,277.4 1229.6,277.3 1230.4,277.3 1231.1,277.3 1231.9,277.2 1232.6,277.2 1233.4,277.2 1234.1,277.1 1234.9,277.1 1235.6,277.1 1236.4,277.0 1237.2,277.0 1237.9,277.0 1238.7,277.0 1239.4,276.9 1240.2,276.9 1240.9,276.9 1241.7,276.8 1242.4,276.8 1243.2,276.8 1243.9,276.8 1244.7,276.7 1245.5,276.7 1246.2,276.7 1247.0,276.7 1247.7,276.7 1248.5,276.6 1249.2,276.6 1250.0,276.6 1250.7,276.6 1251.5,276.6 1252.2,276.5 1253.0,276.5 1253.8,276.5 1254.5,276.5 1255.3,276.5 1256.0,276.4 1256.8,276.4 1257.5,276.4 1258.3,276.4 1259.0,276.4 1259.8,276.4 1260.5,276.4 1261.3,276.3 1262.1,276.3 1262.8,276.3 1263.6,276.3 1264.3,276.3 1265.1,276.3 1265.8,276.3 1266.6,276.2 1267.3,276.2 1268.1,276.2 1268.8,276.2 1269.6,276.2 1270.3,276.2 1271.1,276.2 1271.9,276.2 1272.6,276.2 1273.4,276.2 1274.1,276.1 1274.9,276.1 1275.6,276.1 1276.4,276.1 1277.1,276.1 1277.9,276.1 1278.6,276.1 1279.4,276.1 1280.2,276.1 1280.9,276.1 1281.7,276.1 1282.4,276.0 1283.2,276.0 1283.9,276.0 1284.7,276.0 1285.4,276.0 1286.2,276.0 1286.9,276.0 1287.7,276.0 1288.5,276.0 1289.2,276.0 1290.0,276.0 1290.7,276.0 1291.5,276.0 1292.2,276.0 1293.0,276.0 1293.7,276.0 1294.5,276.0 1295.2,275.9 1296.0,275.9 1296.8,275.9 1297.5,275.9 1298.3,275.9 1299.0,275.9 1299.8,275.9 1300.5,275.9 1301.3,275.9 1302.0,275.9 1302.8,275.9 1303.5,275.9 1304.3,275.9 1305.1,275.9 1305.8,275.9 1306.6,275.9 1307.3,275.9 1308.1,275.9 1308.8,275.9 1309.6,275.9 1310.3,275.9 1311.1,275.9 1311.8,275.9 1312.6,275.9 1313.4,275.9 1314.1,275.9 1314.9,275.8 1315.6,275.8 1316.4,275.8 1317.1,275.8 1317.9,275.8 1318.6,275.8 1319.4,275.8 1320.1,275.8 1320.9,275.8 1321.7,275.8 1322.4,275.8 1323.2,275.8 1323.9,275.8 1324.7,275.8 1325.4,275.8 1326.2,275.8 1326.9,275.8 1327.7,275.8 1328.4,275.8 1329.2,275.8 1330.0,275.8 1330.7,275.8 1331.5,275.8 1332.2,275.8 1333.0,275.8 1333.7,275.8 1334.5,275.8 1335.2,275.8 1336.0,275.8 1336.7,275.8 1337.5,275.8 1338.3,275.8 1339.0,275.8 1339.8,275.8 1340.5,277.4 1341.3,287.1 1342.0,297.9 1342.8,308.6 1343.5,319.0 1344.3,329.3 1345.0,339.3 1345.8,349.1 1346.6,358.7 1347.3,368.1 1348.1,377.3 1348.8,386.3 1349.6,395.1 1350.3,403.7 1351.1,412.1 1351.8,420.3 1352.6,428.4 1353.3,436.3 1354.1,444.0 1354.9,451.6 1355.6,458.9 1356.4,466.2 1357.1,473.3 1357.9,480.2 1358.6,487.0 1359.4,493.6 1360.1,500.1 1360.9,506.4 1361.6,512.6 1362.4,518.7 1363.2,524.7 1363.9,530.5 1364.7,536.2 1365.4,541.7 1366.2,547.2 1366.9,552.5 1367.7,557.8 1368.4,562.9 1369.2,567.9 1369.9,572.8 1370.7,577.5 1371.5,582.2 1372.2,586.8 1373.0,591.3 1373.7,595.7 1374.5,600.0 1375.2,604.2 1376.0,608.3 1376.7,612.3 1377.5,616.2 1378.2,620.1 1379.0,623.9 1379.8,627.5 1380.5,631.1 1381.3,634.7 1382.0,638.1 1382.8,641.5 1383.5,644.8 1384.3,648.1 1385.0,651.2 1385.8,654.3 1386.5,657.3 1387.3,660.3 1388.1,663.2 1388.8,666.1 1389.6,668.8 1390.3,671.6 1391.1,674.2 1391.8,676.8 1392.6,679.4 1393.3,681.9 1394.1,684.3 1394.8,686.7 1395.6,689.0 1396.4,691.3 1397.1,693.5 1397.9,695.7 1398.6,697.9 1399.4,700.0 1400.1,702.0 1400.9,704.0 1401.6,706.0 1402.4,707.9 1403.1,709.8 1403.9,711.6 1404.7,713.4 1405.4,715.2 1406.2,716.9 1406.9,718.6 1407.7,720.2 1408.4,721.9 1409.2,723.4 1409.9,725.0 1410.7,726.5 1411.4,728.0 1412.2,729.4 1413.0,730.8 1413.7,732.2 1414.5,733.6 1415.2,734.9 1416.0,736.2 1416.7,737.5 1417.5,738.7 1418.2,739.9 1419.0,741.1 1419.7,742.3 1420.5,743.4 1421.2,744.5 1422.0,745.6 1422.8,746.7 1423.5,747.7 1424.3,748.8 1425.0,749.8 1425.8,750.7 1426.5,751.7 1427.3,752.6 1428.0,753.6 1428.8,754.5 1429.5,755.3 1430.3,756.2 1431.1,757.0 1431.8,757.9 1432.6,758.7 1433.3,759.4 1434.1,760.2 1434.8,761.0 1435.6,761.7 1436.3,762.4 1437.1,763.1 1437.8,763.8 1438.6,764.5 1439.4,765.2 1440.1,765.8 1440.9,766.5 1441.6,767.1 1442.4,767.7 1443.1,768.3 1443.9,768.9 1444.6,769.4 1445.4,770.0 1446.1,770.5 1446.9,771.1 1447.7,771.6 1448.4,772.1 1449.2,772.6 1449.9,773.1 1450.7,773.6 1451.4,774.0 1452.2,774.5 1452.9,774.9 1453.7,775.4 1454.4,775.8 1455.2,776.2 1456.0,776.6 1456.7,777.0 1457.5,777.4 1458.2,777.8 1459.0,778.2 1459.7,778.5 1460.5,778.9 1461.2,779.3 1462.0,779.6 1462.7,779.9 1463.5,780.3 1464.3,780.6 1465.0,780.9 1465.8,781.2 1466.5,781.5 1467.3,781.8 1468.0,782.1 1468.8,782.4 1469.5,782.7 1470.3,782.9 1471.0,783.2 1471.8,783.5 1472.6,783.7 1473.3,784.0 1474.1,784.2 1474.8,784.4 1475.6,784.7 1476.3,784.9 1477.1,785.1 1477.8,785.3 1478.6,785.6 1479.3,785.8 1480.1,786.0 1480.9,786.2 1481.6,786.4 1482.4,786.6 1483.1,786.8 1483.9,786.9 1484.6,787.1 1485.4,787.3 1486.1,787.5 1486.9,787.6 1487.6,787.8 1488.4,788.0" fill="none" stroke="#7e2f8e" stroke-width="2" stroke-linejoin="round"/>
<path clip-path="url(#clipB)" d="M884.8 796.0 L889.8 796.0 L894.9 796.0 L899.9 796.0 L904.9 796.0 L909.9 796.0 L915.0 796.0 L920.0 796.0 L925.0 796.0 L930.1 796.0 L935.1 796.0 L940.1 796.0 L945.2 796.0 L950.2 796.0 L955.2 796.0 L960.2 796.0 L965.3 796.0 L970.3 796.0 L975.3 796.0 L980.4 796.0 L985.4 796.0 L990.4 796.0 L995.5 796.0 L1000.5 796.0 L1005.5 796.0 L1010.5 796.0 L1015.6 796.0 L1020.6 796.0 L1025.6 796.0 L1030.7 796.0 L1035.7 763.3 L1040.7 718.9 L1045.8 674.2 L1050.8 627.2 L1055.8 592.4 L1060.8 561.4 L1065.9 525.0 L1070.9 501.3 L1075.9 469.9 L1081.0 460.8 L1086.0 442.0 L1091.0 428.1 L1096.1 411.7 L1101.1 410.1 L1106.1 398.6 L1111.2 382.0 L1116.2 375.5 L1121.2 379.6 L1126.2 367.7 L1131.3 370.4 L1136.3 367.1 L1141.3 364.1 L1146.4 353.5 L1151.4 355.8 L1156.4 349.2 L1161.5 345.9 L1166.5 353.9 L1171.5 348.7 L1176.5 339.1 L1181.6 349.0 L1186.6 343.0 L1191.6 343.4 L1196.7 334.1 L1201.7 334.6 L1206.7 329.1 L1211.8 335.6 L1216.8 331.5 L1221.8 341.0 L1226.8 339.9 L1231.9 333.1 L1236.9 333.0 L1241.9 327.8 L1247.0 325.9 L1252.0 337.2 L1257.0 333.4 L1262.1 334.7 L1267.1 327.0 L1272.1 330.3 L1277.1 325.5 L1282.2 332.3 L1287.2 330.1 L1292.2 322.2 L1297.3 324.3 L1302.3 335.2 L1307.3 335.1 L1312.4 340.7 L1317.4 331.5 L1322.4 337.7 L1327.4 331.7 L1332.5 352.3 L1337.5 360.9 L1342.5 393.1 L1347.6 426.2 L1352.6 461.4 L1357.6 488.4 L1362.7 517.7 L1367.7 545.5 L1372.7 571.4 L1377.7 602.3 L1382.8 628.8 L1387.8 654.2 L1392.8 677.6 L1397.9 696.6 L1402.9 710.2 L1407.9 723.9 L1413.0 737.9 L1418.0 746.0 L1423.0 753.2 L1428.0 761.9 L1433.1 768.0 L1438.1 772.5 L1443.1 776.5 L1448.2 779.8 L1453.2 782.2 L1458.2 784.3 L1463.2 786.0 L1468.3 787.1 L1473.3 788.2 L1478.3 789.0 L1483.4 789.6 L1488.4 790.1 L1488.4 790.4 L1483.4 790.0 L1478.3 789.5 L1473.3 789.1 L1468.3 788.2 L1463.2 787.1 L1458.2 785.7 L1453.2 783.7 L1448.2 781.6 L1443.1 778.8 L1438.1 775.5 L1433.1 771.4 L1428.0 766.5 L1423.0 758.4 L1418.0 750.6 L1413.0 743.8 L1407.9 732.6 L1402.9 719.2 L1397.9 705.6 L1392.8 689.0 L1387.8 668.5 L1382.8 644.3 L1377.7 621.0 L1372.7 593.1 L1367.7 565.4 L1362.7 537.7 L1357.6 510.9 L1352.6 484.1 L1347.6 452.4 L1342.5 420.8 L1337.5 392.9 L1332.5 378.0 L1327.4 359.2 L1322.4 352.5 L1317.4 342.2 L1312.4 352.5 L1307.3 352.1 L1302.3 367.3 L1297.3 358.2 L1292.2 351.8 L1287.2 368.3 L1282.2 356.8 L1277.1 362.4 L1272.1 366.4 L1267.1 361.2 L1262.1 362.7 L1257.0 353.5 L1252.0 360.6 L1247.0 358.1 L1241.9 356.5 L1236.9 364.3 L1231.9 353.0 L1226.8 358.0 L1221.8 358.8 L1216.8 361.5 L1211.8 359.8 L1206.7 361.4 L1201.7 358.1 L1196.7 360.1 L1191.6 358.2 L1186.6 357.5 L1181.6 367.5 L1176.5 361.6 L1171.5 366.2 L1166.5 369.9 L1161.5 369.2 L1156.4 369.0 L1151.4 372.5 L1146.4 368.6 L1141.3 380.6 L1136.3 380.6 L1131.3 386.1 L1126.2 390.1 L1121.2 401.8 L1116.2 403.8 L1111.2 402.0 L1106.1 420.8 L1101.1 430.7 L1096.1 437.7 L1091.0 452.6 L1086.0 466.6 L1081.0 491.2 L1075.9 506.0 L1070.9 526.5 L1065.9 553.0 L1060.8 582.7 L1055.8 613.8 L1050.8 652.5 L1045.8 698.5 L1040.7 740.2 L1035.7 777.1 L1030.7 797.2 L1025.6 797.2 L1020.6 797.2 L1015.6 797.2 L1010.5 797.2 L1005.5 797.2 L1000.5 797.2 L995.5 797.2 L990.4 797.2 L985.4 797.2 L980.4 797.2 L975.3 797.2 L970.3 797.2 L965.3 797.2 L960.2 797.2 L955.2 797.2 L950.2 797.2 L945.2 797.2 L940.1 797.2 L935.1 797.2 L930.1 797.2 L925.0 797.2 L920.0 797.2 L915.0 797.2 L909.9 797.2 L904.9 797.2 L899.9 797.2 L894.9 797.2 L889.8 797.2 L884.8 797.2Z" fill="#77ac30" fill-opacity="0.3" stroke="none"/>
<path d="M884.8 796.6h0M889.8 796.6h0M894.9 796.6h0M899.9 796.6h0M904.9 796.6h0M909.9 796.6h0M915.0 796.6h0M920.0 796.6h0M925.0 796.6h0M930.1 796.6h0M935.1 796.6h0M940.1 796.6h0M945.2 796.6h0M950.2 796.6h0M955.2 796.6h0M960.2 796.6h0M965.3 796.6h0M970.3 796.6h0M975.3 796.6h0M980.4 796.6h0M985.4 796.6h0M990.4 796.6h0M995.5 796.6h0M1000.5 796.6h0M1005.5 796.6h0M1010.5 796.6h0M1015.6 796.6h0M1020.6 796.6h0M1025.6 796.6h0M1030.7 796.6h0M1035.7 772.2h0M1040.7 730.0h0M1045.8 686.1h0M1050.8 639.4h0M1055.8 602.7h0M1060.8 571.6h0M1065.9 538.6h0M1070.9 513.5h0M1075.9 487.6h0M1081.0 475.7h0M1086.0 454.1h0M1091.0 440.1h0M1096.1 424.5h0M1101.1 420.2h0M1106.1 409.6h0M1111.2 391.9h0M1116.2 389.6h0M1121.2 390.6h0M1126.2 378.8h0M1131.3 378.2h0M1136.3 373.8h0M1141.3 372.3h0M1146.4 361.0h0M1151.4 364.1h0M1156.4 359.0h0M1161.5 357.5h0M1166.5 361.9h0M1171.5 357.4h0M1176.5 350.3h0M1181.6 358.2h0M1186.6 350.2h0M1191.6 350.8h0M1196.7 347.1h0M1201.7 346.3h0M1206.7 345.2h0M1211.8 347.7h0M1216.8 346.5h0M1221.8 349.9h0M1226.8 349.0h0M1231.9 343.0h0M1236.9 348.7h0M1241.9 342.1h0M1247.0 342.0h0M1252.0 348.9h0M1257.0 343.4h0M1262.1 348.7h0M1267.1 344.1h0M1272.1 348.4h0M1277.1 343.9h0M1282.2 344.5h0M1287.2 349.2h0M1292.2 337.0h0M1297.3 341.3h0M1302.3 351.3h0M1307.3 343.6h0M1312.4 346.6h0M1317.4 336.8h0M1322.4 345.1h0M1327.4 343.3h0M1332.5 366.6h0M1337.5 374.4h0M1342.5 407.0h0M1347.6 439.0h0M1352.6 473.7h0M1357.6 499.4h0M1362.7 527.8h0M1367.7 555.6h0M1372.7 581.8h0M1377.7 612.3h0M1382.8 636.5h0M1387.8 661.7h0M1392.8 683.7h0M1397.9 701.6h0M1402.9 714.7h0M1407.9 728.3h0M1413.0 741.5h0M1418.0 748.3h0M1423.0 755.6h0M1428.0 764.6h0M1433.1 769.8h0M1438.1 774.0h0M1443.1 777.7h0M1448.2 780.8h0M1453.2 782.9h0M1458.2 785.0h0M1463.2 786.6h0M1468.3 787.7h0M1473.3 788.7h0M1478.3 789.2h0M1483.4 789.8h0M1488.4 790.3h0" stroke="#77ac30" stroke-width="4" stroke-linecap="round" fill="none"/>
<polyline points="884.8,795.8 885.6,795.8 886.3,795.8 887.1,795.8 887.8,795.8 888.6,795.8 889.3,795.8 890.1,795.8 890.8,795.8 891.6,795.8 892.3,795.8 893.1,795.8 893.9,795.8 894.6,795.8 895.4,795.8 896.1,795.8 896.9,795.8 897.6,795.8 898.4,795.8 899.1,795.8 899.9,795.8 900.6,795.8 901.4,795.8 902.2,795.8 902.9,795.8 903.7,795.8 904.4,795.8 905.2,795.8 905.9,795.8 906.7,795.8 907.4,795.8 908.2,795.8 908.9,795.8 909.7,795.8 910.5,795.8 911.2,795.8 912.0,795.8 912.7,795.8 913.5,795.8 914.2,795.8 915.0,795.8 915.7,795.8 916.5,795.8 917.2,795.8 918.0,795.8 918.8,795.8 919.5,795.8 920.3,795.8 921.0,795.8 921.8,795.8 922.5,795.8 923.3,795.8 924.0,795.8 924.8,795.8 925.5,795.8 926.3,795.8 927.1,795.8 927.8,795.8 928.6,795.8 929.3,795.8 930.1,795.8 930.8,795.8 931.6,795.8 932.3,795.8 933.1,795.8 933.8,795.8 934.6,795.8 935.4,795.8 936.1,795.8 936.9,795.8 937.6,795.8 938.4,795.8 939.1,795.8 939.9,795.8 940.6,795.8 941.4,795.8 942.1,795.8 942.9,795.8 943.7,795.8 944.4,795.8 945.2,795.8 945.9,795.8 946.7,795.8 947.4,795.8 948.2,795.8 948.9,795.8 949.7,795.8 950.4,795.8 951.2,795.8 952.0,795.8 952.7,795.8 953.5,795.8 954.2,795.8 955.0,795.8 955.7,795.8 956.5,795.8 957.2,795.8 958.0,795.8 958.7,795.8 959.5,795.8 960.2,795.8 961.0,795.8 961.8,795.8 962.5,795.8 963.3,795.8 964.0,795.8 964.8,795.8 965.5,795.8 966.3,795.8 967.0,795.8 967.8,795.8 968.5,795.8 969.3,795.8 970.1,795.8 970.8,795.8 971.6,795.8 972.3,795.8 973.1,795.8 973.8,795.8 974.6,795.8 975.3,795.8 976.1,795.8 976.8,795.8 977.6,795.8 978.4,795.8 979.1,795.8 979.9,795.8 980.6,795.8 981.4,795.8 982.1,795.8 982.9,795.8 983.6,795.8 984.4,795.8 985.1,795.8 985.9,795.8 986.7,795.8 987.4,795.8 988.2,795.8 988.9,795.8 989.7,795.8 990.4,795.8 991.2,795.8 991.9,795.8 992.7,795.8 993.4,795.8 994.2,795.8 995.0,795.8 995.7,795.8 996.5,795.8 997.2,795.8 998.0,795.8 998.7,795.8 999.5,795.8 1000.2,795.8 1001.0,795.8 1001.7,795.8 1002.5,795.8 1003.3,795.8 1004.0,795.8 1004.8,795.8 1005.5,795.8 1006.3,795.8 1007.0,795.8 1007.8,795.8 1008.5,795.8 1009.3,795.8 1010.0,795.8 1010.8,795.8 1011.6,795.8 1012.3,795.8 1013.1,795.8 1013.8,795.8 1014.6,795.8 1015.3,795.8 1016.1,795.8 1016.8,795.8 1017.6,795.8 1018.3,795.8 1019.1,795.8 1019.9,795.8 1020.6,795.8 1021.4,795.8 1022.1,795.8 1022.9,795.8 1023.6,795.8 1024.4,795.8 1025.1,795.8 1025.9,795.8 1026.6,795.8 1027.4,795.8 1028.2,795.8 1028.9,795.8 1029.7,795.8 1030.4,795.8 1031.2,795.8 1031.9,795.8 1032.7,795.8 1033.4,795.8 1034.2,795.8 1034.9,795.6 1035.7,794.1 1036.5,791.4 1037.2,787.9 1038.0,783.5 1038.7,778.5 1039.5,773.0 1040.2,767.1 1041.0,760.9 1041.7,754.4 1042.5,747.7 1043.2,740.9 1044.0,733.9 1044.8,726.9 1045.5,719.9 1046.3,712.9 1047.0,705.8 1047.8,698.9 1048.5,691.9 1049.3,685.1 1050.0,678.3 1050.8,671.6 1051.5,665.0 1052.3,658.5 1053.1,652.0 1053.8,645.7 1054.6,639.5 1055.3,633.4 1056.1,627.4 1056.8,621.6 1057.6,615.8 1058.3,610.1 1059.1,604.6 1059.8,599.1 1060.6,593.8 1061.4,588.6 1062.1,583.4 1062.9,578.4 1063.6,573.5 1064.4,568.7 1065.1,564.0 1065.9,559.3 1066.6,554.8 1067.4,550.4 1068.1,546.0 1068.9,541.8 1069.7,537.6 1070.4,533.5 1071.2,529.5 1071.9,525.6 1072.7,521.8 1073.4,518.1 1074.2,514.4 1074.9,510.8 1075.7,507.3 1076.4,503.9 1077.2,500.5 1078.0,497.2 1078.7,494.0 1079.5,490.8 1080.2,487.7 1081.0,484.7 1081.7,481.7 1082.5,478.8 1083.2,476.0 1084.0,473.2 1084.7,470.5 1085.5,467.8 1086.3,465.2 1087.0,462.7 1087.8,460.2 1088.5,457.7 1089.3,455.3 1090.0,453.0 1090.8,450.7 1091.5,448.5 1092.3,446.3 1093.0,444.1 1093.8,442.0 1094.6,439.9 1095.3,437.9 1096.1,435.9 1096.8,434.0 1097.6,432.1 1098.3,430.3 1099.1,428.5 1099.8,426.7 1100.6,424.9 1101.3,423.2 1102.1,421.6 1102.9,419.9 1103.6,418.4 1104.4,416.8 1105.1,415.3 1105.9,413.8 1106.6,412.3 1107.4,410.9 1108.1,409.5 1108.9,408.1 1109.6,406.8 1110.4,405.4 1111.2,404.1 1111.9,402.9 1112.7,401.7 1113.4,400.4 1114.2,399.3 1114.9,398.1 1115.7,397.0 1116.4,395.9 1117.2,394.8 1117.9,393.7 1118.7,392.7 1119.4,391.7 1120.2,390.7 1121.0,389.7 1121.7,388.7 1122.5,387.8 1123.2,386.9 1124.0,386.0 1124.7,385.1 1125.5,384.2 1126.2,383.4 1127.0,382.6 1127.7,381.8 1128.5,381.0 1129.3,380.2 1130.0,379.5 1130.8,378.7 1131.5,378.0 1132.3,377.3 1133.0,376.6 1133.8,375.9 1134.5,375.3 1135.3,374.6 1136.0,374.0 1136.8,373.4 1137.6,372.7 1138.3,372.1 1139.1,371.6 1139.8,371.0 1140.6,370.4 1141.3,369.9 1142.1,369.3 1142.8,368.8 1143.6,368.3 1144.3,367.8 1145.1,367.3 1145.9,366.8 1146.6,366.4 1147.4,365.9 1148.1,365.4 1148.9,365.0 1149.6,364.6 1150.4,364.1 1151.1,363.7 1151.9,363.3 1152.6,362.9 1153.4,362.5 1154.2,362.2 1154.9,361.8 1155.7,361.4 1156.4,361.1 1157.2,360.7 1157.9,360.4 1158.7,360.0 1159.4,359.7 1160.2,359.4 1160.9,359.1 1161.7,358.8 1162.5,358.5 1163.2,358.2 1164.0,357.9 1164.7,357.6 1165.5,357.3 1166.2,357.0 1167.0,356.8 1167.7,356.5 1168.5,356.3 1169.2,356.0 1170.0,355.8 1170.8,355.5 1171.5,355.3 1172.3,355.1 1173.0,354.9 1173.8,354.6 1174.5,354.4 1175.3,354.2 1176.0,354.0 1176.8,353.8 1177.5,353.6 1178.3,353.4 1179.1,353.2 1179.8,353.0 1180.6,352.9 1181.3,352.7 1182.1,352.5 1182.8,352.3 1183.6,352.2 1184.3,352.0 1185.1,351.9 1185.8,351.7 1186.6,351.6 1187.4,351.4 1188.1,351.3 1188.9,351.1 1189.6,351.0 1190.4,350.8 1191.1,350.7 1191.9,350.6 1192.6,350.4 1193.4,350.3 1194.1,350.2 1194.9,350.1 1195.7,350.0 1196.4,349.8 1197.2,349.7 1197.9,349.6 1198.7,349.5 1199.4,349.4 1200.2,349.3 1200.9,349.2 1201.7,349.1 1202.4,349.0 1203.2,348.9 1204.0,348.8 1204.7,348.7 1205.5,348.6 1206.2,348.6 1207.0,348.5 1207.7,348.4 1208.5,348.3 1209.2,348.2 1210.0,348.1 1210.7,348.1 1211.5,348.0 1212.3,347.9 1213.0,347.8 1213.8,347.8 1214.5,347.7 1215.3,347.6 1216.0,347.6 1216.8,347.5 1217.5,347.4 1218.3,347.4 1219.0,347.3 1219.8,347.3 1220.6,347.2 1221.3,347.1 1222.1,347.1 1222.8,347.0 1223.6,347.0 1224.3,346.9 1225.1,346.9 1225.8,346.8 1226.6,346.8 1227.3,346.7 1228.1,346.7 1228.9,346.6 1229.6,346.6 1230.4,346.6 1231.1,346.5 1231.9,346.5 1232.6,346.4 1233.4,346.4 1234.1,346.3 1234.9,346.3 1235.6,346.3 1236.4,346.2 1237.2,346.2 1237.9,346.2 1238.7,346.1 1239.4,346.1 1240.2,346.1 1240.9,346.0 1241.7,346.0 1242.4,346.0 1243.2,345.9 1243.9,345.9 1244.7,345.9 1245.5,345.8 1246.2,345.8 1247.0,345.8 1247.7,345.8 1248.5,345.7 1249.2,345.7 1250.0,345.7 1250.7,345.7 1251.5,345.6 1252.2,345.6 1253.0,345.6 1253.8,345.6 1254.5,345.5 1255.3,345.5 1256.0,345.5 1256.8,345.5 1257.5,345.5 1258.3,345.4 1259.0,345.4 1259.8,345.4 1260.5,345.4 1261.3,345.4 1262.1,345.3 1262.8,345.3 1263.6,345.3 1264.3,345.3 1265.1,345.3 1265.8,345.3 1266.6,345.2 1267.3,345.2 1268.1,345.2 1268.8,345.2 1269.6,345.2 1270.3,345.2 1271.1,345.2 1271.9,345.1 1272.6,345.1 1273.4,345.1 1274.1,345.1 1274.9,345.1 1275.6,345.1 1276.4,345.1 1277.1,345.1 1277.9,345.0 1278.6,345.0 1279.4,345.0 1280.2,345.0 1280.9,345.0 1281.7,345.0 1282.4,345.0 1283.2,345.0 1283.9,345.0 1284.7,345.0 1285.4,344.9 1286.2,344.9 1286.9,344.9 1287.7,344.9 1288.5,344.9 1289.2,344.9 1290.0,344.9 1290.7,344.9 1291.5,344.9 1292.2,344.9 1293.0,344.9 1293.7,344.9 1294.5,344.8 1295.2,344.8 1296.0,344.8 1296.8,344.8 1297.5,344.8 1298.3,344.8 1299.0,344.8 1299.8,344.8 1300.5,344.8 1301.3,344.8 1302.0,344.8 1302.8,344.8 1303.5,344.8 1304.3,344.8 1305.1,344.8 1305.8,344.8 1306.6,344.7 1307.3,344.7 1308.1,344.7 1308.8,344.7 1309.6,344.7 1310.3,344.7 1311.1,344.7 1311.8,344.7 1312.6,344.7 1313.4,344.7 1314.1,344.7 1314.9,344.7 1315.6,344.7 1316.4,344.7 1317.1,344.7 1317.9,344.7 1318.6,344.7 1319.4,344.7 1320.1,344.7 1320.9,344.7 1321.7,344.7 1322.4,344.7 1323.2,344.7 1323.9,344.7 1324.7,344.7 1325.4,344.7 1326.2,344.6 1326.9,344.6 1327.7,344.6 1328.4,344.6 1329.2,344.6 1330.0,344.6 1330.7,344.6 1331.5,344.6 1332.2,344.6 1333.0,344.6 1333.7,344.6 1334.5,344.6 1335.2,344.6 1336.0,344.6 1336.7,344.6 1337.5,344.6 1338.3,344.6 1339.0,344.6 1339.8,344.6 1340.5,345.9 1341.3,353.8 1342.0,362.6 1342.8,371.3 1343.5,379.8 1344.3,388.2 1345.0,396.4 1345.8,404.4 1346.6,412.3 1347.3,420.0 1348.1,427.6 1348.8,435.0 1349.6,442.3 1350.3,449.4 1351.1,456.3 1351.8,463.2 1352.6,469.9 1353.3,476.4 1354.1,482.8 1354.9,489.1 1355.6,495.3 1356.4,501.4 1357.1,507.3 1357.9,513.1 1358.6,518.8 1359.4,524.3 1360.1,529.8 1360.9,535.2 1361.6,540.4 1362.4,545.5 1363.2,550.6 1363.9,555.5 1364.7,560.3 1365.4,565.1 1366.2,569.7 1366.9,574.3 1367.7,578.7 1368.4,583.1 1369.2,587.4 1369.9,591.6 1370.7,595.7 1371.5,599.7 1372.2,603.7 1373.0,607.5 1373.7,611.3 1374.5,615.0 1375.2,618.7 1376.0,622.2 1376.7,625.7 1377.5,629.1 1378.2,632.5 1379.0,635.8 1379.8,639.0 1380.5,642.2 1381.3,645.2 1382.0,648.3 1382.8,651.2 1383.5,654.2 1384.3,657.0 1385.0,659.8 1385.8,662.5 1386.5,665.2 1387.3,667.8 1388.1,670.4 1388.8,672.9 1389.6,675.4 1390.3,677.8 1391.1,680.2 1391.8,682.5 1392.6,684.8 1393.3,687.0 1394.1,689.2 1394.8,691.4 1395.6,693.5 1396.4,695.5 1397.1,697.6 1397.9,699.5 1398.6,701.5 1399.4,703.4 1400.1,705.2 1400.9,707.1 1401.6,708.8 1402.4,710.6 1403.1,712.3 1403.9,714.0 1404.7,715.6 1405.4,717.2 1406.2,718.8 1406.9,720.4 1407.7,721.9 1408.4,723.4 1409.2,724.8 1409.9,726.3 1410.7,727.7 1411.4,729.0 1412.2,730.4 1413.0,731.7 1413.7,733.0 1414.5,734.2 1415.2,735.5 1416.0,736.7 1416.7,737.9 1417.5,739.1 1418.2,740.2 1419.0,741.3 1419.7,742.4 1420.5,743.5 1421.2,744.5 1422.0,745.6 1422.8,746.6 1423.5,747.6 1424.3,748.5 1425.0,749.5 1425.8,750.4 1426.5,751.3 1427.3,752.2 1428.0,753.1 1428.8,754.0 1429.5,754.8 1430.3,755.6 1431.1,756.4 1431.8,757.2 1432.6,758.0 1433.3,758.8 1434.1,759.5 1434.8,760.2 1435.6,761.0 1436.3,761.7 1437.1,762.4 1437.8,763.0 1438.6,763.7 1439.4,764.3 1440.1,765.0 1440.9,765.6 1441.6,766.2 1442.4,766.8 1443.1,767.4 1443.9,767.9 1444.6,768.5 1445.4,769.1 1446.1,769.6 1446.9,770.1 1447.7,770.6 1448.4,771.1 1449.2,771.6 1449.9,772.1 1450.7,772.6 1451.4,773.1 1452.2,773.5 1452.9,774.0 1453.7,774.4 1454.4,774.8 1455.2,775.3 1456.0,775.7 1456.7,776.1 1457.5,776.5 1458.2,776.9 1459.0,777.3 1459.7,777.6 1460.5,778.0 1461.2,778.4 1462.0,778.7 1462.7,779.0 1463.5,779.4 1464.3,779.7 1465.0,780.0 1465.8,780.4 1466.5,780.7 1467.3,781.0 1468.0,781.3 1468.8,781.6 1469.5,781.9 1470.3,782.1 1471.0,782.4 1471.8,782.7 1472.6,782.9 1473.3,783.2 1474.1,783.5 1474.8,783.7 1475.6,783.9 1476.3,784.2 1477.1,784.4 1477.8,784.6 1478.6,784.9 1479.3,785.1 1480.1,785.3 1480.9,785.5 1481.6,785.7 1482.4,785.9 1483.1,786.1 1483.9,786.3 1484.6,786.5 1485.4,786.7 1486.1,786.9 1486.9,787.1 1487.6,787.2 1488.4,787.4" fill="none" stroke="#77ac30" stroke-width="2" stroke-linejoin="round"/>
<text transform="translate(884.8,834) scale(1,1.035)" text-anchor="middle" class="tk">0</text>
<text transform="translate(1035.7,834) scale(1,1.035)" text-anchor="middle" class="tk">0.5</text>
<text transform="translate(1186.6,834) scale(1,1.035)" text-anchor="middle" class="tk">1</text>
<text transform="translate(1337.5,834) scale(1,1.035)" text-anchor="middle" class="tk">1.5</text>
<text transform="translate(1488.4,834) scale(1,1.035)" text-anchor="middle" class="tk">2</text>
<text transform="translate(874.4,806.9) scale(1,1.045)" text-anchor="end" class="tk">0</text>
<text transform="translate(874.4,701.9) scale(1,1.045)" text-anchor="end" class="tk">20</text>
<text transform="translate(874.4,596.9) scale(1,1.045)" text-anchor="end" class="tk">40</text>
<text transform="translate(874.4,491.9) scale(1,1.045)" text-anchor="end" class="tk">60</text>
<text transform="translate(874.4,386.8) scale(1,1.045)" text-anchor="end" class="tk">80</text>
<text transform="translate(874.4,281.8) scale(1,1.045)" text-anchor="end" class="tk">100</text>
<text transform="translate(874.4,176.8) scale(1,1.045)" text-anchor="end" class="tk">120</text>
<text transform="translate(874.4,71.8) scale(1,1.045)" text-anchor="end" class="tk">140</text>
<text x="1186.6" y="871.8" text-anchor="middle" class="lab">Time (min)</text>
<text transform="translate(817.5,430.1) rotate(-90)" text-anchor="middle" class="lab">Activity concentration (kBq/mL)</text>
<text transform="translate(1190.3,49.8) scale(1,1.05)" text-anchor="middle" class="ttl">ABSS#2</text>
<text x="855.5" y="30.3" class="tag">(B)</text>
<line x1="1096.0" y1="663.9" x2="1168.8" y2="663.9" stroke="#0072bd" stroke-width="2"/>
<text x="1174.2" y="673.5" class="lg">350 mL/h</text>
<line x1="1096.0" y1="695.4" x2="1168.8" y2="695.4" stroke="#d95319" stroke-width="2"/>
<text x="1174.2" y="705.0" class="lg">300 mL/h</text>
<line x1="1096.0" y1="726.9" x2="1168.8" y2="726.9" stroke="#7e2f8e" stroke-width="2"/>
<text x="1174.2" y="736.5" class="lg">180 mL/h</text>
<line x1="1096.0" y1="758.4" x2="1168.8" y2="758.4" stroke="#77ac30" stroke-width="2"/>
<text x="1174.2" y="768.0" class="lg">150 mL/h</text>
</svg>
</body></html>
